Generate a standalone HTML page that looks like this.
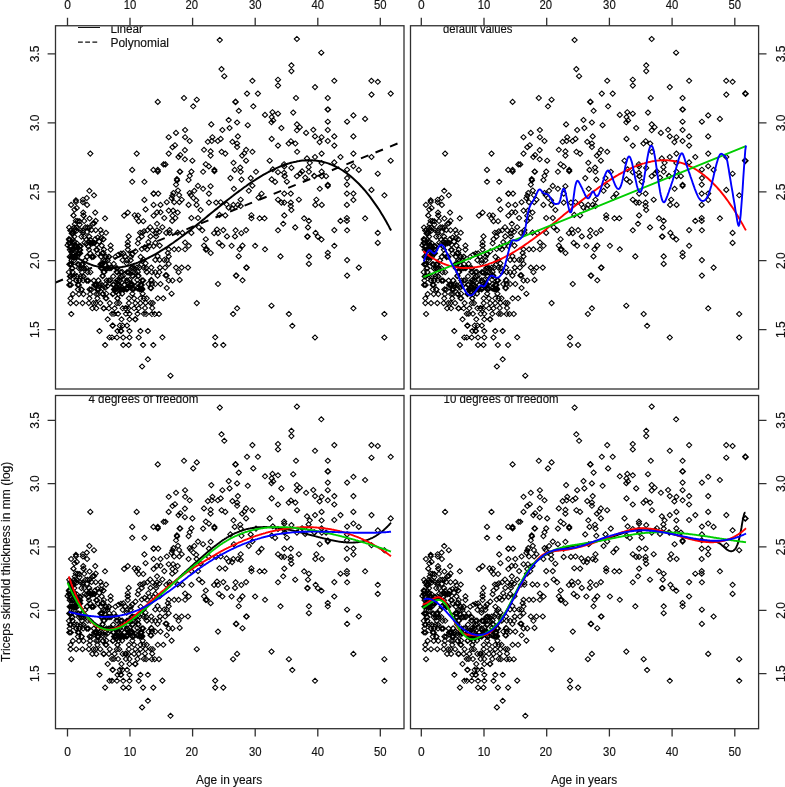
<!DOCTYPE html>
<html><head><meta charset="utf-8"><title>Triceps skinfold thickness by age</title>
<style>html,body{margin:0;padding:0;background:#fff}svg{display:block}text{font-family:"Liberation Sans",Arial,sans-serif;font-size:12px;fill:#111;stroke:#111;stroke-width:0.15px}</style></head><body>
<svg width="785" height="787" viewBox="0 0 785 787">
<rect width="785" height="787" fill="#fff"/>
<clipPath id="cTL"><rect x="56.0" y="26.35" width="347.5" height="362.15"/></clipPath>
<clipPath id="cTR"><rect x="411.0" y="26.35" width="347.1" height="362.15"/></clipPath>
<clipPath id="cBL"><rect x="56.0" y="396.1" width="347.5" height="332.1"/></clipPath>
<clipPath id="cBR"><rect x="411.0" y="396.1" width="347.1" height="332.1"/></clipPath>
<g clip-path="url(#cTL)">
<path d="M87.7,153.6l2.6-2.55l2.6,2.55l-2.6,2.55zM134.1,153.6l2.6-2.55l2.6,2.55l-2.6,2.55zM129.6,169.9l2.6-2.55l2.6,2.55l-2.6,2.55zM129.6,181.8l2.6-2.55l2.6,2.55l-2.6,2.55zM141.8,181.8l2.6-2.55l2.6,2.55l-2.6,2.55zM86.8,190.8l2.6-2.55l2.6,2.55l-2.6,2.55zM91.4,195.3l2.6-2.55l2.6,2.55l-2.6,2.55zM84.2,198.0l2.6-2.55l2.6,2.55l-2.6,2.55zM141.8,199.9l2.6-2.55l2.6,2.55l-2.6,2.55zM73.3,200.3l2.6-2.55l2.6,2.55l-2.6,2.55zM80.3,199.7l2.6-2.55l2.6,2.55l-2.6,2.55zM80.3,202.2l2.6-2.55l2.6,2.55l-2.6,2.55zM73.3,202.0l2.6-2.55l2.6,2.55l-2.6,2.55zM68.5,204.9l2.6-2.55l2.6,2.55l-2.6,2.55zM84.5,204.9l2.6-2.55l2.6,2.55l-2.6,2.55zM226.1,120.0l2.6-2.55l2.6,2.55l-2.6,2.55zM208.7,124.4l2.6-2.55l2.6,2.55l-2.6,2.55zM227.0,128.0l2.6-2.55l2.6,2.55l-2.6,2.55zM219.8,130.0l2.6-2.55l2.6,2.55l-2.6,2.55zM182.5,130.0l2.6-2.55l2.6,2.55l-2.6,2.55zM173.4,132.9l2.6-2.55l2.6,2.55l-2.6,2.55zM166.1,137.2l2.6-2.55l2.6,2.55l-2.6,2.55zM182.5,137.2l2.6-2.55l2.6,2.55l-2.6,2.55zM209.8,137.2l2.6-2.55l2.6,2.55l-2.6,2.55zM187.1,141.0l2.6-2.55l2.6,2.55l-2.6,2.55zM218.1,138.9l2.6-2.55l2.6,2.55l-2.6,2.55zM205.2,141.8l2.6-2.55l2.6,2.55l-2.6,2.55zM209.2,141.0l2.6-2.55l2.6,2.55l-2.6,2.55zM215.2,141.0l2.6-2.55l2.6,2.55l-2.6,2.55zM229.8,141.8l2.6-2.55l2.6,2.55l-2.6,2.55zM172.4,145.2l2.6-2.55l2.6,2.55l-2.6,2.55zM169.9,147.2l2.6-2.55l2.6,2.55l-2.6,2.55zM182.3,150.1l2.6-2.55l2.6,2.55l-2.6,2.55zM201.4,149.8l2.6-2.55l2.6,2.55l-2.6,2.55zM208.0,151.3l2.6-2.55l2.6,2.55l-2.6,2.55zM219.0,151.8l2.6-2.55l2.6,2.55l-2.6,2.55zM222.7,153.6l2.6-2.55l2.6,2.55l-2.6,2.55zM166.1,153.6l2.6-2.55l2.6,2.55l-2.6,2.55zM177.7,155.0l2.6-2.55l2.6,2.55l-2.6,2.55zM175.9,157.0l2.6-2.55l2.6,2.55l-2.6,2.55zM208.0,155.6l2.6-2.55l2.6,2.55l-2.6,2.55zM182.3,159.3l2.6-2.55l2.6,2.55l-2.6,2.55zM189.8,160.7l2.6-2.55l2.6,2.55l-2.6,2.55zM230.9,162.8l2.6-2.55l2.6,2.55l-2.6,2.55zM161.0,164.4l2.6-2.55l2.6,2.55l-2.6,2.55zM162.8,164.4l2.6-2.55l2.6,2.55l-2.6,2.55zM203.2,164.2l2.6-2.55l2.6,2.55l-2.6,2.55zM206.3,166.4l2.6-2.55l2.6,2.55l-2.6,2.55zM150.8,169.9l2.6-2.55l2.6,2.55l-2.6,2.55zM155.2,169.9l2.6-2.55l2.6,2.55l-2.6,2.55zM155.2,171.6l2.6-2.55l2.6,2.55l-2.6,2.55zM211.8,169.9l2.6-2.55l2.6,2.55l-2.6,2.55zM211.8,171.3l2.6-2.55l2.6,2.55l-2.6,2.55zM177.1,171.6l2.6-2.55l2.6,2.55l-2.6,2.55zM177.6,171.7l2.6-2.55l2.6,2.55l-2.6,2.55zM188.8,171.6l2.6-2.55l2.6,2.55l-2.6,2.55zM200.5,171.8l2.6-2.55l2.6,2.55l-2.6,2.55zM232.1,169.9l2.6-2.55l2.6,2.55l-2.6,2.55zM187.1,175.8l2.6-2.55l2.6,2.55l-2.6,2.55zM227.8,178.1l2.6-2.55l2.6,2.55l-2.6,2.55zM174.3,179.1l2.6-2.55l2.6,2.55l-2.6,2.55zM174.5,180.4l2.6-2.55l2.6,2.55l-2.6,2.55zM186.0,180.0l2.6-2.55l2.6,2.55l-2.6,2.55zM173.4,184.6l2.6-2.55l2.6,2.55l-2.6,2.55zM195.4,185.9l2.6-2.55l2.6,2.55l-2.6,2.55zM208.0,186.2l2.6-2.55l2.6,2.55l-2.6,2.55zM200.5,188.8l2.6-2.55l2.6,2.55l-2.6,2.55zM231.3,188.8l2.6-2.55l2.6,2.55l-2.6,2.55zM175.4,190.5l2.6-2.55l2.6,2.55l-2.6,2.55zM191.7,190.8l2.6-2.55l2.6,2.55l-2.6,2.55zM150.8,193.6l2.6-2.55l2.6,2.55l-2.6,2.55zM151.2,193.6l2.6-2.55l2.6,2.55l-2.6,2.55zM155.6,193.6l2.6-2.55l2.6,2.55l-2.6,2.55zM170.8,193.0l2.6-2.55l2.6,2.55l-2.6,2.55zM187.1,193.0l2.6-2.55l2.6,2.55l-2.6,2.55zM206.3,193.6l2.6-2.55l2.6,2.55l-2.6,2.55zM176.5,195.1l2.6-2.55l2.6,2.55l-2.6,2.55zM188.3,195.1l2.6-2.55l2.6,2.55l-2.6,2.55zM169.9,195.7l2.6-2.55l2.6,2.55l-2.6,2.55zM169.0,198.2l2.6-2.55l2.6,2.55l-2.6,2.55zM190.8,198.0l2.6-2.55l2.6,2.55l-2.6,2.55zM179.1,199.7l2.6-2.55l2.6,2.55l-2.6,2.55zM193.6,200.3l2.6-2.55l2.6,2.55l-2.6,2.55zM164.2,202.2l2.6-2.55l2.6,2.55l-2.6,2.55zM171.6,202.2l2.6-2.55l2.6,2.55l-2.6,2.55zM176.8,202.2l2.6-2.55l2.6,2.55l-2.6,2.55zM206.3,202.6l2.6-2.55l2.6,2.55l-2.6,2.55zM213.5,202.6l2.6-2.55l2.6,2.55l-2.6,2.55zM218.1,202.2l2.6-2.55l2.6,2.55l-2.6,2.55zM151.0,204.9l2.6-2.55l2.6,2.55l-2.6,2.55zM157.9,204.9l2.6-2.55l2.6,2.55l-2.6,2.55zM186.0,204.9l2.6-2.55l2.6,2.55l-2.6,2.55zM194.0,204.9l2.6-2.55l2.6,2.55l-2.6,2.55zM224.0,204.3l2.6-2.55l2.6,2.55l-2.6,2.55zM230.7,204.9l2.6-2.55l2.6,2.55l-2.6,2.55zM217.2,40.0l2.6-2.55l2.6,2.55l-2.6,2.55zM218.9,69.1l2.6-2.55l2.6,2.55l-2.6,2.55zM221.7,76.2l2.6-2.55l2.6,2.55l-2.6,2.55zM155.2,101.9l2.6-2.55l2.6,2.55l-2.6,2.55zM181.4,98.0l2.6-2.55l2.6,2.55l-2.6,2.55zM194.2,99.7l2.6-2.55l2.6,2.55l-2.6,2.55zM190.6,106.3l2.6-2.55l2.6,2.55l-2.6,2.55zM294.3,39.0l2.6-2.55l2.6,2.55l-2.6,2.55zM318.7,52.7l2.6-2.55l2.6,2.55l-2.6,2.55zM288.8,65.3l2.6-2.55l2.6,2.55l-2.6,2.55zM288.8,71.1l2.6-2.55l2.6,2.55l-2.6,2.55zM249.8,80.8l2.6-2.55l2.6,2.55l-2.6,2.55zM275.4,79.7l2.6-2.55l2.6,2.55l-2.6,2.55zM275.4,85.6l2.6-2.55l2.6,2.55l-2.6,2.55zM312.4,87.1l2.6-2.55l2.6,2.55l-2.6,2.55zM244.4,93.6l2.6-2.55l2.6,2.55l-2.6,2.55zM255.3,93.6l2.6-2.55l2.6,2.55l-2.6,2.55zM293.4,98.0l2.6-2.55l2.6,2.55l-2.6,2.55zM232.7,101.9l2.6-2.55l2.6,2.55l-2.6,2.55zM233.2,101.9l2.6-2.55l2.6,2.55l-2.6,2.55zM250.7,106.3l2.6-2.55l2.6,2.55l-2.6,2.55zM236.2,110.8l2.6-2.55l2.6,2.55l-2.6,2.55zM269.9,112.2l2.6-2.55l2.6,2.55l-2.6,2.55zM275.4,113.7l2.6-2.55l2.6,2.55l-2.6,2.55zM262.4,114.9l2.6-2.55l2.6,2.55l-2.6,2.55zM290.6,112.6l2.6-2.55l2.6,2.55l-2.6,2.55zM331.7,80.8l2.6-2.55l2.6,2.55l-2.6,2.55zM368.8,80.8l2.6-2.55l2.6,2.55l-2.6,2.55zM375.2,81.8l2.6-2.55l2.6,2.55l-2.6,2.55zM325.2,98.0l2.6-2.55l2.6,2.55l-2.6,2.55zM368.9,94.6l2.6-2.55l2.6,2.55l-2.6,2.55zM388.1,93.6l2.6-2.55l2.6,2.55l-2.6,2.55zM325.0,109.5l2.6-2.55l2.6,2.55l-2.6,2.55zM325.5,109.5l2.6-2.55l2.6,2.55l-2.6,2.55zM350.8,115.4l2.6-2.55l2.6,2.55l-2.6,2.55zM269.1,117.1l2.6-2.55l2.6,2.55l-2.6,2.55zM270.6,120.4l2.6-2.55l2.6,2.55l-2.6,2.55zM268.9,122.3l2.6-2.55l2.6,2.55l-2.6,2.55zM234.5,122.5l2.6-2.55l2.6,2.55l-2.6,2.55zM245.2,125.2l2.6-2.55l2.6,2.55l-2.6,2.55zM278.8,128.0l2.6-2.55l2.6,2.55l-2.6,2.55zM294.3,124.3l2.6-2.55l2.6,2.55l-2.6,2.55zM297.2,127.2l2.6-2.55l2.6,2.55l-2.6,2.55zM294.3,130.3l2.6-2.55l2.6,2.55l-2.6,2.55zM310.7,129.8l2.6-2.55l2.6,2.55l-2.6,2.55zM303.5,132.9l2.6-2.55l2.6,2.55l-2.6,2.55zM235.3,136.4l2.6-2.55l2.6,2.55l-2.6,2.55zM269.1,138.9l2.6-2.55l2.6,2.55l-2.6,2.55zM312.4,136.4l2.6-2.55l2.6,2.55l-2.6,2.55zM319.0,137.2l2.6-2.55l2.6,2.55l-2.6,2.55zM317.0,142.1l2.6-2.55l2.6,2.55l-2.6,2.55zM234.5,143.5l2.6-2.55l2.6,2.55l-2.6,2.55zM234.5,147.0l2.6-2.55l2.6,2.55l-2.6,2.55zM288.3,141.2l2.6-2.55l2.6,2.55l-2.6,2.55zM286.1,143.5l2.6-2.55l2.6,2.55l-2.6,2.55zM292.8,143.5l2.6-2.55l2.6,2.55l-2.6,2.55zM275.4,145.6l2.6-2.55l2.6,2.55l-2.6,2.55zM243.5,149.8l2.6-2.55l2.6,2.55l-2.6,2.55zM249.8,151.8l2.6-2.55l2.6,2.55l-2.6,2.55zM241.6,153.3l2.6-2.55l2.6,2.55l-2.6,2.55zM239.5,155.6l2.6-2.55l2.6,2.55l-2.6,2.55zM294.5,151.8l2.6-2.55l2.6,2.55l-2.6,2.55zM319.0,153.6l2.6-2.55l2.6,2.55l-2.6,2.55zM312.4,157.0l2.6-2.55l2.6,2.55l-2.6,2.55zM304.4,158.4l2.6-2.55l2.6,2.55l-2.6,2.55zM243.5,160.7l2.6-2.55l2.6,2.55l-2.6,2.55zM267.1,160.7l2.6-2.55l2.6,2.55l-2.6,2.55zM281.5,164.2l2.6-2.55l2.6,2.55l-2.6,2.55zM281.7,166.4l2.6-2.55l2.6,2.55l-2.6,2.55zM307.2,162.8l2.6-2.55l2.6,2.55l-2.6,2.55zM319.0,163.0l2.6-2.55l2.6,2.55l-2.6,2.55zM237.6,167.6l2.6-2.55l2.6,2.55l-2.6,2.55zM238.1,171.8l2.6-2.55l2.6,2.55l-2.6,2.55zM288.8,167.9l2.6-2.55l2.6,2.55l-2.6,2.55zM306.0,167.2l2.6-2.55l2.6,2.55l-2.6,2.55zM270.2,169.3l2.6-2.55l2.6,2.55l-2.6,2.55zM275.4,172.2l2.6-2.55l2.6,2.55l-2.6,2.55zM253.4,171.8l2.6-2.55l2.6,2.55l-2.6,2.55zM281.5,172.8l2.6-2.55l2.6,2.55l-2.6,2.55zM281.9,176.2l2.6-2.55l2.6,2.55l-2.6,2.55zM282.2,176.0l2.6-2.55l2.6,2.55l-2.6,2.55zM299.5,171.4l2.6-2.55l2.6,2.55l-2.6,2.55zM297.8,173.3l2.6-2.55l2.6,2.55l-2.6,2.55zM294.3,176.2l2.6-2.55l2.6,2.55l-2.6,2.55zM306.3,171.8l2.6-2.55l2.6,2.55l-2.6,2.55zM319.0,171.6l2.6-2.55l2.6,2.55l-2.6,2.55zM311.5,175.8l2.6-2.55l2.6,2.55l-2.6,2.55zM311.9,176.2l2.6-2.55l2.6,2.55l-2.6,2.55zM302.6,177.6l2.6-2.55l2.6,2.55l-2.6,2.55zM319.2,176.2l2.6-2.55l2.6,2.55l-2.6,2.55zM248.1,178.1l2.6-2.55l2.6,2.55l-2.6,2.55zM238.9,179.6l2.6-2.55l2.6,2.55l-2.6,2.55zM269.1,179.4l2.6-2.55l2.6,2.55l-2.6,2.55zM272.5,181.9l2.6-2.55l2.6,2.55l-2.6,2.55zM284.3,181.7l2.6-2.55l2.6,2.55l-2.6,2.55zM249.8,185.7l2.6-2.55l2.6,2.55l-2.6,2.55zM246.2,190.8l2.6-2.55l2.6,2.55l-2.6,2.55zM317.2,188.8l2.6-2.55l2.6,2.55l-2.6,2.55zM259.0,193.7l2.6-2.55l2.6,2.55l-2.6,2.55zM255.9,197.6l2.6-2.55l2.6,2.55l-2.6,2.55zM281.7,193.6l2.6-2.55l2.6,2.55l-2.6,2.55zM288.2,193.6l2.6-2.55l2.6,2.55l-2.6,2.55zM275.4,199.7l2.6-2.55l2.6,2.55l-2.6,2.55zM296.3,199.7l2.6-2.55l2.6,2.55l-2.6,2.55zM313.8,199.7l2.6-2.55l2.6,2.55l-2.6,2.55zM238.1,199.7l2.6-2.55l2.6,2.55l-2.6,2.55zM278.8,202.6l2.6-2.55l2.6,2.55l-2.6,2.55zM281.7,202.6l2.6-2.55l2.6,2.55l-2.6,2.55zM288.2,202.6l2.6-2.55l2.6,2.55l-2.6,2.55zM235.3,204.9l2.6-2.55l2.6,2.55l-2.6,2.55zM312.7,204.9l2.6-2.55l2.6,2.55l-2.6,2.55zM319.2,204.9l2.6-2.55l2.6,2.55l-2.6,2.55zM362.5,118.9l2.6-2.55l2.6,2.55l-2.6,2.55zM325.2,121.7l2.6-2.55l2.6,2.55l-2.6,2.55zM344.5,121.7l2.6-2.55l2.6,2.55l-2.6,2.55zM325.2,130.0l2.6-2.55l2.6,2.55l-2.6,2.55zM331.7,136.4l2.6-2.55l2.6,2.55l-2.6,2.55zM350.8,136.4l2.6-2.55l2.6,2.55l-2.6,2.55zM325.2,141.0l2.6-2.55l2.6,2.55l-2.6,2.55zM331.7,145.6l2.6-2.55l2.6,2.55l-2.6,2.55zM350.8,153.6l2.6-2.55l2.6,2.55l-2.6,2.55zM337.9,157.0l2.6-2.55l2.6,2.55l-2.6,2.55zM368.9,157.0l2.6-2.55l2.6,2.55l-2.6,2.55zM388.1,160.7l2.6-2.55l2.6,2.55l-2.6,2.55zM331.7,162.4l2.6-2.55l2.6,2.55l-2.6,2.55zM350.8,166.2l2.6-2.55l2.6,2.55l-2.6,2.55zM344.5,169.7l2.6-2.55l2.6,2.55l-2.6,2.55zM356.2,169.9l2.6-2.55l2.6,2.55l-2.6,2.55zM375.2,173.7l2.6-2.55l2.6,2.55l-2.6,2.55zM323.5,176.2l2.6-2.55l2.6,2.55l-2.6,2.55zM344.5,178.1l2.6-2.55l2.6,2.55l-2.6,2.55zM344.3,184.6l2.6-2.55l2.6,2.55l-2.6,2.55zM325.2,184.8l2.6-2.55l2.6,2.55l-2.6,2.55zM325.2,185.9l2.6-2.55l2.6,2.55l-2.6,2.55zM368.9,189.9l2.6-2.55l2.6,2.55l-2.6,2.55zM344.3,193.6l2.6-2.55l2.6,2.55l-2.6,2.55zM350.8,193.6l2.6-2.55l2.6,2.55l-2.6,2.55zM381.8,195.3l2.6-2.55l2.6,2.55l-2.6,2.55zM350.8,200.0l2.6-2.55l2.6,2.55l-2.6,2.55zM344.3,204.9l2.6-2.55l2.6,2.55l-2.6,2.55zM362.5,218.3l2.6-2.55l2.6,2.55l-2.6,2.55zM344.3,218.0l2.6-2.55l2.6,2.55l-2.6,2.55zM344.3,220.9l2.6-2.55l2.6,2.55l-2.6,2.55zM337.9,220.9l2.6-2.55l2.6,2.55l-2.6,2.55zM331.7,230.1l2.6-2.55l2.6,2.55l-2.6,2.55zM344.5,230.3l2.6-2.55l2.6,2.55l-2.6,2.55zM375.2,232.9l2.6-2.55l2.6,2.55l-2.6,2.55zM313.0,232.9l2.6-2.55l2.6,2.55l-2.6,2.55zM315.3,236.7l2.6-2.55l2.6,2.55l-2.6,2.55zM318.9,239.5l2.6-2.55l2.6,2.55l-2.6,2.55zM375.2,242.9l2.6-2.55l2.6,2.55l-2.6,2.55zM331.7,245.8l2.6-2.55l2.6,2.55l-2.6,2.55zM325.2,252.8l2.6-2.55l2.6,2.55l-2.6,2.55zM325.2,256.4l2.6-2.55l2.6,2.55l-2.6,2.55zM344.5,260.1l2.6-2.55l2.6,2.55l-2.6,2.55zM356.2,267.6l2.6-2.55l2.6,2.55l-2.6,2.55zM344.5,275.6l2.6-2.55l2.6,2.55l-2.6,2.55zM238.1,206.0l2.6-2.55l2.6,2.55l-2.6,2.55zM288.2,206.0l2.6-2.55l2.6,2.55l-2.6,2.55zM288.8,210.0l2.6-2.55l2.6,2.55l-2.6,2.55zM248.8,215.2l2.6-2.55l2.6,2.55l-2.6,2.55zM248.8,218.3l2.6-2.55l2.6,2.55l-2.6,2.55zM257.0,218.3l2.6-2.55l2.6,2.55l-2.6,2.55zM261.9,218.3l2.6-2.55l2.6,2.55l-2.6,2.55zM281.7,215.4l2.6-2.55l2.6,2.55l-2.6,2.55zM301.5,218.3l2.6-2.55l2.6,2.55l-2.6,2.55zM306.3,220.9l2.6-2.55l2.6,2.55l-2.6,2.55zM280.6,223.8l2.6-2.55l2.6,2.55l-2.6,2.55zM292.6,227.4l2.6-2.55l2.6,2.55l-2.6,2.55zM305.4,227.4l2.6-2.55l2.6,2.55l-2.6,2.55zM275.4,230.3l2.6-2.55l2.6,2.55l-2.6,2.55zM233.0,230.3l2.6-2.55l2.6,2.55l-2.6,2.55zM243.5,230.1l2.6-2.55l2.6,2.55l-2.6,2.55zM238.7,233.2l2.6-2.55l2.6,2.55l-2.6,2.55zM232.4,236.4l2.6-2.55l2.6,2.55l-2.6,2.55zM304.6,236.6l2.6-2.55l2.6,2.55l-2.6,2.55zM305.1,236.6l2.6-2.55l2.6,2.55l-2.6,2.55zM239.9,245.6l2.6-2.55l2.6,2.55l-2.6,2.55zM237.0,249.3l2.6-2.55l2.6,2.55l-2.6,2.55zM252.5,245.8l2.6-2.55l2.6,2.55l-2.6,2.55zM262.4,249.3l2.6-2.55l2.6,2.55l-2.6,2.55zM236.1,256.4l2.6-2.55l2.6,2.55l-2.6,2.55zM277.9,256.4l2.6-2.55l2.6,2.55l-2.6,2.55zM306.3,256.4l2.6-2.55l2.6,2.55l-2.6,2.55zM306.3,263.9l2.6-2.55l2.6,2.55l-2.6,2.55zM243.6,267.6l2.6-2.55l2.6,2.55l-2.6,2.55zM244.1,267.6l2.6-2.55l2.6,2.55l-2.6,2.55zM233.3,275.6l2.6-2.55l2.6,2.55l-2.6,2.55zM233.8,275.6l2.6-2.55l2.6,2.55l-2.6,2.55zM239.9,280.3l2.6-2.55l2.6,2.55l-2.6,2.55zM198.0,210.0l2.6-2.55l2.6,2.55l-2.6,2.55zM143.0,209.4l2.6-2.55l2.6,2.55l-2.6,2.55zM154.4,212.3l2.6-2.55l2.6,2.55l-2.6,2.55zM157.9,212.3l2.6-2.55l2.6,2.55l-2.6,2.55zM151.0,215.7l2.6-2.55l2.6,2.55l-2.6,2.55zM166.1,210.6l2.6-2.55l2.6,2.55l-2.6,2.55zM170.5,210.6l2.6-2.55l2.6,2.55l-2.6,2.55zM175.1,212.5l2.6-2.55l2.6,2.55l-2.6,2.55zM169.9,215.7l2.6-2.55l2.6,2.55l-2.6,2.55zM172.8,218.0l2.6-2.55l2.6,2.55l-2.6,2.55zM169.6,220.9l2.6-2.55l2.6,2.55l-2.6,2.55zM161.7,218.0l2.6-2.55l2.6,2.55l-2.6,2.55zM188.8,218.0l2.6-2.55l2.6,2.55l-2.6,2.55zM195.4,218.0l2.6-2.55l2.6,2.55l-2.6,2.55zM222.7,215.4l2.6-2.55l2.6,2.55l-2.6,2.55zM216.9,214.9l2.6-2.55l2.6,2.55l-2.6,2.55zM226.1,207.7l2.6-2.55l2.6,2.55l-2.6,2.55zM229.5,208.3l2.6-2.55l2.6,2.55l-2.6,2.55zM154.4,223.8l2.6-2.55l2.6,2.55l-2.6,2.55zM147.6,227.2l2.6-2.55l2.6,2.55l-2.6,2.55zM159.8,227.2l2.6-2.55l2.6,2.55l-2.6,2.55zM144.7,230.3l2.6-2.55l2.6,2.55l-2.6,2.55zM149.9,230.3l2.6-2.55l2.6,2.55l-2.6,2.55zM154.4,230.3l2.6-2.55l2.6,2.55l-2.6,2.55zM156.7,231.8l2.6-2.55l2.6,2.55l-2.6,2.55zM153.5,233.5l2.6-2.55l2.6,2.55l-2.6,2.55zM167.0,230.1l2.6-2.55l2.6,2.55l-2.6,2.55zM163.6,232.9l2.6-2.55l2.6,2.55l-2.6,2.55zM167.0,232.9l2.6-2.55l2.6,2.55l-2.6,2.55zM147.9,236.4l2.6-2.55l2.6,2.55l-2.6,2.55zM153.5,236.4l2.6-2.55l2.6,2.55l-2.6,2.55zM175.1,232.6l2.6-2.55l2.6,2.55l-2.6,2.55zM179.9,232.9l2.6-2.55l2.6,2.55l-2.6,2.55zM188.8,232.9l2.6-2.55l2.6,2.55l-2.6,2.55zM196.3,227.2l2.6-2.55l2.6,2.55l-2.6,2.55zM199.7,230.3l2.6-2.55l2.6,2.55l-2.6,2.55zM214.4,229.5l2.6-2.55l2.6,2.55l-2.6,2.55zM220.7,230.1l2.6-2.55l2.6,2.55l-2.6,2.55zM211.5,233.2l2.6-2.55l2.6,2.55l-2.6,2.55zM215.4,233.2l2.6-2.55l2.6,2.55l-2.6,2.55zM224.4,236.4l2.6-2.55l2.6,2.55l-2.6,2.55zM203.2,239.2l2.6-2.55l2.6,2.55l-2.6,2.55zM145.8,242.1l2.6-2.55l2.6,2.55l-2.6,2.55zM152.7,242.9l2.6-2.55l2.6,2.55l-2.6,2.55zM147.0,245.9l2.6-2.55l2.6,2.55l-2.6,2.55zM157.1,245.6l2.6-2.55l2.6,2.55l-2.6,2.55zM144.5,249.3l2.6-2.55l2.6,2.55l-2.6,2.55zM151.0,246.1l2.6-2.55l2.6,2.55l-2.6,2.55zM182.5,242.5l2.6-2.55l2.6,2.55l-2.6,2.55zM186.2,245.8l2.6-2.55l2.6,2.55l-2.6,2.55zM182.5,249.3l2.6-2.55l2.6,2.55l-2.6,2.55zM176.0,249.3l2.6-2.55l2.6,2.55l-2.6,2.55zM171.6,249.3l2.6-2.55l2.6,2.55l-2.6,2.55zM166.1,249.3l2.6-2.55l2.6,2.55l-2.6,2.55zM201.4,245.6l2.6-2.55l2.6,2.55l-2.6,2.55zM204.3,249.3l2.6-2.55l2.6,2.55l-2.6,2.55zM203.2,249.6l2.6-2.55l2.6,2.55l-2.6,2.55zM208.1,253.0l2.6-2.55l2.6,2.55l-2.6,2.55zM216.3,242.9l2.6-2.55l2.6,2.55l-2.6,2.55zM219.8,245.8l2.6-2.55l2.6,2.55l-2.6,2.55zM229.0,245.8l2.6-2.55l2.6,2.55l-2.6,2.55zM165.3,253.0l2.6-2.55l2.6,2.55l-2.6,2.55zM155.0,256.1l2.6-2.55l2.6,2.55l-2.6,2.55zM166.1,256.4l2.6-2.55l2.6,2.55l-2.6,2.55zM152.7,259.9l2.6-2.55l2.6,2.55l-2.6,2.55zM157.0,259.9l2.6-2.55l2.6,2.55l-2.6,2.55zM161.7,259.9l2.6-2.55l2.6,2.55l-2.6,2.55zM164.2,260.1l2.6-2.55l2.6,2.55l-2.6,2.55zM166.1,263.9l2.6-2.55l2.6,2.55l-2.6,2.55zM162.5,267.6l2.6-2.55l2.6,2.55l-2.6,2.55zM157.3,267.6l2.6-2.55l2.6,2.55l-2.6,2.55zM157.5,267.7l2.6-2.55l2.6,2.55l-2.6,2.55zM148.7,267.6l2.6-2.55l2.6,2.55l-2.6,2.55zM173.4,267.6l2.6-2.55l2.6,2.55l-2.6,2.55zM179.1,267.6l2.6-2.55l2.6,2.55l-2.6,2.55zM185.4,267.6l2.6-2.55l2.6,2.55l-2.6,2.55zM176.0,272.2l2.6-2.55l2.6,2.55l-2.6,2.55zM143.0,263.3l2.6-2.55l2.6,2.55l-2.6,2.55zM143.5,267.9l2.6-2.55l2.6,2.55l-2.6,2.55zM143.8,268.1l2.6-2.55l2.6,2.55l-2.6,2.55zM144.1,271.9l2.6-2.55l2.6,2.55l-2.6,2.55zM144.3,272.2l2.6-2.55l2.6,2.55l-2.6,2.55zM149.3,272.2l2.6-2.55l2.6,2.55l-2.6,2.55zM152.7,272.2l2.6-2.55l2.6,2.55l-2.6,2.55zM156.7,272.2l2.6-2.55l2.6,2.55l-2.6,2.55zM155.0,275.7l2.6-2.55l2.6,2.55l-2.6,2.55zM163.0,275.4l2.6-2.55l2.6,2.55l-2.6,2.55zM164.0,275.4l2.6-2.55l2.6,2.55l-2.6,2.55zM166.1,280.5l2.6-2.55l2.6,2.55l-2.6,2.55zM169.9,280.5l2.6-2.55l2.6,2.55l-2.6,2.55zM177.1,279.9l2.6-2.55l2.6,2.55l-2.6,2.55zM148.7,279.9l2.6-2.55l2.6,2.55l-2.6,2.55zM149.0,280.5l2.6-2.55l2.6,2.55l-2.6,2.55zM149.3,284.0l2.6-2.55l2.6,2.55l-2.6,2.55zM145.8,284.0l2.6-2.55l2.6,2.55l-2.6,2.55zM152.7,284.0l2.6-2.55l2.6,2.55l-2.6,2.55zM157.9,284.0l2.6-2.55l2.6,2.55l-2.6,2.55zM147.9,288.0l2.6-2.55l2.6,2.55l-2.6,2.55zM148.6,288.1l2.6-2.55l2.6,2.55l-2.6,2.55zM164.2,288.0l2.6-2.55l2.6,2.55l-2.6,2.55zM169.0,293.7l2.6-2.55l2.6,2.55l-2.6,2.55zM215.4,284.0l2.6-2.55l2.6,2.55l-2.6,2.55zM155.2,298.3l2.6-2.55l2.6,2.55l-2.6,2.55zM160.7,298.3l2.6-2.55l2.6,2.55l-2.6,2.55zM144.1,298.3l2.6-2.55l2.6,2.55l-2.6,2.55zM148.1,302.9l2.6-2.55l2.6,2.55l-2.6,2.55zM150.2,303.1l2.6-2.55l2.6,2.55l-2.6,2.55zM143.0,302.9l2.6-2.55l2.6,2.55l-2.6,2.55zM149.6,308.0l2.6-2.55l2.6,2.55l-2.6,2.55zM142.4,308.0l2.6-2.55l2.6,2.55l-2.6,2.55zM143.5,314.0l2.6-2.55l2.6,2.55l-2.6,2.55zM149.3,314.0l2.6-2.55l2.6,2.55l-2.6,2.55zM152.1,314.0l2.6-2.55l2.6,2.55l-2.6,2.55zM156.4,314.0l2.6-2.55l2.6,2.55l-2.6,2.55zM194.2,303.1l2.6-2.55l2.6,2.55l-2.6,2.55zM230.5,314.0l2.6-2.55l2.6,2.55l-2.6,2.55zM145.3,331.0l2.6-2.55l2.6,2.55l-2.6,2.55zM159.8,337.3l2.6-2.55l2.6,2.55l-2.6,2.55zM150.7,345.0l2.6-2.55l2.6,2.55l-2.6,2.55zM145.3,359.3l2.6-2.55l2.6,2.55l-2.6,2.55zM212.6,337.3l2.6-2.55l2.6,2.55l-2.6,2.55zM212.6,345.0l2.6-2.55l2.6,2.55l-2.6,2.55zM220.7,345.0l2.6-2.55l2.6,2.55l-2.6,2.55zM167.9,375.7l2.6-2.55l2.6,2.55l-2.6,2.55zM234.5,308.3l2.6-2.55l2.6,2.55l-2.6,2.55zM268.9,305.7l2.6-2.55l2.6,2.55l-2.6,2.55zM286.3,314.0l2.6-2.55l2.6,2.55l-2.6,2.55zM289.7,325.8l2.6-2.55l2.6,2.55l-2.6,2.55zM312.4,337.5l2.6-2.55l2.6,2.55l-2.6,2.55zM350.8,308.3l2.6-2.55l2.6,2.55l-2.6,2.55zM381.8,314.0l2.6-2.55l2.6,2.55l-2.6,2.55zM381.8,337.5l2.6-2.55l2.6,2.55l-2.6,2.55zM67.9,298.3l2.6-2.55l2.6,2.55l-2.6,2.55zM86.8,298.3l2.6-2.55l2.6,2.55l-2.6,2.55zM94.8,298.3l2.6-2.55l2.6,2.55l-2.6,2.55zM103.1,298.3l2.6-2.55l2.6,2.55l-2.6,2.55zM103.8,298.3l2.6-2.55l2.6,2.55l-2.6,2.55zM114.7,298.3l2.6-2.55l2.6,2.55l-2.6,2.55zM115.1,298.3l2.6-2.55l2.6,2.55l-2.6,2.55zM126.3,298.3l2.6-2.55l2.6,2.55l-2.6,2.55zM131.5,298.3l2.6-2.55l2.6,2.55l-2.6,2.55zM137.8,298.3l2.6-2.55l2.6,2.55l-2.6,2.55zM141.3,298.3l2.6-2.55l2.6,2.55l-2.6,2.55zM67.9,303.1l2.6-2.55l2.6,2.55l-2.6,2.55zM73.6,303.1l2.6-2.55l2.6,2.55l-2.6,2.55zM79.9,303.1l2.6-2.55l2.6,2.55l-2.6,2.55zM86.2,303.1l2.6-2.55l2.6,2.55l-2.6,2.55zM90.8,303.1l2.6-2.55l2.6,2.55l-2.6,2.55zM93.1,303.1l2.6-2.55l2.6,2.55l-2.6,2.55zM97.7,303.1l2.6-2.55l2.6,2.55l-2.6,2.55zM107.2,303.1l2.6-2.55l2.6,2.55l-2.6,2.55zM114.3,303.1l2.6-2.55l2.6,2.55l-2.6,2.55zM116.6,303.1l2.6-2.55l2.6,2.55l-2.6,2.55zM126.3,303.1l2.6-2.55l2.6,2.55l-2.6,2.55zM132.7,303.1l2.6-2.55l2.6,2.55l-2.6,2.55zM137.8,303.1l2.6-2.55l2.6,2.55l-2.6,2.55zM89.7,308.3l2.6-2.55l2.6,2.55l-2.6,2.55zM93.7,308.3l2.6-2.55l2.6,2.55l-2.6,2.55zM100.9,308.3l2.6-2.55l2.6,2.55l-2.6,2.55zM101.4,308.3l2.6-2.55l2.6,2.55l-2.6,2.55zM106.3,308.3l2.6-2.55l2.6,2.55l-2.6,2.55zM112.0,308.3l2.6-2.55l2.6,2.55l-2.6,2.55zM120.0,308.3l2.6-2.55l2.6,2.55l-2.6,2.55zM122.7,308.3l2.6-2.55l2.6,2.55l-2.6,2.55zM123.1,308.3l2.6-2.55l2.6,2.55l-2.6,2.55zM123.5,308.3l2.6-2.55l2.6,2.55l-2.6,2.55zM125.8,308.3l2.6-2.55l2.6,2.55l-2.6,2.55zM131.5,308.3l2.6-2.55l2.6,2.55l-2.6,2.55zM136.1,308.3l2.6-2.55l2.6,2.55l-2.6,2.55zM68.7,314.0l2.6-2.55l2.6,2.55l-2.6,2.55zM109.4,313.8l2.6-2.55l2.6,2.55l-2.6,2.55zM111.4,313.8l2.6-2.55l2.6,2.55l-2.6,2.55zM115.5,313.8l2.6-2.55l2.6,2.55l-2.6,2.55zM123.3,313.8l2.6-2.55l2.6,2.55l-2.6,2.55zM126.9,313.8l2.6-2.55l2.6,2.55l-2.6,2.55zM134.9,313.8l2.6-2.55l2.6,2.55l-2.6,2.55zM141.3,313.8l2.6-2.55l2.6,2.55l-2.6,2.55zM105.1,319.3l2.6-2.55l2.6,2.55l-2.6,2.55zM118.9,319.3l2.6-2.55l2.6,2.55l-2.6,2.55zM126.9,319.3l2.6-2.55l2.6,2.55l-2.6,2.55zM132.4,319.3l2.6-2.55l2.6,2.55l-2.6,2.55zM132.9,319.3l2.6-2.55l2.6,2.55l-2.6,2.55zM109.8,325.6l2.6-2.55l2.6,2.55l-2.6,2.55zM110.3,325.6l2.6-2.55l2.6,2.55l-2.6,2.55zM117.2,325.6l2.6-2.55l2.6,2.55l-2.6,2.55zM120.0,325.6l2.6-2.55l2.6,2.55l-2.6,2.55zM124.4,325.6l2.6-2.55l2.6,2.55l-2.6,2.55zM96.9,331.0l2.6-2.55l2.6,2.55l-2.6,2.55zM114.9,331.0l2.6-2.55l2.6,2.55l-2.6,2.55zM118.1,331.0l2.6-2.55l2.6,2.55l-2.6,2.55zM118.6,331.0l2.6-2.55l2.6,2.55l-2.6,2.55zM126.9,331.0l2.6-2.55l2.6,2.55l-2.6,2.55zM137.8,331.0l2.6-2.55l2.6,2.55l-2.6,2.55zM106.9,337.5l2.6-2.55l2.6,2.55l-2.6,2.55zM109.4,337.5l2.6-2.55l2.6,2.55l-2.6,2.55zM114.3,337.5l2.6-2.55l2.6,2.55l-2.6,2.55zM120.6,337.5l2.6-2.55l2.6,2.55l-2.6,2.55zM126.9,337.5l2.6-2.55l2.6,2.55l-2.6,2.55zM136.1,337.5l2.6-2.55l2.6,2.55l-2.6,2.55zM102.5,345.0l2.6-2.55l2.6,2.55l-2.6,2.55zM120.6,345.0l2.6-2.55l2.6,2.55l-2.6,2.55zM126.1,345.0l2.6-2.55l2.6,2.55l-2.6,2.55zM140.5,345.0l2.6-2.55l2.6,2.55l-2.6,2.55zM139.5,366.5l2.6-2.55l2.6,2.55l-2.6,2.55zM102.4,218.3l2.6-2.55l2.6,2.55l-2.6,2.55zM121.5,215.6l2.6-2.55l2.6,2.55l-2.6,2.55zM125.2,212.6l2.6-2.55l2.6,2.55l-2.6,2.55zM132.1,215.2l2.6-2.55l2.6,2.55l-2.6,2.55zM135.5,215.5l2.6-2.55l2.6,2.55l-2.6,2.55zM134.1,218.3l2.6-2.55l2.6,2.55l-2.6,2.55zM136.1,221.2l2.6-2.55l2.6,2.55l-2.6,2.55zM140.7,221.2l2.6-2.55l2.6,2.55l-2.6,2.55zM98.0,230.1l2.6-2.55l2.6,2.55l-2.6,2.55zM103.4,232.8l2.6-2.55l2.6,2.55l-2.6,2.55zM99.1,233.5l2.6-2.55l2.6,2.55l-2.6,2.55zM126.1,236.4l2.6-2.55l2.6,2.55l-2.6,2.55zM125.2,242.1l2.6-2.55l2.6,2.55l-2.6,2.55zM125.1,245.4l2.6-2.55l2.6,2.55l-2.6,2.55zM125.3,245.7l2.6-2.55l2.6,2.55l-2.6,2.55zM125.2,249.6l2.6-2.55l2.6,2.55l-2.6,2.55zM137.5,232.7l2.6-2.55l2.6,2.55l-2.6,2.55zM139.8,232.7l2.6-2.55l2.6,2.55l-2.6,2.55zM141.5,231.2l2.6-2.55l2.6,2.55l-2.6,2.55zM139.2,236.4l2.6-2.55l2.6,2.55l-2.6,2.55zM136.1,239.2l2.6-2.55l2.6,2.55l-2.6,2.55zM135.2,243.3l2.6-2.55l2.6,2.55l-2.6,2.55zM100.7,239.2l2.6-2.55l2.6,2.55l-2.6,2.55zM101.0,239.2l2.6-2.55l2.6,2.55l-2.6,2.55zM98.5,238.1l2.6-2.55l2.6,2.55l-2.6,2.55zM108.0,245.6l2.6-2.55l2.6,2.55l-2.6,2.55zM108.0,249.6l2.6-2.55l2.6,2.55l-2.6,2.55zM99.1,245.6l2.6-2.55l2.6,2.55l-2.6,2.55zM101.4,249.6l2.6-2.55l2.6,2.55l-2.6,2.55zM139.2,249.0l2.6-2.55l2.6,2.55l-2.6,2.55zM142.0,247.3l2.6-2.55l2.6,2.55l-2.6,2.55zM142.2,247.4l2.6-2.55l2.6,2.55l-2.6,2.55zM71.9,209.6l2.6-2.55l2.6,2.55l-2.6,2.55zM74.2,208.0l2.6-2.55l2.6,2.55l-2.6,2.55zM70.8,215.4l2.6-2.55l2.6,2.55l-2.6,2.55zM71.0,215.5l2.6-2.55l2.6,2.55l-2.6,2.55zM92.6,212.6l2.6-2.55l2.6,2.55l-2.6,2.55zM80.6,212.6l2.6-2.55l2.6,2.55l-2.6,2.55zM80.8,215.4l2.6-2.55l2.6,2.55l-2.6,2.55zM81.1,215.7l2.6-2.55l2.6,2.55l-2.6,2.55zM87.0,218.5l2.6-2.55l2.6,2.55l-2.6,2.55zM73.2,220.8l2.6-2.55l2.6,2.55l-2.6,2.55zM75.2,221.0l2.6-2.55l2.6,2.55l-2.6,2.55zM77.0,221.3l2.6-2.55l2.6,2.55l-2.6,2.55zM81.6,221.0l2.6-2.55l2.6,2.55l-2.6,2.55zM72.2,224.1l2.6-2.55l2.6,2.55l-2.6,2.55zM77.0,224.6l2.6-2.55l2.6,2.55l-2.6,2.55zM93.1,220.8l2.6-2.55l2.6,2.55l-2.6,2.55zM91.5,223.3l2.6-2.55l2.6,2.55l-2.6,2.55zM90.0,223.8l2.6-2.55l2.6,2.55l-2.6,2.55zM82.9,227.4l2.6-2.55l2.6,2.55l-2.6,2.55zM84.9,227.4l2.6-2.55l2.6,2.55l-2.6,2.55zM69.1,229.9l2.6-2.55l2.6,2.55l-2.6,2.55zM70.4,231.5l2.6-2.55l2.6,2.55l-2.6,2.55zM72.2,229.9l2.6-2.55l2.6,2.55l-2.6,2.55zM70.6,233.5l2.6-2.55l2.6,2.55l-2.6,2.55zM80.3,232.5l2.6-2.55l2.6,2.55l-2.6,2.55zM84.4,232.0l2.6-2.55l2.6,2.55l-2.6,2.55zM89.0,229.9l2.6-2.55l2.6,2.55l-2.6,2.55zM93.1,230.2l2.6-2.55l2.6,2.55l-2.6,2.55zM78.8,236.6l2.6-2.55l2.6,2.55l-2.6,2.55zM81.6,236.6l2.6-2.55l2.6,2.55l-2.6,2.55zM86.7,236.6l2.6-2.55l2.6,2.55l-2.6,2.55zM66.3,239.1l2.6-2.55l2.6,2.55l-2.6,2.55zM70.1,239.6l2.6-2.55l2.6,2.55l-2.6,2.55zM71.7,241.7l2.6-2.55l2.6,2.55l-2.6,2.55zM74.2,243.2l2.6-2.55l2.6,2.55l-2.6,2.55zM72.7,244.7l2.6-2.55l2.6,2.55l-2.6,2.55zM81.9,242.7l2.6-2.55l2.6,2.55l-2.6,2.55zM83.9,243.7l2.6-2.55l2.6,2.55l-2.6,2.55zM85.9,241.7l2.6-2.55l2.6,2.55l-2.6,2.55zM92.6,239.1l2.6-2.55l2.6,2.55l-2.6,2.55zM95.1,237.6l2.6-2.55l2.6,2.55l-2.6,2.55zM96.6,241.7l2.6-2.55l2.6,2.55l-2.6,2.55zM90.0,243.2l2.6-2.55l2.6,2.55l-2.6,2.55zM94.1,244.7l2.6-2.55l2.6,2.55l-2.6,2.55zM65.0,245.2l2.6-2.55l2.6,2.55l-2.6,2.55zM100.8,252.7l2.6-2.55l2.6,2.55l-2.6,2.55zM102.8,256.4l2.6-2.55l2.6,2.55l-2.6,2.55zM105.1,260.2l2.6-2.55l2.6,2.55l-2.6,2.55zM111.2,263.9l2.6-2.55l2.6,2.55l-2.6,2.55zM108.9,267.3l2.6-2.55l2.6,2.55l-2.6,2.55zM101.7,271.9l2.6-2.55l2.6,2.55l-2.6,2.55zM100.0,275.6l2.6-2.55l2.6,2.55l-2.6,2.55zM115.7,254.7l2.6-2.55l2.6,2.55l-2.6,2.55zM118.3,253.6l2.6-2.55l2.6,2.55l-2.6,2.55zM122.6,256.4l2.6-2.55l2.6,2.55l-2.6,2.55zM120.0,260.2l2.6-2.55l2.6,2.55l-2.6,2.55zM124.3,260.5l2.6-2.55l2.6,2.55l-2.6,2.55zM128.1,260.2l2.6-2.55l2.6,2.55l-2.6,2.55zM124.1,263.3l2.6-2.55l2.6,2.55l-2.6,2.55zM130.1,267.6l2.6-2.55l2.6,2.55l-2.6,2.55zM134.4,267.6l2.6-2.55l2.6,2.55l-2.6,2.55zM138.7,264.5l2.6-2.55l2.6,2.55l-2.6,2.55zM119.5,271.9l2.6-2.55l2.6,2.55l-2.6,2.55zM114.0,271.9l2.6-2.55l2.6,2.55l-2.6,2.55zM120.3,275.9l2.6-2.55l2.6,2.55l-2.6,2.55zM129.8,275.6l2.6-2.55l2.6,2.55l-2.6,2.55zM135.8,275.6l2.6-2.55l2.6,2.55l-2.6,2.55zM135.2,271.9l2.6-2.55l2.6,2.55l-2.6,2.55zM121.5,279.9l2.6-2.55l2.6,2.55l-2.6,2.55zM126.9,279.9l2.6-2.55l2.6,2.55l-2.6,2.55zM134.7,279.9l2.6-2.55l2.6,2.55l-2.6,2.55zM139.5,280.2l2.6-2.55l2.6,2.55l-2.6,2.55zM115.2,279.9l2.6-2.55l2.6,2.55l-2.6,2.55zM107.7,280.2l2.6-2.55l2.6,2.55l-2.6,2.55zM114.9,284.0l2.6-2.55l2.6,2.55l-2.6,2.55zM110.9,284.2l2.6-2.55l2.6,2.55l-2.6,2.55zM103.1,284.2l2.6-2.55l2.6,2.55l-2.6,2.55zM98.3,284.0l2.6-2.55l2.6,2.55l-2.6,2.55zM129.5,284.0l2.6-2.55l2.6,2.55l-2.6,2.55zM135.2,284.0l2.6-2.55l2.6,2.55l-2.6,2.55zM124.1,288.3l2.6-2.55l2.6,2.55l-2.6,2.55zM130.1,288.5l2.6-2.55l2.6,2.55l-2.6,2.55zM131.8,288.5l2.6-2.55l2.6,2.55l-2.6,2.55zM134.9,288.5l2.6-2.55l2.6,2.55l-2.6,2.55zM139.5,288.5l2.6-2.55l2.6,2.55l-2.6,2.55zM110.6,293.7l2.6-2.55l2.6,2.55l-2.6,2.55zM119.5,293.7l2.6-2.55l2.6,2.55l-2.6,2.55zM129.8,293.7l2.6-2.55l2.6,2.55l-2.6,2.55zM140.1,293.7l2.6-2.55l2.6,2.55l-2.6,2.55zM103.7,293.7l2.6-2.55l2.6,2.55l-2.6,2.55zM100.3,293.7l2.6-2.55l2.6,2.55l-2.6,2.55zM100.0,288.3l2.6-2.55l2.6,2.55l-2.6,2.55zM112.9,287.7l2.6-2.55l2.6,2.55l-2.6,2.55zM113.7,292.0l2.6-2.55l2.6,2.55l-2.6,2.55zM98.5,256.7l2.6-2.55l2.6,2.55l-2.6,2.55zM100.8,260.2l2.6-2.55l2.6,2.55l-2.6,2.55zM99.1,264.2l2.6-2.55l2.6,2.55l-2.6,2.55zM103.1,265.3l2.6-2.55l2.6,2.55l-2.6,2.55zM106.6,264.2l2.6-2.55l2.6,2.55l-2.6,2.55zM98.5,268.2l2.6-2.55l2.6,2.55l-2.6,2.55zM131.8,268.2l2.6-2.55l2.6,2.55l-2.6,2.55zM137.0,267.6l2.6-2.55l2.6,2.55l-2.6,2.55zM141.0,267.6l2.6-2.55l2.6,2.55l-2.6,2.55zM99.7,285.4l2.6-2.55l2.6,2.55l-2.6,2.55zM102.6,287.7l2.6-2.55l2.6,2.55l-2.6,2.55zM104.9,286.0l2.6-2.55l2.6,2.55l-2.6,2.55zM115.7,283.7l2.6-2.55l2.6,2.55l-2.6,2.55zM141.0,259.6l2.6-2.55l2.6,2.55l-2.6,2.55zM139.8,261.3l2.6-2.55l2.6,2.55l-2.6,2.55zM129.5,254.4l2.6-2.55l2.6,2.55l-2.6,2.55zM132.9,251.3l2.6-2.55l2.6,2.55l-2.6,2.55zM114.6,284.1l2.6-2.55l2.6,2.55l-2.6,2.55zM135.4,284.1l2.6-2.55l2.6,2.55l-2.6,2.55zM130.1,267.8l2.6-2.55l2.6,2.55l-2.6,2.55zM67.2,249.8l2.6-2.55l2.6,2.55l-2.6,2.55zM69.7,253.3l2.6-2.55l2.6,2.55l-2.6,2.55zM67.4,239.8l2.6-2.55l2.6,2.55l-2.6,2.55zM68.6,264.3l2.6-2.55l2.6,2.55l-2.6,2.55zM68.9,264.3l2.6-2.55l2.6,2.55l-2.6,2.55zM68.4,264.4l2.6-2.55l2.6,2.55l-2.6,2.55zM66.4,239.8l2.6-2.55l2.6,2.55l-2.6,2.55zM70.2,243.0l2.6-2.55l2.6,2.55l-2.6,2.55zM67.3,239.8l2.6-2.55l2.6,2.55l-2.6,2.55zM67.1,256.8l2.6-2.55l2.6,2.55l-2.6,2.55zM67.6,256.6l2.6-2.55l2.6,2.55l-2.6,2.55zM67.4,239.8l2.6-2.55l2.6,2.55l-2.6,2.55zM66.6,227.5l2.6-2.55l2.6,2.55l-2.6,2.55zM67.8,230.5l2.6-2.55l2.6,2.55l-2.6,2.55zM67.6,246.4l2.6-2.55l2.6,2.55l-2.6,2.55zM67.8,230.5l2.6-2.55l2.6,2.55l-2.6,2.55zM69.0,249.8l2.6-2.55l2.6,2.55l-2.6,2.55zM68.9,249.6l2.6-2.55l2.6,2.55l-2.6,2.55zM67.1,256.8l2.6-2.55l2.6,2.55l-2.6,2.55zM70.0,249.8l2.6-2.55l2.6,2.55l-2.6,2.55zM70.6,250.0l2.6-2.55l2.6,2.55l-2.6,2.55zM70.1,249.8l2.6-2.55l2.6,2.55l-2.6,2.55zM69.7,250.0l2.6-2.55l2.6,2.55l-2.6,2.55zM69.0,260.5l2.6-2.55l2.6,2.55l-2.6,2.55zM66.3,243.0l2.6-2.55l2.6,2.55l-2.6,2.55zM67.6,243.0l2.6-2.55l2.6,2.55l-2.6,2.55zM66.3,272.2l2.6-2.55l2.6,2.55l-2.6,2.55zM69.1,256.8l2.6-2.55l2.6,2.55l-2.6,2.55zM70.0,256.8l2.6-2.55l2.6,2.55l-2.6,2.55zM69.2,233.5l2.6-2.55l2.6,2.55l-2.6,2.55zM71.4,260.5l2.6-2.55l2.6,2.55l-2.6,2.55zM73.8,280.5l2.6-2.55l2.6,2.55l-2.6,2.55zM73.3,280.5l2.6-2.55l2.6,2.55l-2.6,2.55zM71.7,276.3l2.6-2.55l2.6,2.55l-2.6,2.55zM74.2,230.5l2.6-2.55l2.6,2.55l-2.6,2.55zM73.8,249.8l2.6-2.55l2.6,2.55l-2.6,2.55zM73.2,246.4l2.6-2.55l2.6,2.55l-2.6,2.55zM76.3,268.2l2.6-2.55l2.6,2.55l-2.6,2.55zM73.8,227.5l2.6-2.55l2.6,2.55l-2.6,2.55zM74.8,253.3l2.6-2.55l2.6,2.55l-2.6,2.55zM76.6,249.8l2.6-2.55l2.6,2.55l-2.6,2.55zM71.8,256.8l2.6-2.55l2.6,2.55l-2.6,2.55zM72.5,257.0l2.6-2.55l2.6,2.55l-2.6,2.55zM71.3,256.8l2.6-2.55l2.6,2.55l-2.6,2.55zM74.3,246.4l2.6-2.55l2.6,2.55l-2.6,2.55zM74.5,256.8l2.6-2.55l2.6,2.55l-2.6,2.55zM74.4,257.0l2.6-2.55l2.6,2.55l-2.6,2.55zM75.7,264.3l2.6-2.55l2.6,2.55l-2.6,2.55zM76.3,264.5l2.6-2.55l2.6,2.55l-2.6,2.55zM76.1,253.3l2.6-2.55l2.6,2.55l-2.6,2.55zM70.9,249.8l2.6-2.55l2.6,2.55l-2.6,2.55zM70.5,249.6l2.6-2.55l2.6,2.55l-2.6,2.55zM71.7,236.6l2.6-2.55l2.6,2.55l-2.6,2.55zM71.6,227.5l2.6-2.55l2.6,2.55l-2.6,2.55zM78.0,230.5l2.6-2.55l2.6,2.55l-2.6,2.55zM77.1,280.5l2.6-2.55l2.6,2.55l-2.6,2.55zM77.5,246.4l2.6-2.55l2.6,2.55l-2.6,2.55zM78.8,289.5l2.6-2.55l2.6,2.55l-2.6,2.55zM77.6,253.3l2.6-2.55l2.6,2.55l-2.6,2.55zM78.1,276.3l2.6-2.55l2.6,2.55l-2.6,2.55zM80.6,280.5l2.6-2.55l2.6,2.55l-2.6,2.55zM78.9,264.3l2.6-2.55l2.6,2.55l-2.6,2.55zM82.4,260.5l2.6-2.55l2.6,2.55l-2.6,2.55zM82.7,260.3l2.6-2.55l2.6,2.55l-2.6,2.55zM80.4,230.5l2.6-2.55l2.6,2.55l-2.6,2.55zM80.3,230.6l2.6-2.55l2.6,2.55l-2.6,2.55zM77.5,249.8l2.6-2.55l2.6,2.55l-2.6,2.55zM77.7,250.0l2.6-2.55l2.6,2.55l-2.6,2.55zM79.2,289.5l2.6-2.55l2.6,2.55l-2.6,2.55zM81.5,268.2l2.6-2.55l2.6,2.55l-2.6,2.55zM80.9,268.3l2.6-2.55l2.6,2.55l-2.6,2.55zM77.6,246.4l2.6-2.55l2.6,2.55l-2.6,2.55zM77.0,246.6l2.6-2.55l2.6,2.55l-2.6,2.55zM78.5,268.2l2.6-2.55l2.6,2.55l-2.6,2.55zM87.0,227.5l2.6-2.55l2.6,2.55l-2.6,2.55zM85.4,280.5l2.6-2.55l2.6,2.55l-2.6,2.55zM85.8,280.7l2.6-2.55l2.6,2.55l-2.6,2.55zM88.3,243.0l2.6-2.55l2.6,2.55l-2.6,2.55zM88.3,243.2l2.6-2.55l2.6,2.55l-2.6,2.55zM84.3,256.8l2.6-2.55l2.6,2.55l-2.6,2.55zM87.8,243.0l2.6-2.55l2.6,2.55l-2.6,2.55zM88.3,243.1l2.6-2.55l2.6,2.55l-2.6,2.55zM85.6,246.4l2.6-2.55l2.6,2.55l-2.6,2.55zM86.0,246.5l2.6-2.55l2.6,2.55l-2.6,2.55zM87.6,239.8l2.6-2.55l2.6,2.55l-2.6,2.55zM86.5,249.8l2.6-2.55l2.6,2.55l-2.6,2.55zM87.6,253.3l2.6-2.55l2.6,2.55l-2.6,2.55zM88.9,256.8l2.6-2.55l2.6,2.55l-2.6,2.55zM89.3,257.1l2.6-2.55l2.6,2.55l-2.6,2.55zM84.0,268.2l2.6-2.55l2.6,2.55l-2.6,2.55zM83.8,239.8l2.6-2.55l2.6,2.55l-2.6,2.55zM87.8,272.2l2.6-2.55l2.6,2.55l-2.6,2.55zM84.5,256.8l2.6-2.55l2.6,2.55l-2.6,2.55zM84.4,256.6l2.6-2.55l2.6,2.55l-2.6,2.55zM85.1,272.2l2.6-2.55l2.6,2.55l-2.6,2.55zM68.2,264.3l2.6-2.55l2.6,2.55l-2.6,2.55zM70.1,272.2l2.6-2.55l2.6,2.55l-2.6,2.55zM69.9,272.0l2.6-2.55l2.6,2.55l-2.6,2.55zM66.7,284.9l2.6-2.55l2.6,2.55l-2.6,2.55zM66.7,264.3l2.6-2.55l2.6,2.55l-2.6,2.55zM68.3,284.9l2.6-2.55l2.6,2.55l-2.6,2.55zM67.3,276.3l2.6-2.55l2.6,2.55l-2.6,2.55zM67.4,276.4l2.6-2.55l2.6,2.55l-2.6,2.55zM68.5,276.3l2.6-2.55l2.6,2.55l-2.6,2.55zM70.0,268.2l2.6-2.55l2.6,2.55l-2.6,2.55zM69.4,268.5l2.6-2.55l2.6,2.55l-2.6,2.55zM70.3,294.1l2.6-2.55l2.6,2.55l-2.6,2.55zM67.1,280.5l2.6-2.55l2.6,2.55l-2.6,2.55zM76.3,284.9l2.6-2.55l2.6,2.55l-2.6,2.55zM74.3,276.3l2.6-2.55l2.6,2.55l-2.6,2.55zM74.3,276.5l2.6-2.55l2.6,2.55l-2.6,2.55zM75.3,289.5l2.6-2.55l2.6,2.55l-2.6,2.55zM75.0,264.3l2.6-2.55l2.6,2.55l-2.6,2.55zM75.2,284.9l2.6-2.55l2.6,2.55l-2.6,2.55zM75.6,284.7l2.6-2.55l2.6,2.55l-2.6,2.55zM76.3,294.1l2.6-2.55l2.6,2.55l-2.6,2.55zM76.4,280.5l2.6-2.55l2.6,2.55l-2.6,2.55zM80.4,276.3l2.6-2.55l2.6,2.55l-2.6,2.55zM80.9,276.4l2.6-2.55l2.6,2.55l-2.6,2.55zM80.9,294.1l2.6-2.55l2.6,2.55l-2.6,2.55zM79.4,272.2l2.6-2.55l2.6,2.55l-2.6,2.55zM78.9,268.2l2.6-2.55l2.6,2.55l-2.6,2.55zM79.0,268.3l2.6-2.55l2.6,2.55l-2.6,2.55zM77.2,246.4l2.6-2.55l2.6,2.55l-2.6,2.55zM78.0,246.3l2.6-2.55l2.6,2.55l-2.6,2.55zM80.1,264.3l2.6-2.55l2.6,2.55l-2.6,2.55zM80.2,264.3l2.6-2.55l2.6,2.55l-2.6,2.55zM88.9,289.5l2.6-2.55l2.6,2.55l-2.6,2.55zM87.0,289.5l2.6-2.55l2.6,2.55l-2.6,2.55zM87.2,289.3l2.6-2.55l2.6,2.55l-2.6,2.55zM84.3,280.5l2.6-2.55l2.6,2.55l-2.6,2.55zM84.2,280.7l2.6-2.55l2.6,2.55l-2.6,2.55zM87.5,294.1l2.6-2.55l2.6,2.55l-2.6,2.55zM94.5,249.8l2.6-2.55l2.6,2.55l-2.6,2.55zM91.9,243.0l2.6-2.55l2.6,2.55l-2.6,2.55zM91.7,284.9l2.6-2.55l2.6,2.55l-2.6,2.55zM94.3,284.9l2.6-2.55l2.6,2.55l-2.6,2.55zM89.6,256.8l2.6-2.55l2.6,2.55l-2.6,2.55zM93.0,284.9l2.6-2.55l2.6,2.55l-2.6,2.55zM93.6,249.8l2.6-2.55l2.6,2.55l-2.6,2.55zM90.5,243.0l2.6-2.55l2.6,2.55l-2.6,2.55zM95.6,294.1l2.6-2.55l2.6,2.55l-2.6,2.55zM95.3,253.3l2.6-2.55l2.6,2.55l-2.6,2.55zM91.0,256.8l2.6-2.55l2.6,2.55l-2.6,2.55zM93.7,294.1l2.6-2.55l2.6,2.55l-2.6,2.55zM91.3,280.5l2.6-2.55l2.6,2.55l-2.6,2.55zM91.2,280.7l2.6-2.55l2.6,2.55l-2.6,2.55zM94.5,289.5l2.6-2.55l2.6,2.55l-2.6,2.55zM92.8,284.9l2.6-2.55l2.6,2.55l-2.6,2.55zM100.0,276.3l2.6-2.55l2.6,2.55l-2.6,2.55zM96.0,289.5l2.6-2.55l2.6,2.55l-2.6,2.55zM96.2,289.4l2.6-2.55l2.6,2.55l-2.6,2.55zM99.6,268.2l2.6-2.55l2.6,2.55l-2.6,2.55zM101.6,272.2l2.6-2.55l2.6,2.55l-2.6,2.55zM101.0,272.1l2.6-2.55l2.6,2.55l-2.6,2.55zM100.5,294.1l2.6-2.55l2.6,2.55l-2.6,2.55zM100.2,294.3l2.6-2.55l2.6,2.55l-2.6,2.55zM97.8,264.3l2.6-2.55l2.6,2.55l-2.6,2.55zM99.6,264.3l2.6-2.55l2.6,2.55l-2.6,2.55zM99.3,264.6l2.6-2.55l2.6,2.55l-2.6,2.55zM95.8,280.5l2.6-2.55l2.6,2.55l-2.6,2.55zM95.7,280.3l2.6-2.55l2.6,2.55l-2.6,2.55zM98.5,256.8l2.6-2.55l2.6,2.55l-2.6,2.55zM96.6,284.9l2.6-2.55l2.6,2.55l-2.6,2.55zM99.4,253.3l2.6-2.55l2.6,2.55l-2.6,2.55zM104.0,280.5l2.6-2.55l2.6,2.55l-2.6,2.55zM106.6,256.8l2.6-2.55l2.6,2.55l-2.6,2.55zM106.1,256.7l2.6-2.55l2.6,2.55l-2.6,2.55zM104.7,268.2l2.6-2.55l2.6,2.55l-2.6,2.55zM103.6,256.8l2.6-2.55l2.6,2.55l-2.6,2.55zM102.7,260.5l2.6-2.55l2.6,2.55l-2.6,2.55zM106.3,280.5l2.6-2.55l2.6,2.55l-2.6,2.55zM106.5,268.2l2.6-2.55l2.6,2.55l-2.6,2.55zM104.7,268.2l2.6-2.55l2.6,2.55l-2.6,2.55zM104.2,268.0l2.6-2.55l2.6,2.55l-2.6,2.55zM111.3,289.5l2.6-2.55l2.6,2.55l-2.6,2.55zM110.5,284.9l2.6-2.55l2.6,2.55l-2.6,2.55zM111.0,284.9l2.6-2.55l2.6,2.55l-2.6,2.55zM110.6,276.3l2.6-2.55l2.6,2.55l-2.6,2.55zM113.2,289.5l2.6-2.55l2.6,2.55l-2.6,2.55zM112.7,289.5l2.6-2.55l2.6,2.55l-2.6,2.55zM113.9,268.2l2.6-2.55l2.6,2.55l-2.6,2.55zM114.5,268.4l2.6-2.55l2.6,2.55l-2.6,2.55zM108.4,268.2l2.6-2.55l2.6,2.55l-2.6,2.55zM112.8,256.8l2.6-2.55l2.6,2.55l-2.6,2.55zM114.3,280.5l2.6-2.55l2.6,2.55l-2.6,2.55zM110.1,294.1l2.6-2.55l2.6,2.55l-2.6,2.55zM118.6,289.5l2.6-2.55l2.6,2.55l-2.6,2.55zM118.2,289.2l2.6-2.55l2.6,2.55l-2.6,2.55zM115.8,289.5l2.6-2.55l2.6,2.55l-2.6,2.55zM118.1,272.2l2.6-2.55l2.6,2.55l-2.6,2.55zM119.1,289.5l2.6-2.55l2.6,2.55l-2.6,2.55zM116.0,294.1l2.6-2.55l2.6,2.55l-2.6,2.55zM114.8,272.2l2.6-2.55l2.6,2.55l-2.6,2.55zM120.6,289.5l2.6-2.55l2.6,2.55l-2.6,2.55zM116.8,289.5l2.6-2.55l2.6,2.55l-2.6,2.55zM116.8,280.5l2.6-2.55l2.6,2.55l-2.6,2.55zM117.2,280.6l2.6-2.55l2.6,2.55l-2.6,2.55zM118.6,276.3l2.6-2.55l2.6,2.55l-2.6,2.55zM118.3,276.2l2.6-2.55l2.6,2.55l-2.6,2.55zM116.4,284.9l2.6-2.55l2.6,2.55l-2.6,2.55zM116.8,285.1l2.6-2.55l2.6,2.55l-2.6,2.55zM116.3,284.9l2.6-2.55l2.6,2.55l-2.6,2.55zM124.3,289.5l2.6-2.55l2.6,2.55l-2.6,2.55zM121.9,289.5l2.6-2.55l2.6,2.55l-2.6,2.55zM125.1,272.2l2.6-2.55l2.6,2.55l-2.6,2.55zM124.3,272.2l2.6-2.55l2.6,2.55l-2.6,2.55zM122.8,256.8l2.6-2.55l2.6,2.55l-2.6,2.55zM124.7,280.5l2.6-2.55l2.6,2.55l-2.6,2.55zM124.2,280.3l2.6-2.55l2.6,2.55l-2.6,2.55zM121.5,284.9l2.6-2.55l2.6,2.55l-2.6,2.55zM122.1,284.8l2.6-2.55l2.6,2.55l-2.6,2.55zM120.8,289.5l2.6-2.55l2.6,2.55l-2.6,2.55zM121.1,289.6l2.6-2.55l2.6,2.55l-2.6,2.55zM125.6,272.2l2.6-2.55l2.6,2.55l-2.6,2.55zM126.2,272.5l2.6-2.55l2.6,2.55l-2.6,2.55zM120.7,253.3l2.6-2.55l2.6,2.55l-2.6,2.55zM130.1,272.2l2.6-2.55l2.6,2.55l-2.6,2.55zM128.3,256.8l2.6-2.55l2.6,2.55l-2.6,2.55zM130.3,276.3l2.6-2.55l2.6,2.55l-2.6,2.55zM127.3,284.9l2.6-2.55l2.6,2.55l-2.6,2.55zM129.3,284.9l2.6-2.55l2.6,2.55l-2.6,2.55zM128.8,268.2l2.6-2.55l2.6,2.55l-2.6,2.55zM130.3,289.5l2.6-2.55l2.6,2.55l-2.6,2.55zM129.9,289.5l2.6-2.55l2.6,2.55l-2.6,2.55zM132.4,272.2l2.6-2.55l2.6,2.55l-2.6,2.55zM128.8,284.9l2.6-2.55l2.6,2.55l-2.6,2.55zM139.0,289.5l2.6-2.55l2.6,2.55l-2.6,2.55zM138.4,289.3l2.6-2.55l2.6,2.55l-2.6,2.55zM136.9,289.5l2.6-2.55l2.6,2.55l-2.6,2.55zM137.1,289.3l2.6-2.55l2.6,2.55l-2.6,2.55zM139.2,284.9l2.6-2.55l2.6,2.55l-2.6,2.55zM138.5,284.9l2.6-2.55l2.6,2.55l-2.6,2.55zM135.6,276.3l2.6-2.55l2.6,2.55l-2.6,2.55zM138.0,256.8l2.6-2.55l2.6,2.55l-2.6,2.55zM137.7,284.9l2.6-2.55l2.6,2.55l-2.6,2.55zM140.7,280.5l2.6-2.55l2.6,2.55l-2.6,2.55zM139.7,289.5l2.6-2.55l2.6,2.55l-2.6,2.55z" fill="none" stroke="#000" stroke-width="1.08" stroke-linejoin="miter"/>
<path d="M68.5,251.2 L70.1,252.5 L71.7,253.8 L73.3,255.0 L74.9,256.2 L76.5,257.3 L78.1,258.3 L79.8,259.3 L81.4,260.2 L83.0,261.1 L84.6,261.9 L86.2,262.6 L87.8,263.3 L89.4,264.0 L91.0,264.6 L92.7,265.2 L94.3,265.7 L95.9,266.1 L97.5,266.5 L99.1,266.9 L100.7,267.2 L102.3,267.4 L104.0,267.6 L105.6,267.8 L107.2,267.9 L108.8,268.0 L110.4,268.0 L112.0,268.0 L113.6,268.0 L115.2,267.9 L116.9,267.7 L118.5,267.6 L120.1,267.3 L121.7,267.1 L123.3,266.8 L124.9,266.5 L126.5,266.1 L128.1,265.7 L129.8,265.3 L131.4,264.8 L133.0,264.3 L134.6,263.7 L136.2,263.2 L137.8,262.6 L139.4,261.9 L141.1,261.3 L142.7,260.6 L144.3,259.9 L145.9,259.1 L147.5,258.3 L149.1,257.5 L150.7,256.7 L152.3,255.8 L154.0,254.9 L155.6,254.0 L157.2,253.1 L158.8,252.2 L160.4,251.2 L162.0,250.2 L163.6,249.2 L165.2,248.1 L166.9,247.1 L168.5,246.0 L170.1,244.9 L171.7,243.8 L173.3,242.7 L174.9,241.5 L176.5,240.4 L178.1,239.2 L179.8,238.0 L181.4,236.8 L183.0,235.6 L184.6,234.4 L186.2,233.2 L187.8,231.9 L189.4,230.7 L191.1,229.4 L192.7,228.1 L194.3,226.8 L195.9,225.6 L197.5,224.3 L199.1,223.0 L200.7,221.7 L202.3,220.4 L204.0,219.1 L205.6,217.8 L207.2,216.4 L208.8,215.1 L210.4,213.8 L212.0,212.5 L213.6,211.2 L215.2,209.9 L216.9,208.6 L218.5,207.3 L220.1,206.0 L221.7,204.7 L223.3,203.4 L224.9,202.1 L226.5,200.8 L228.2,199.5 L229.8,198.3 L231.4,197.0 L233.0,195.8 L234.6,194.5 L236.2,193.3 L237.8,192.1 L239.4,190.9 L241.1,189.7 L242.7,188.5 L244.3,187.3 L245.9,186.2 L247.5,185.0 L249.1,183.9 L250.7,182.8 L252.3,181.7 L254.0,180.7 L255.6,179.6 L257.2,178.6 L258.8,177.6 L260.4,176.6 L262.0,175.7 L263.6,174.7 L265.2,173.8 L266.9,172.9 L268.5,172.0 L270.1,171.2 L271.7,170.4 L273.3,169.6 L274.9,168.8 L276.5,168.1 L278.2,167.4 L279.8,166.7 L281.4,166.0 L283.0,165.4 L284.6,164.8 L286.2,164.3 L287.8,163.7 L289.4,163.3 L291.1,162.8 L292.7,162.4 L294.3,162.0 L295.9,161.7 L297.5,161.3 L299.1,161.1 L300.7,160.8 L302.3,160.6 L304.0,160.5 L305.6,160.4 L307.2,160.3 L308.8,160.3 L310.4,160.3 L312.0,160.3 L313.6,160.4 L315.3,160.6 L316.9,160.8 L318.5,161.0 L320.1,161.3 L321.7,161.6 L323.3,162.0 L324.9,162.4 L326.5,162.9 L328.2,163.4 L329.8,164.0 L331.4,164.6 L333.0,165.3 L334.6,166.0 L336.2,166.8 L337.8,167.6 L339.4,168.5 L341.1,169.5 L342.7,170.5 L344.3,171.6 L345.9,172.7 L347.5,173.9 L349.1,175.1 L350.7,176.4 L352.4,177.8 L354.0,179.2 L355.6,180.7 L357.2,182.2 L358.8,183.8 L360.4,185.5 L362.0,187.2 L363.6,189.0 L365.3,190.9 L366.9,192.9 L368.5,194.9 L370.1,196.9 L371.7,199.1 L373.3,201.3 L374.9,203.6 L376.5,205.9 L378.2,208.3 L379.8,210.8 L381.4,213.4 L383.0,216.1 L384.6,218.8 L386.2,221.6 L387.8,224.4 L389.4,227.4 L391.1,230.4" fill="none" stroke="#000" stroke-width="2.0" stroke-linejoin="round" />
<path d="M55.5,282.5 L404.0,140.9" fill="none" stroke="#000" stroke-width="2.0" stroke-linejoin="round" stroke-dasharray="8.05 7.65"/>
<path d="M78,27.5H100" stroke="#111" stroke-width="1"/><path d="M78,42.1H97.2" stroke="#111" stroke-width="1.1" stroke-dasharray="4.8 2.4"/>
<text x="110.4" y="32.5" textLength="32.6" lengthAdjust="spacingAndGlyphs">Linear</text><text x="110.4" y="47.1" textLength="58.6" lengthAdjust="spacingAndGlyphs">Polynomial</text>
</g>
<rect x="55.5" y="25.75" width="348.5" height="363.25" fill="none" stroke="#303030" stroke-width="1.3"/>
<text x="67.5" y="9.2" text-anchor="middle">0</text><text x="130.0" y="9.2" text-anchor="middle" textLength="12.6" lengthAdjust="spacingAndGlyphs">10</text><text x="191.7" y="9.2" text-anchor="middle" textLength="12.6" lengthAdjust="spacingAndGlyphs">20</text><text x="255.2" y="9.2" text-anchor="middle" textLength="12.6" lengthAdjust="spacingAndGlyphs">30</text><text x="317.8" y="9.2" text-anchor="middle" textLength="12.6" lengthAdjust="spacingAndGlyphs">40</text><text x="380.3" y="9.2" text-anchor="middle" textLength="12.6" lengthAdjust="spacingAndGlyphs">50</text><text transform="translate(38.6,329.7) rotate(-90)" text-anchor="middle">1.5</text><text transform="translate(38.6,260.7) rotate(-90)" text-anchor="middle">2.0</text><text transform="translate(38.6,191.8) rotate(-90)" text-anchor="middle">2.5</text><text transform="translate(38.6,122.8) rotate(-90)" text-anchor="middle">3.0</text><text transform="translate(38.6,53.8) rotate(-90)" text-anchor="middle">3.5</text>
<path d="M67.5,25.75v-7.9M130.0,25.75v-7.9M192.6,25.75v-7.9M255.2,25.75v-7.9M317.8,25.75v-7.9M380.3,25.75v-7.9M55.5,329.7h-7.9M55.5,260.7h-7.9M55.5,191.8h-7.9M55.5,122.8h-7.9M55.5,53.8h-7.9" stroke="#303030" stroke-width="1.3" fill="none"/>
<g clip-path="url(#cTR)">
<path d="M442.5,153.6l2.6-2.55l2.6,2.55l-2.6,2.55zM488.9,153.6l2.6-2.55l2.6,2.55l-2.6,2.55zM484.4,169.9l2.6-2.55l2.6,2.55l-2.6,2.55zM484.4,181.8l2.6-2.55l2.6,2.55l-2.6,2.55zM496.6,181.8l2.6-2.55l2.6,2.55l-2.6,2.55zM441.6,190.8l2.6-2.55l2.6,2.55l-2.6,2.55zM446.2,195.3l2.6-2.55l2.6,2.55l-2.6,2.55zM439.0,198.0l2.6-2.55l2.6,2.55l-2.6,2.55zM496.6,199.9l2.6-2.55l2.6,2.55l-2.6,2.55zM428.1,200.3l2.6-2.55l2.6,2.55l-2.6,2.55zM435.1,199.7l2.6-2.55l2.6,2.55l-2.6,2.55zM435.1,202.2l2.6-2.55l2.6,2.55l-2.6,2.55zM428.1,202.0l2.6-2.55l2.6,2.55l-2.6,2.55zM423.3,204.9l2.6-2.55l2.6,2.55l-2.6,2.55zM439.3,204.9l2.6-2.55l2.6,2.55l-2.6,2.55zM580.9,120.0l2.6-2.55l2.6,2.55l-2.6,2.55zM563.5,124.4l2.6-2.55l2.6,2.55l-2.6,2.55zM581.8,128.0l2.6-2.55l2.6,2.55l-2.6,2.55zM574.6,130.0l2.6-2.55l2.6,2.55l-2.6,2.55zM537.3,130.0l2.6-2.55l2.6,2.55l-2.6,2.55zM528.2,132.9l2.6-2.55l2.6,2.55l-2.6,2.55zM520.9,137.2l2.6-2.55l2.6,2.55l-2.6,2.55zM537.3,137.2l2.6-2.55l2.6,2.55l-2.6,2.55zM564.6,137.2l2.6-2.55l2.6,2.55l-2.6,2.55zM541.9,141.0l2.6-2.55l2.6,2.55l-2.6,2.55zM572.9,138.9l2.6-2.55l2.6,2.55l-2.6,2.55zM560.0,141.8l2.6-2.55l2.6,2.55l-2.6,2.55zM564.0,141.0l2.6-2.55l2.6,2.55l-2.6,2.55zM570.0,141.0l2.6-2.55l2.6,2.55l-2.6,2.55zM584.6,141.8l2.6-2.55l2.6,2.55l-2.6,2.55zM527.2,145.2l2.6-2.55l2.6,2.55l-2.6,2.55zM524.7,147.2l2.6-2.55l2.6,2.55l-2.6,2.55zM537.1,150.1l2.6-2.55l2.6,2.55l-2.6,2.55zM556.2,149.8l2.6-2.55l2.6,2.55l-2.6,2.55zM562.8,151.3l2.6-2.55l2.6,2.55l-2.6,2.55zM573.8,151.8l2.6-2.55l2.6,2.55l-2.6,2.55zM577.5,153.6l2.6-2.55l2.6,2.55l-2.6,2.55zM520.9,153.6l2.6-2.55l2.6,2.55l-2.6,2.55zM532.5,155.0l2.6-2.55l2.6,2.55l-2.6,2.55zM530.7,157.0l2.6-2.55l2.6,2.55l-2.6,2.55zM562.8,155.6l2.6-2.55l2.6,2.55l-2.6,2.55zM537.1,159.3l2.6-2.55l2.6,2.55l-2.6,2.55zM544.6,160.7l2.6-2.55l2.6,2.55l-2.6,2.55zM585.7,162.8l2.6-2.55l2.6,2.55l-2.6,2.55zM515.8,164.4l2.6-2.55l2.6,2.55l-2.6,2.55zM517.6,164.4l2.6-2.55l2.6,2.55l-2.6,2.55zM558.0,164.2l2.6-2.55l2.6,2.55l-2.6,2.55zM561.1,166.4l2.6-2.55l2.6,2.55l-2.6,2.55zM505.6,169.9l2.6-2.55l2.6,2.55l-2.6,2.55zM510.0,169.9l2.6-2.55l2.6,2.55l-2.6,2.55zM510.0,171.6l2.6-2.55l2.6,2.55l-2.6,2.55zM566.6,169.9l2.6-2.55l2.6,2.55l-2.6,2.55zM566.6,171.3l2.6-2.55l2.6,2.55l-2.6,2.55zM531.9,171.6l2.6-2.55l2.6,2.55l-2.6,2.55zM532.4,171.7l2.6-2.55l2.6,2.55l-2.6,2.55zM543.6,171.6l2.6-2.55l2.6,2.55l-2.6,2.55zM555.3,171.8l2.6-2.55l2.6,2.55l-2.6,2.55zM586.9,169.9l2.6-2.55l2.6,2.55l-2.6,2.55zM541.9,175.8l2.6-2.55l2.6,2.55l-2.6,2.55zM582.6,178.1l2.6-2.55l2.6,2.55l-2.6,2.55zM529.1,179.1l2.6-2.55l2.6,2.55l-2.6,2.55zM529.3,180.4l2.6-2.55l2.6,2.55l-2.6,2.55zM540.8,180.0l2.6-2.55l2.6,2.55l-2.6,2.55zM528.2,184.6l2.6-2.55l2.6,2.55l-2.6,2.55zM550.2,185.9l2.6-2.55l2.6,2.55l-2.6,2.55zM562.8,186.2l2.6-2.55l2.6,2.55l-2.6,2.55zM555.3,188.8l2.6-2.55l2.6,2.55l-2.6,2.55zM586.1,188.8l2.6-2.55l2.6,2.55l-2.6,2.55zM530.2,190.5l2.6-2.55l2.6,2.55l-2.6,2.55zM546.5,190.8l2.6-2.55l2.6,2.55l-2.6,2.55zM505.6,193.6l2.6-2.55l2.6,2.55l-2.6,2.55zM506.0,193.6l2.6-2.55l2.6,2.55l-2.6,2.55zM510.4,193.6l2.6-2.55l2.6,2.55l-2.6,2.55zM525.6,193.0l2.6-2.55l2.6,2.55l-2.6,2.55zM541.9,193.0l2.6-2.55l2.6,2.55l-2.6,2.55zM561.1,193.6l2.6-2.55l2.6,2.55l-2.6,2.55zM531.3,195.1l2.6-2.55l2.6,2.55l-2.6,2.55zM543.1,195.1l2.6-2.55l2.6,2.55l-2.6,2.55zM524.7,195.7l2.6-2.55l2.6,2.55l-2.6,2.55zM523.8,198.2l2.6-2.55l2.6,2.55l-2.6,2.55zM545.6,198.0l2.6-2.55l2.6,2.55l-2.6,2.55zM533.9,199.7l2.6-2.55l2.6,2.55l-2.6,2.55zM548.4,200.3l2.6-2.55l2.6,2.55l-2.6,2.55zM519.0,202.2l2.6-2.55l2.6,2.55l-2.6,2.55zM526.4,202.2l2.6-2.55l2.6,2.55l-2.6,2.55zM531.6,202.2l2.6-2.55l2.6,2.55l-2.6,2.55zM561.1,202.6l2.6-2.55l2.6,2.55l-2.6,2.55zM568.3,202.6l2.6-2.55l2.6,2.55l-2.6,2.55zM572.9,202.2l2.6-2.55l2.6,2.55l-2.6,2.55zM505.8,204.9l2.6-2.55l2.6,2.55l-2.6,2.55zM512.7,204.9l2.6-2.55l2.6,2.55l-2.6,2.55zM540.8,204.9l2.6-2.55l2.6,2.55l-2.6,2.55zM548.8,204.9l2.6-2.55l2.6,2.55l-2.6,2.55zM578.8,204.3l2.6-2.55l2.6,2.55l-2.6,2.55zM585.5,204.9l2.6-2.55l2.6,2.55l-2.6,2.55zM572.0,40.0l2.6-2.55l2.6,2.55l-2.6,2.55zM573.7,69.1l2.6-2.55l2.6,2.55l-2.6,2.55zM576.5,76.2l2.6-2.55l2.6,2.55l-2.6,2.55zM510.0,101.9l2.6-2.55l2.6,2.55l-2.6,2.55zM536.2,98.0l2.6-2.55l2.6,2.55l-2.6,2.55zM549.0,99.7l2.6-2.55l2.6,2.55l-2.6,2.55zM545.4,106.3l2.6-2.55l2.6,2.55l-2.6,2.55zM649.1,39.0l2.6-2.55l2.6,2.55l-2.6,2.55zM673.5,52.7l2.6-2.55l2.6,2.55l-2.6,2.55zM643.6,65.3l2.6-2.55l2.6,2.55l-2.6,2.55zM643.6,71.1l2.6-2.55l2.6,2.55l-2.6,2.55zM604.6,80.8l2.6-2.55l2.6,2.55l-2.6,2.55zM630.2,79.7l2.6-2.55l2.6,2.55l-2.6,2.55zM630.2,85.6l2.6-2.55l2.6,2.55l-2.6,2.55zM667.2,87.1l2.6-2.55l2.6,2.55l-2.6,2.55zM599.2,93.6l2.6-2.55l2.6,2.55l-2.6,2.55zM610.1,93.6l2.6-2.55l2.6,2.55l-2.6,2.55zM648.2,98.0l2.6-2.55l2.6,2.55l-2.6,2.55zM587.5,101.9l2.6-2.55l2.6,2.55l-2.6,2.55zM588.0,101.9l2.6-2.55l2.6,2.55l-2.6,2.55zM605.5,106.3l2.6-2.55l2.6,2.55l-2.6,2.55zM591.0,110.8l2.6-2.55l2.6,2.55l-2.6,2.55zM624.7,112.2l2.6-2.55l2.6,2.55l-2.6,2.55zM630.2,113.7l2.6-2.55l2.6,2.55l-2.6,2.55zM617.2,114.9l2.6-2.55l2.6,2.55l-2.6,2.55zM645.4,112.6l2.6-2.55l2.6,2.55l-2.6,2.55zM686.5,80.8l2.6-2.55l2.6,2.55l-2.6,2.55zM723.6,80.8l2.6-2.55l2.6,2.55l-2.6,2.55zM730.0,81.8l2.6-2.55l2.6,2.55l-2.6,2.55zM680.0,98.0l2.6-2.55l2.6,2.55l-2.6,2.55zM723.7,94.6l2.6-2.55l2.6,2.55l-2.6,2.55zM742.9,93.6l2.6-2.55l2.6,2.55l-2.6,2.55zM679.8,109.5l2.6-2.55l2.6,2.55l-2.6,2.55zM680.3,109.5l2.6-2.55l2.6,2.55l-2.6,2.55zM705.6,115.4l2.6-2.55l2.6,2.55l-2.6,2.55zM623.9,117.1l2.6-2.55l2.6,2.55l-2.6,2.55zM625.4,120.4l2.6-2.55l2.6,2.55l-2.6,2.55zM623.7,122.3l2.6-2.55l2.6,2.55l-2.6,2.55zM589.3,122.5l2.6-2.55l2.6,2.55l-2.6,2.55zM600.0,125.2l2.6-2.55l2.6,2.55l-2.6,2.55zM633.6,128.0l2.6-2.55l2.6,2.55l-2.6,2.55zM649.1,124.3l2.6-2.55l2.6,2.55l-2.6,2.55zM652.0,127.2l2.6-2.55l2.6,2.55l-2.6,2.55zM649.1,130.3l2.6-2.55l2.6,2.55l-2.6,2.55zM665.5,129.8l2.6-2.55l2.6,2.55l-2.6,2.55zM658.3,132.9l2.6-2.55l2.6,2.55l-2.6,2.55zM590.1,136.4l2.6-2.55l2.6,2.55l-2.6,2.55zM623.9,138.9l2.6-2.55l2.6,2.55l-2.6,2.55zM667.2,136.4l2.6-2.55l2.6,2.55l-2.6,2.55zM673.8,137.2l2.6-2.55l2.6,2.55l-2.6,2.55zM671.8,142.1l2.6-2.55l2.6,2.55l-2.6,2.55zM589.3,143.5l2.6-2.55l2.6,2.55l-2.6,2.55zM589.3,147.0l2.6-2.55l2.6,2.55l-2.6,2.55zM643.1,141.2l2.6-2.55l2.6,2.55l-2.6,2.55zM640.9,143.5l2.6-2.55l2.6,2.55l-2.6,2.55zM647.6,143.5l2.6-2.55l2.6,2.55l-2.6,2.55zM630.2,145.6l2.6-2.55l2.6,2.55l-2.6,2.55zM598.3,149.8l2.6-2.55l2.6,2.55l-2.6,2.55zM604.6,151.8l2.6-2.55l2.6,2.55l-2.6,2.55zM596.4,153.3l2.6-2.55l2.6,2.55l-2.6,2.55zM594.3,155.6l2.6-2.55l2.6,2.55l-2.6,2.55zM649.3,151.8l2.6-2.55l2.6,2.55l-2.6,2.55zM673.8,153.6l2.6-2.55l2.6,2.55l-2.6,2.55zM667.2,157.0l2.6-2.55l2.6,2.55l-2.6,2.55zM659.2,158.4l2.6-2.55l2.6,2.55l-2.6,2.55zM598.3,160.7l2.6-2.55l2.6,2.55l-2.6,2.55zM621.9,160.7l2.6-2.55l2.6,2.55l-2.6,2.55zM636.3,164.2l2.6-2.55l2.6,2.55l-2.6,2.55zM636.5,166.4l2.6-2.55l2.6,2.55l-2.6,2.55zM662.0,162.8l2.6-2.55l2.6,2.55l-2.6,2.55zM673.8,163.0l2.6-2.55l2.6,2.55l-2.6,2.55zM592.4,167.6l2.6-2.55l2.6,2.55l-2.6,2.55zM592.9,171.8l2.6-2.55l2.6,2.55l-2.6,2.55zM643.6,167.9l2.6-2.55l2.6,2.55l-2.6,2.55zM660.8,167.2l2.6-2.55l2.6,2.55l-2.6,2.55zM625.0,169.3l2.6-2.55l2.6,2.55l-2.6,2.55zM630.2,172.2l2.6-2.55l2.6,2.55l-2.6,2.55zM608.2,171.8l2.6-2.55l2.6,2.55l-2.6,2.55zM636.3,172.8l2.6-2.55l2.6,2.55l-2.6,2.55zM636.7,176.2l2.6-2.55l2.6,2.55l-2.6,2.55zM637.0,176.0l2.6-2.55l2.6,2.55l-2.6,2.55zM654.3,171.4l2.6-2.55l2.6,2.55l-2.6,2.55zM652.6,173.3l2.6-2.55l2.6,2.55l-2.6,2.55zM649.1,176.2l2.6-2.55l2.6,2.55l-2.6,2.55zM661.1,171.8l2.6-2.55l2.6,2.55l-2.6,2.55zM673.8,171.6l2.6-2.55l2.6,2.55l-2.6,2.55zM666.3,175.8l2.6-2.55l2.6,2.55l-2.6,2.55zM666.7,176.2l2.6-2.55l2.6,2.55l-2.6,2.55zM657.4,177.6l2.6-2.55l2.6,2.55l-2.6,2.55zM674.0,176.2l2.6-2.55l2.6,2.55l-2.6,2.55zM602.9,178.1l2.6-2.55l2.6,2.55l-2.6,2.55zM593.7,179.6l2.6-2.55l2.6,2.55l-2.6,2.55zM623.9,179.4l2.6-2.55l2.6,2.55l-2.6,2.55zM627.3,181.9l2.6-2.55l2.6,2.55l-2.6,2.55zM639.1,181.7l2.6-2.55l2.6,2.55l-2.6,2.55zM604.6,185.7l2.6-2.55l2.6,2.55l-2.6,2.55zM601.0,190.8l2.6-2.55l2.6,2.55l-2.6,2.55zM672.0,188.8l2.6-2.55l2.6,2.55l-2.6,2.55zM613.8,193.7l2.6-2.55l2.6,2.55l-2.6,2.55zM610.7,197.6l2.6-2.55l2.6,2.55l-2.6,2.55zM636.5,193.6l2.6-2.55l2.6,2.55l-2.6,2.55zM643.0,193.6l2.6-2.55l2.6,2.55l-2.6,2.55zM630.2,199.7l2.6-2.55l2.6,2.55l-2.6,2.55zM651.1,199.7l2.6-2.55l2.6,2.55l-2.6,2.55zM668.6,199.7l2.6-2.55l2.6,2.55l-2.6,2.55zM592.9,199.7l2.6-2.55l2.6,2.55l-2.6,2.55zM633.6,202.6l2.6-2.55l2.6,2.55l-2.6,2.55zM636.5,202.6l2.6-2.55l2.6,2.55l-2.6,2.55zM643.0,202.6l2.6-2.55l2.6,2.55l-2.6,2.55zM590.1,204.9l2.6-2.55l2.6,2.55l-2.6,2.55zM667.5,204.9l2.6-2.55l2.6,2.55l-2.6,2.55zM674.0,204.9l2.6-2.55l2.6,2.55l-2.6,2.55zM717.3,118.9l2.6-2.55l2.6,2.55l-2.6,2.55zM680.0,121.7l2.6-2.55l2.6,2.55l-2.6,2.55zM699.3,121.7l2.6-2.55l2.6,2.55l-2.6,2.55zM680.0,130.0l2.6-2.55l2.6,2.55l-2.6,2.55zM686.5,136.4l2.6-2.55l2.6,2.55l-2.6,2.55zM705.6,136.4l2.6-2.55l2.6,2.55l-2.6,2.55zM680.0,141.0l2.6-2.55l2.6,2.55l-2.6,2.55zM686.5,145.6l2.6-2.55l2.6,2.55l-2.6,2.55zM705.6,153.6l2.6-2.55l2.6,2.55l-2.6,2.55zM692.7,157.0l2.6-2.55l2.6,2.55l-2.6,2.55zM723.7,157.0l2.6-2.55l2.6,2.55l-2.6,2.55zM742.9,160.7l2.6-2.55l2.6,2.55l-2.6,2.55zM686.5,162.4l2.6-2.55l2.6,2.55l-2.6,2.55zM705.6,166.2l2.6-2.55l2.6,2.55l-2.6,2.55zM699.3,169.7l2.6-2.55l2.6,2.55l-2.6,2.55zM711.0,169.9l2.6-2.55l2.6,2.55l-2.6,2.55zM730.0,173.7l2.6-2.55l2.6,2.55l-2.6,2.55zM678.3,176.2l2.6-2.55l2.6,2.55l-2.6,2.55zM699.3,178.1l2.6-2.55l2.6,2.55l-2.6,2.55zM699.1,184.6l2.6-2.55l2.6,2.55l-2.6,2.55zM680.0,184.8l2.6-2.55l2.6,2.55l-2.6,2.55zM680.0,185.9l2.6-2.55l2.6,2.55l-2.6,2.55zM723.7,189.9l2.6-2.55l2.6,2.55l-2.6,2.55zM699.1,193.6l2.6-2.55l2.6,2.55l-2.6,2.55zM705.6,193.6l2.6-2.55l2.6,2.55l-2.6,2.55zM736.6,195.3l2.6-2.55l2.6,2.55l-2.6,2.55zM705.6,200.0l2.6-2.55l2.6,2.55l-2.6,2.55zM699.1,204.9l2.6-2.55l2.6,2.55l-2.6,2.55zM717.3,218.3l2.6-2.55l2.6,2.55l-2.6,2.55zM699.1,218.0l2.6-2.55l2.6,2.55l-2.6,2.55zM699.1,220.9l2.6-2.55l2.6,2.55l-2.6,2.55zM692.7,220.9l2.6-2.55l2.6,2.55l-2.6,2.55zM686.5,230.1l2.6-2.55l2.6,2.55l-2.6,2.55zM699.3,230.3l2.6-2.55l2.6,2.55l-2.6,2.55zM730.0,232.9l2.6-2.55l2.6,2.55l-2.6,2.55zM667.8,232.9l2.6-2.55l2.6,2.55l-2.6,2.55zM670.1,236.7l2.6-2.55l2.6,2.55l-2.6,2.55zM673.7,239.5l2.6-2.55l2.6,2.55l-2.6,2.55zM730.0,242.9l2.6-2.55l2.6,2.55l-2.6,2.55zM686.5,245.8l2.6-2.55l2.6,2.55l-2.6,2.55zM680.0,252.8l2.6-2.55l2.6,2.55l-2.6,2.55zM680.0,256.4l2.6-2.55l2.6,2.55l-2.6,2.55zM699.3,260.1l2.6-2.55l2.6,2.55l-2.6,2.55zM711.0,267.6l2.6-2.55l2.6,2.55l-2.6,2.55zM699.3,275.6l2.6-2.55l2.6,2.55l-2.6,2.55zM592.9,206.0l2.6-2.55l2.6,2.55l-2.6,2.55zM643.0,206.0l2.6-2.55l2.6,2.55l-2.6,2.55zM643.6,210.0l2.6-2.55l2.6,2.55l-2.6,2.55zM603.6,215.2l2.6-2.55l2.6,2.55l-2.6,2.55zM603.6,218.3l2.6-2.55l2.6,2.55l-2.6,2.55zM611.8,218.3l2.6-2.55l2.6,2.55l-2.6,2.55zM616.7,218.3l2.6-2.55l2.6,2.55l-2.6,2.55zM636.5,215.4l2.6-2.55l2.6,2.55l-2.6,2.55zM656.3,218.3l2.6-2.55l2.6,2.55l-2.6,2.55zM661.1,220.9l2.6-2.55l2.6,2.55l-2.6,2.55zM635.4,223.8l2.6-2.55l2.6,2.55l-2.6,2.55zM647.4,227.4l2.6-2.55l2.6,2.55l-2.6,2.55zM660.2,227.4l2.6-2.55l2.6,2.55l-2.6,2.55zM630.2,230.3l2.6-2.55l2.6,2.55l-2.6,2.55zM587.8,230.3l2.6-2.55l2.6,2.55l-2.6,2.55zM598.3,230.1l2.6-2.55l2.6,2.55l-2.6,2.55zM593.5,233.2l2.6-2.55l2.6,2.55l-2.6,2.55zM587.2,236.4l2.6-2.55l2.6,2.55l-2.6,2.55zM659.4,236.6l2.6-2.55l2.6,2.55l-2.6,2.55zM659.9,236.6l2.6-2.55l2.6,2.55l-2.6,2.55zM594.7,245.6l2.6-2.55l2.6,2.55l-2.6,2.55zM591.8,249.3l2.6-2.55l2.6,2.55l-2.6,2.55zM607.3,245.8l2.6-2.55l2.6,2.55l-2.6,2.55zM617.2,249.3l2.6-2.55l2.6,2.55l-2.6,2.55zM590.9,256.4l2.6-2.55l2.6,2.55l-2.6,2.55zM632.7,256.4l2.6-2.55l2.6,2.55l-2.6,2.55zM661.1,256.4l2.6-2.55l2.6,2.55l-2.6,2.55zM661.1,263.9l2.6-2.55l2.6,2.55l-2.6,2.55zM598.4,267.6l2.6-2.55l2.6,2.55l-2.6,2.55zM598.9,267.6l2.6-2.55l2.6,2.55l-2.6,2.55zM588.1,275.6l2.6-2.55l2.6,2.55l-2.6,2.55zM588.6,275.6l2.6-2.55l2.6,2.55l-2.6,2.55zM594.7,280.3l2.6-2.55l2.6,2.55l-2.6,2.55zM552.8,210.0l2.6-2.55l2.6,2.55l-2.6,2.55zM497.8,209.4l2.6-2.55l2.6,2.55l-2.6,2.55zM509.2,212.3l2.6-2.55l2.6,2.55l-2.6,2.55zM512.7,212.3l2.6-2.55l2.6,2.55l-2.6,2.55zM505.8,215.7l2.6-2.55l2.6,2.55l-2.6,2.55zM520.9,210.6l2.6-2.55l2.6,2.55l-2.6,2.55zM525.3,210.6l2.6-2.55l2.6,2.55l-2.6,2.55zM529.9,212.5l2.6-2.55l2.6,2.55l-2.6,2.55zM524.7,215.7l2.6-2.55l2.6,2.55l-2.6,2.55zM527.6,218.0l2.6-2.55l2.6,2.55l-2.6,2.55zM524.4,220.9l2.6-2.55l2.6,2.55l-2.6,2.55zM516.5,218.0l2.6-2.55l2.6,2.55l-2.6,2.55zM543.6,218.0l2.6-2.55l2.6,2.55l-2.6,2.55zM550.2,218.0l2.6-2.55l2.6,2.55l-2.6,2.55zM577.5,215.4l2.6-2.55l2.6,2.55l-2.6,2.55zM571.7,214.9l2.6-2.55l2.6,2.55l-2.6,2.55zM580.9,207.7l2.6-2.55l2.6,2.55l-2.6,2.55zM584.3,208.3l2.6-2.55l2.6,2.55l-2.6,2.55zM509.2,223.8l2.6-2.55l2.6,2.55l-2.6,2.55zM502.4,227.2l2.6-2.55l2.6,2.55l-2.6,2.55zM514.6,227.2l2.6-2.55l2.6,2.55l-2.6,2.55zM499.5,230.3l2.6-2.55l2.6,2.55l-2.6,2.55zM504.7,230.3l2.6-2.55l2.6,2.55l-2.6,2.55zM509.2,230.3l2.6-2.55l2.6,2.55l-2.6,2.55zM511.5,231.8l2.6-2.55l2.6,2.55l-2.6,2.55zM508.3,233.5l2.6-2.55l2.6,2.55l-2.6,2.55zM521.8,230.1l2.6-2.55l2.6,2.55l-2.6,2.55zM518.4,232.9l2.6-2.55l2.6,2.55l-2.6,2.55zM521.8,232.9l2.6-2.55l2.6,2.55l-2.6,2.55zM502.7,236.4l2.6-2.55l2.6,2.55l-2.6,2.55zM508.3,236.4l2.6-2.55l2.6,2.55l-2.6,2.55zM529.9,232.6l2.6-2.55l2.6,2.55l-2.6,2.55zM534.7,232.9l2.6-2.55l2.6,2.55l-2.6,2.55zM543.6,232.9l2.6-2.55l2.6,2.55l-2.6,2.55zM551.1,227.2l2.6-2.55l2.6,2.55l-2.6,2.55zM554.5,230.3l2.6-2.55l2.6,2.55l-2.6,2.55zM569.2,229.5l2.6-2.55l2.6,2.55l-2.6,2.55zM575.5,230.1l2.6-2.55l2.6,2.55l-2.6,2.55zM566.3,233.2l2.6-2.55l2.6,2.55l-2.6,2.55zM570.2,233.2l2.6-2.55l2.6,2.55l-2.6,2.55zM579.2,236.4l2.6-2.55l2.6,2.55l-2.6,2.55zM558.0,239.2l2.6-2.55l2.6,2.55l-2.6,2.55zM500.6,242.1l2.6-2.55l2.6,2.55l-2.6,2.55zM507.5,242.9l2.6-2.55l2.6,2.55l-2.6,2.55zM501.8,245.9l2.6-2.55l2.6,2.55l-2.6,2.55zM511.9,245.6l2.6-2.55l2.6,2.55l-2.6,2.55zM499.3,249.3l2.6-2.55l2.6,2.55l-2.6,2.55zM505.8,246.1l2.6-2.55l2.6,2.55l-2.6,2.55zM537.3,242.5l2.6-2.55l2.6,2.55l-2.6,2.55zM541.0,245.8l2.6-2.55l2.6,2.55l-2.6,2.55zM537.3,249.3l2.6-2.55l2.6,2.55l-2.6,2.55zM530.8,249.3l2.6-2.55l2.6,2.55l-2.6,2.55zM526.4,249.3l2.6-2.55l2.6,2.55l-2.6,2.55zM520.9,249.3l2.6-2.55l2.6,2.55l-2.6,2.55zM556.2,245.6l2.6-2.55l2.6,2.55l-2.6,2.55zM559.1,249.3l2.6-2.55l2.6,2.55l-2.6,2.55zM558.0,249.6l2.6-2.55l2.6,2.55l-2.6,2.55zM562.9,253.0l2.6-2.55l2.6,2.55l-2.6,2.55zM571.1,242.9l2.6-2.55l2.6,2.55l-2.6,2.55zM574.6,245.8l2.6-2.55l2.6,2.55l-2.6,2.55zM583.8,245.8l2.6-2.55l2.6,2.55l-2.6,2.55zM520.1,253.0l2.6-2.55l2.6,2.55l-2.6,2.55zM509.8,256.1l2.6-2.55l2.6,2.55l-2.6,2.55zM520.9,256.4l2.6-2.55l2.6,2.55l-2.6,2.55zM507.5,259.9l2.6-2.55l2.6,2.55l-2.6,2.55zM511.8,259.9l2.6-2.55l2.6,2.55l-2.6,2.55zM516.5,259.9l2.6-2.55l2.6,2.55l-2.6,2.55zM519.0,260.1l2.6-2.55l2.6,2.55l-2.6,2.55zM520.9,263.9l2.6-2.55l2.6,2.55l-2.6,2.55zM517.3,267.6l2.6-2.55l2.6,2.55l-2.6,2.55zM512.1,267.6l2.6-2.55l2.6,2.55l-2.6,2.55zM512.3,267.7l2.6-2.55l2.6,2.55l-2.6,2.55zM503.5,267.6l2.6-2.55l2.6,2.55l-2.6,2.55zM528.2,267.6l2.6-2.55l2.6,2.55l-2.6,2.55zM533.9,267.6l2.6-2.55l2.6,2.55l-2.6,2.55zM540.2,267.6l2.6-2.55l2.6,2.55l-2.6,2.55zM530.8,272.2l2.6-2.55l2.6,2.55l-2.6,2.55zM497.8,263.3l2.6-2.55l2.6,2.55l-2.6,2.55zM498.3,267.9l2.6-2.55l2.6,2.55l-2.6,2.55zM498.6,268.1l2.6-2.55l2.6,2.55l-2.6,2.55zM498.9,271.9l2.6-2.55l2.6,2.55l-2.6,2.55zM499.1,272.2l2.6-2.55l2.6,2.55l-2.6,2.55zM504.1,272.2l2.6-2.55l2.6,2.55l-2.6,2.55zM507.5,272.2l2.6-2.55l2.6,2.55l-2.6,2.55zM511.5,272.2l2.6-2.55l2.6,2.55l-2.6,2.55zM509.8,275.7l2.6-2.55l2.6,2.55l-2.6,2.55zM517.8,275.4l2.6-2.55l2.6,2.55l-2.6,2.55zM518.8,275.4l2.6-2.55l2.6,2.55l-2.6,2.55zM520.9,280.5l2.6-2.55l2.6,2.55l-2.6,2.55zM524.7,280.5l2.6-2.55l2.6,2.55l-2.6,2.55zM531.9,279.9l2.6-2.55l2.6,2.55l-2.6,2.55zM503.5,279.9l2.6-2.55l2.6,2.55l-2.6,2.55zM503.8,280.5l2.6-2.55l2.6,2.55l-2.6,2.55zM504.1,284.0l2.6-2.55l2.6,2.55l-2.6,2.55zM500.6,284.0l2.6-2.55l2.6,2.55l-2.6,2.55zM507.5,284.0l2.6-2.55l2.6,2.55l-2.6,2.55zM512.7,284.0l2.6-2.55l2.6,2.55l-2.6,2.55zM502.7,288.0l2.6-2.55l2.6,2.55l-2.6,2.55zM503.4,288.1l2.6-2.55l2.6,2.55l-2.6,2.55zM519.0,288.0l2.6-2.55l2.6,2.55l-2.6,2.55zM523.8,293.7l2.6-2.55l2.6,2.55l-2.6,2.55zM570.2,284.0l2.6-2.55l2.6,2.55l-2.6,2.55zM510.0,298.3l2.6-2.55l2.6,2.55l-2.6,2.55zM515.5,298.3l2.6-2.55l2.6,2.55l-2.6,2.55zM498.9,298.3l2.6-2.55l2.6,2.55l-2.6,2.55zM502.9,302.9l2.6-2.55l2.6,2.55l-2.6,2.55zM505.0,303.1l2.6-2.55l2.6,2.55l-2.6,2.55zM497.8,302.9l2.6-2.55l2.6,2.55l-2.6,2.55zM504.4,308.0l2.6-2.55l2.6,2.55l-2.6,2.55zM497.2,308.0l2.6-2.55l2.6,2.55l-2.6,2.55zM498.3,314.0l2.6-2.55l2.6,2.55l-2.6,2.55zM504.1,314.0l2.6-2.55l2.6,2.55l-2.6,2.55zM506.9,314.0l2.6-2.55l2.6,2.55l-2.6,2.55zM511.2,314.0l2.6-2.55l2.6,2.55l-2.6,2.55zM549.0,303.1l2.6-2.55l2.6,2.55l-2.6,2.55zM585.3,314.0l2.6-2.55l2.6,2.55l-2.6,2.55zM500.1,331.0l2.6-2.55l2.6,2.55l-2.6,2.55zM514.6,337.3l2.6-2.55l2.6,2.55l-2.6,2.55zM505.5,345.0l2.6-2.55l2.6,2.55l-2.6,2.55zM500.1,359.3l2.6-2.55l2.6,2.55l-2.6,2.55zM567.4,337.3l2.6-2.55l2.6,2.55l-2.6,2.55zM567.4,345.0l2.6-2.55l2.6,2.55l-2.6,2.55zM575.5,345.0l2.6-2.55l2.6,2.55l-2.6,2.55zM522.7,375.7l2.6-2.55l2.6,2.55l-2.6,2.55zM589.3,308.3l2.6-2.55l2.6,2.55l-2.6,2.55zM623.7,305.7l2.6-2.55l2.6,2.55l-2.6,2.55zM641.1,314.0l2.6-2.55l2.6,2.55l-2.6,2.55zM644.5,325.8l2.6-2.55l2.6,2.55l-2.6,2.55zM667.2,337.5l2.6-2.55l2.6,2.55l-2.6,2.55zM705.6,308.3l2.6-2.55l2.6,2.55l-2.6,2.55zM736.6,314.0l2.6-2.55l2.6,2.55l-2.6,2.55zM736.6,337.5l2.6-2.55l2.6,2.55l-2.6,2.55zM422.7,298.3l2.6-2.55l2.6,2.55l-2.6,2.55zM441.6,298.3l2.6-2.55l2.6,2.55l-2.6,2.55zM449.6,298.3l2.6-2.55l2.6,2.55l-2.6,2.55zM457.9,298.3l2.6-2.55l2.6,2.55l-2.6,2.55zM458.6,298.3l2.6-2.55l2.6,2.55l-2.6,2.55zM469.5,298.3l2.6-2.55l2.6,2.55l-2.6,2.55zM469.9,298.3l2.6-2.55l2.6,2.55l-2.6,2.55zM481.1,298.3l2.6-2.55l2.6,2.55l-2.6,2.55zM486.3,298.3l2.6-2.55l2.6,2.55l-2.6,2.55zM492.6,298.3l2.6-2.55l2.6,2.55l-2.6,2.55zM496.1,298.3l2.6-2.55l2.6,2.55l-2.6,2.55zM422.7,303.1l2.6-2.55l2.6,2.55l-2.6,2.55zM428.4,303.1l2.6-2.55l2.6,2.55l-2.6,2.55zM434.7,303.1l2.6-2.55l2.6,2.55l-2.6,2.55zM441.0,303.1l2.6-2.55l2.6,2.55l-2.6,2.55zM445.6,303.1l2.6-2.55l2.6,2.55l-2.6,2.55zM447.9,303.1l2.6-2.55l2.6,2.55l-2.6,2.55zM452.5,303.1l2.6-2.55l2.6,2.55l-2.6,2.55zM462.0,303.1l2.6-2.55l2.6,2.55l-2.6,2.55zM469.1,303.1l2.6-2.55l2.6,2.55l-2.6,2.55zM471.4,303.1l2.6-2.55l2.6,2.55l-2.6,2.55zM481.1,303.1l2.6-2.55l2.6,2.55l-2.6,2.55zM487.5,303.1l2.6-2.55l2.6,2.55l-2.6,2.55zM492.6,303.1l2.6-2.55l2.6,2.55l-2.6,2.55zM444.5,308.3l2.6-2.55l2.6,2.55l-2.6,2.55zM448.5,308.3l2.6-2.55l2.6,2.55l-2.6,2.55zM455.7,308.3l2.6-2.55l2.6,2.55l-2.6,2.55zM456.2,308.3l2.6-2.55l2.6,2.55l-2.6,2.55zM461.1,308.3l2.6-2.55l2.6,2.55l-2.6,2.55zM466.8,308.3l2.6-2.55l2.6,2.55l-2.6,2.55zM474.8,308.3l2.6-2.55l2.6,2.55l-2.6,2.55zM477.5,308.3l2.6-2.55l2.6,2.55l-2.6,2.55zM477.9,308.3l2.6-2.55l2.6,2.55l-2.6,2.55zM478.3,308.3l2.6-2.55l2.6,2.55l-2.6,2.55zM480.6,308.3l2.6-2.55l2.6,2.55l-2.6,2.55zM486.3,308.3l2.6-2.55l2.6,2.55l-2.6,2.55zM490.9,308.3l2.6-2.55l2.6,2.55l-2.6,2.55zM423.5,314.0l2.6-2.55l2.6,2.55l-2.6,2.55zM464.2,313.8l2.6-2.55l2.6,2.55l-2.6,2.55zM466.2,313.8l2.6-2.55l2.6,2.55l-2.6,2.55zM470.3,313.8l2.6-2.55l2.6,2.55l-2.6,2.55zM478.1,313.8l2.6-2.55l2.6,2.55l-2.6,2.55zM481.7,313.8l2.6-2.55l2.6,2.55l-2.6,2.55zM489.7,313.8l2.6-2.55l2.6,2.55l-2.6,2.55zM496.1,313.8l2.6-2.55l2.6,2.55l-2.6,2.55zM459.9,319.3l2.6-2.55l2.6,2.55l-2.6,2.55zM473.7,319.3l2.6-2.55l2.6,2.55l-2.6,2.55zM481.7,319.3l2.6-2.55l2.6,2.55l-2.6,2.55zM487.2,319.3l2.6-2.55l2.6,2.55l-2.6,2.55zM487.7,319.3l2.6-2.55l2.6,2.55l-2.6,2.55zM464.6,325.6l2.6-2.55l2.6,2.55l-2.6,2.55zM465.1,325.6l2.6-2.55l2.6,2.55l-2.6,2.55zM472.0,325.6l2.6-2.55l2.6,2.55l-2.6,2.55zM474.8,325.6l2.6-2.55l2.6,2.55l-2.6,2.55zM479.2,325.6l2.6-2.55l2.6,2.55l-2.6,2.55zM451.7,331.0l2.6-2.55l2.6,2.55l-2.6,2.55zM469.7,331.0l2.6-2.55l2.6,2.55l-2.6,2.55zM472.9,331.0l2.6-2.55l2.6,2.55l-2.6,2.55zM473.4,331.0l2.6-2.55l2.6,2.55l-2.6,2.55zM481.7,331.0l2.6-2.55l2.6,2.55l-2.6,2.55zM492.6,331.0l2.6-2.55l2.6,2.55l-2.6,2.55zM461.7,337.5l2.6-2.55l2.6,2.55l-2.6,2.55zM464.2,337.5l2.6-2.55l2.6,2.55l-2.6,2.55zM469.1,337.5l2.6-2.55l2.6,2.55l-2.6,2.55zM475.4,337.5l2.6-2.55l2.6,2.55l-2.6,2.55zM481.7,337.5l2.6-2.55l2.6,2.55l-2.6,2.55zM490.9,337.5l2.6-2.55l2.6,2.55l-2.6,2.55zM457.3,345.0l2.6-2.55l2.6,2.55l-2.6,2.55zM475.4,345.0l2.6-2.55l2.6,2.55l-2.6,2.55zM480.9,345.0l2.6-2.55l2.6,2.55l-2.6,2.55zM495.3,345.0l2.6-2.55l2.6,2.55l-2.6,2.55zM494.3,366.5l2.6-2.55l2.6,2.55l-2.6,2.55zM457.2,218.3l2.6-2.55l2.6,2.55l-2.6,2.55zM476.3,215.6l2.6-2.55l2.6,2.55l-2.6,2.55zM480.0,212.6l2.6-2.55l2.6,2.55l-2.6,2.55zM486.9,215.2l2.6-2.55l2.6,2.55l-2.6,2.55zM490.3,215.5l2.6-2.55l2.6,2.55l-2.6,2.55zM488.9,218.3l2.6-2.55l2.6,2.55l-2.6,2.55zM490.9,221.2l2.6-2.55l2.6,2.55l-2.6,2.55zM495.5,221.2l2.6-2.55l2.6,2.55l-2.6,2.55zM452.8,230.1l2.6-2.55l2.6,2.55l-2.6,2.55zM458.2,232.8l2.6-2.55l2.6,2.55l-2.6,2.55zM453.9,233.5l2.6-2.55l2.6,2.55l-2.6,2.55zM480.9,236.4l2.6-2.55l2.6,2.55l-2.6,2.55zM480.0,242.1l2.6-2.55l2.6,2.55l-2.6,2.55zM479.9,245.4l2.6-2.55l2.6,2.55l-2.6,2.55zM480.1,245.7l2.6-2.55l2.6,2.55l-2.6,2.55zM480.0,249.6l2.6-2.55l2.6,2.55l-2.6,2.55zM492.3,232.7l2.6-2.55l2.6,2.55l-2.6,2.55zM494.6,232.7l2.6-2.55l2.6,2.55l-2.6,2.55zM496.3,231.2l2.6-2.55l2.6,2.55l-2.6,2.55zM494.0,236.4l2.6-2.55l2.6,2.55l-2.6,2.55zM490.9,239.2l2.6-2.55l2.6,2.55l-2.6,2.55zM490.0,243.3l2.6-2.55l2.6,2.55l-2.6,2.55zM455.5,239.2l2.6-2.55l2.6,2.55l-2.6,2.55zM455.8,239.2l2.6-2.55l2.6,2.55l-2.6,2.55zM453.3,238.1l2.6-2.55l2.6,2.55l-2.6,2.55zM462.8,245.6l2.6-2.55l2.6,2.55l-2.6,2.55zM462.8,249.6l2.6-2.55l2.6,2.55l-2.6,2.55zM453.9,245.6l2.6-2.55l2.6,2.55l-2.6,2.55zM456.2,249.6l2.6-2.55l2.6,2.55l-2.6,2.55zM494.0,249.0l2.6-2.55l2.6,2.55l-2.6,2.55zM496.8,247.3l2.6-2.55l2.6,2.55l-2.6,2.55zM497.0,247.4l2.6-2.55l2.6,2.55l-2.6,2.55zM426.7,209.6l2.6-2.55l2.6,2.55l-2.6,2.55zM429.0,208.0l2.6-2.55l2.6,2.55l-2.6,2.55zM425.6,215.4l2.6-2.55l2.6,2.55l-2.6,2.55zM425.8,215.5l2.6-2.55l2.6,2.55l-2.6,2.55zM447.4,212.6l2.6-2.55l2.6,2.55l-2.6,2.55zM435.4,212.6l2.6-2.55l2.6,2.55l-2.6,2.55zM435.6,215.4l2.6-2.55l2.6,2.55l-2.6,2.55zM435.9,215.7l2.6-2.55l2.6,2.55l-2.6,2.55zM441.8,218.5l2.6-2.55l2.6,2.55l-2.6,2.55zM428.0,220.8l2.6-2.55l2.6,2.55l-2.6,2.55zM430.0,221.0l2.6-2.55l2.6,2.55l-2.6,2.55zM431.8,221.3l2.6-2.55l2.6,2.55l-2.6,2.55zM436.4,221.0l2.6-2.55l2.6,2.55l-2.6,2.55zM427.0,224.1l2.6-2.55l2.6,2.55l-2.6,2.55zM431.8,224.6l2.6-2.55l2.6,2.55l-2.6,2.55zM447.9,220.8l2.6-2.55l2.6,2.55l-2.6,2.55zM446.3,223.3l2.6-2.55l2.6,2.55l-2.6,2.55zM444.8,223.8l2.6-2.55l2.6,2.55l-2.6,2.55zM437.7,227.4l2.6-2.55l2.6,2.55l-2.6,2.55zM439.7,227.4l2.6-2.55l2.6,2.55l-2.6,2.55zM423.9,229.9l2.6-2.55l2.6,2.55l-2.6,2.55zM425.2,231.5l2.6-2.55l2.6,2.55l-2.6,2.55zM427.0,229.9l2.6-2.55l2.6,2.55l-2.6,2.55zM425.4,233.5l2.6-2.55l2.6,2.55l-2.6,2.55zM435.1,232.5l2.6-2.55l2.6,2.55l-2.6,2.55zM439.2,232.0l2.6-2.55l2.6,2.55l-2.6,2.55zM443.8,229.9l2.6-2.55l2.6,2.55l-2.6,2.55zM447.9,230.2l2.6-2.55l2.6,2.55l-2.6,2.55zM433.6,236.6l2.6-2.55l2.6,2.55l-2.6,2.55zM436.4,236.6l2.6-2.55l2.6,2.55l-2.6,2.55zM441.5,236.6l2.6-2.55l2.6,2.55l-2.6,2.55zM421.1,239.1l2.6-2.55l2.6,2.55l-2.6,2.55zM424.9,239.6l2.6-2.55l2.6,2.55l-2.6,2.55zM426.5,241.7l2.6-2.55l2.6,2.55l-2.6,2.55zM429.0,243.2l2.6-2.55l2.6,2.55l-2.6,2.55zM427.5,244.7l2.6-2.55l2.6,2.55l-2.6,2.55zM436.7,242.7l2.6-2.55l2.6,2.55l-2.6,2.55zM438.7,243.7l2.6-2.55l2.6,2.55l-2.6,2.55zM440.7,241.7l2.6-2.55l2.6,2.55l-2.6,2.55zM447.4,239.1l2.6-2.55l2.6,2.55l-2.6,2.55zM449.9,237.6l2.6-2.55l2.6,2.55l-2.6,2.55zM451.4,241.7l2.6-2.55l2.6,2.55l-2.6,2.55zM444.8,243.2l2.6-2.55l2.6,2.55l-2.6,2.55zM448.9,244.7l2.6-2.55l2.6,2.55l-2.6,2.55zM419.8,245.2l2.6-2.55l2.6,2.55l-2.6,2.55zM455.6,252.7l2.6-2.55l2.6,2.55l-2.6,2.55zM457.6,256.4l2.6-2.55l2.6,2.55l-2.6,2.55zM459.9,260.2l2.6-2.55l2.6,2.55l-2.6,2.55zM466.0,263.9l2.6-2.55l2.6,2.55l-2.6,2.55zM463.7,267.3l2.6-2.55l2.6,2.55l-2.6,2.55zM456.5,271.9l2.6-2.55l2.6,2.55l-2.6,2.55zM454.8,275.6l2.6-2.55l2.6,2.55l-2.6,2.55zM470.5,254.7l2.6-2.55l2.6,2.55l-2.6,2.55zM473.1,253.6l2.6-2.55l2.6,2.55l-2.6,2.55zM477.4,256.4l2.6-2.55l2.6,2.55l-2.6,2.55zM474.8,260.2l2.6-2.55l2.6,2.55l-2.6,2.55zM479.1,260.5l2.6-2.55l2.6,2.55l-2.6,2.55zM482.9,260.2l2.6-2.55l2.6,2.55l-2.6,2.55zM478.9,263.3l2.6-2.55l2.6,2.55l-2.6,2.55zM484.9,267.6l2.6-2.55l2.6,2.55l-2.6,2.55zM489.2,267.6l2.6-2.55l2.6,2.55l-2.6,2.55zM493.5,264.5l2.6-2.55l2.6,2.55l-2.6,2.55zM474.3,271.9l2.6-2.55l2.6,2.55l-2.6,2.55zM468.8,271.9l2.6-2.55l2.6,2.55l-2.6,2.55zM475.1,275.9l2.6-2.55l2.6,2.55l-2.6,2.55zM484.6,275.6l2.6-2.55l2.6,2.55l-2.6,2.55zM490.6,275.6l2.6-2.55l2.6,2.55l-2.6,2.55zM490.0,271.9l2.6-2.55l2.6,2.55l-2.6,2.55zM476.3,279.9l2.6-2.55l2.6,2.55l-2.6,2.55zM481.7,279.9l2.6-2.55l2.6,2.55l-2.6,2.55zM489.5,279.9l2.6-2.55l2.6,2.55l-2.6,2.55zM494.3,280.2l2.6-2.55l2.6,2.55l-2.6,2.55zM470.0,279.9l2.6-2.55l2.6,2.55l-2.6,2.55zM462.5,280.2l2.6-2.55l2.6,2.55l-2.6,2.55zM469.7,284.0l2.6-2.55l2.6,2.55l-2.6,2.55zM465.7,284.2l2.6-2.55l2.6,2.55l-2.6,2.55zM457.9,284.2l2.6-2.55l2.6,2.55l-2.6,2.55zM453.1,284.0l2.6-2.55l2.6,2.55l-2.6,2.55zM484.3,284.0l2.6-2.55l2.6,2.55l-2.6,2.55zM490.0,284.0l2.6-2.55l2.6,2.55l-2.6,2.55zM478.9,288.3l2.6-2.55l2.6,2.55l-2.6,2.55zM484.9,288.5l2.6-2.55l2.6,2.55l-2.6,2.55zM486.6,288.5l2.6-2.55l2.6,2.55l-2.6,2.55zM489.7,288.5l2.6-2.55l2.6,2.55l-2.6,2.55zM494.3,288.5l2.6-2.55l2.6,2.55l-2.6,2.55zM465.4,293.7l2.6-2.55l2.6,2.55l-2.6,2.55zM474.3,293.7l2.6-2.55l2.6,2.55l-2.6,2.55zM484.6,293.7l2.6-2.55l2.6,2.55l-2.6,2.55zM494.9,293.7l2.6-2.55l2.6,2.55l-2.6,2.55zM458.5,293.7l2.6-2.55l2.6,2.55l-2.6,2.55zM455.1,293.7l2.6-2.55l2.6,2.55l-2.6,2.55zM454.8,288.3l2.6-2.55l2.6,2.55l-2.6,2.55zM467.7,287.7l2.6-2.55l2.6,2.55l-2.6,2.55zM468.5,292.0l2.6-2.55l2.6,2.55l-2.6,2.55zM453.3,256.7l2.6-2.55l2.6,2.55l-2.6,2.55zM455.6,260.2l2.6-2.55l2.6,2.55l-2.6,2.55zM453.9,264.2l2.6-2.55l2.6,2.55l-2.6,2.55zM457.9,265.3l2.6-2.55l2.6,2.55l-2.6,2.55zM461.4,264.2l2.6-2.55l2.6,2.55l-2.6,2.55zM453.3,268.2l2.6-2.55l2.6,2.55l-2.6,2.55zM486.6,268.2l2.6-2.55l2.6,2.55l-2.6,2.55zM491.8,267.6l2.6-2.55l2.6,2.55l-2.6,2.55zM495.8,267.6l2.6-2.55l2.6,2.55l-2.6,2.55zM454.5,285.4l2.6-2.55l2.6,2.55l-2.6,2.55zM457.4,287.7l2.6-2.55l2.6,2.55l-2.6,2.55zM459.7,286.0l2.6-2.55l2.6,2.55l-2.6,2.55zM470.5,283.7l2.6-2.55l2.6,2.55l-2.6,2.55zM495.8,259.6l2.6-2.55l2.6,2.55l-2.6,2.55zM494.6,261.3l2.6-2.55l2.6,2.55l-2.6,2.55zM484.3,254.4l2.6-2.55l2.6,2.55l-2.6,2.55zM487.7,251.3l2.6-2.55l2.6,2.55l-2.6,2.55zM469.4,284.1l2.6-2.55l2.6,2.55l-2.6,2.55zM490.2,284.1l2.6-2.55l2.6,2.55l-2.6,2.55zM484.9,267.8l2.6-2.55l2.6,2.55l-2.6,2.55zM422.0,249.8l2.6-2.55l2.6,2.55l-2.6,2.55zM424.5,253.3l2.6-2.55l2.6,2.55l-2.6,2.55zM422.2,239.8l2.6-2.55l2.6,2.55l-2.6,2.55zM423.4,264.3l2.6-2.55l2.6,2.55l-2.6,2.55zM423.7,264.3l2.6-2.55l2.6,2.55l-2.6,2.55zM423.2,264.4l2.6-2.55l2.6,2.55l-2.6,2.55zM421.2,239.8l2.6-2.55l2.6,2.55l-2.6,2.55zM425.0,243.0l2.6-2.55l2.6,2.55l-2.6,2.55zM422.1,239.8l2.6-2.55l2.6,2.55l-2.6,2.55zM421.9,256.8l2.6-2.55l2.6,2.55l-2.6,2.55zM422.4,256.6l2.6-2.55l2.6,2.55l-2.6,2.55zM422.2,239.8l2.6-2.55l2.6,2.55l-2.6,2.55zM421.4,227.5l2.6-2.55l2.6,2.55l-2.6,2.55zM422.6,230.5l2.6-2.55l2.6,2.55l-2.6,2.55zM422.4,246.4l2.6-2.55l2.6,2.55l-2.6,2.55zM422.6,230.5l2.6-2.55l2.6,2.55l-2.6,2.55zM423.8,249.8l2.6-2.55l2.6,2.55l-2.6,2.55zM423.7,249.6l2.6-2.55l2.6,2.55l-2.6,2.55zM421.9,256.8l2.6-2.55l2.6,2.55l-2.6,2.55zM424.8,249.8l2.6-2.55l2.6,2.55l-2.6,2.55zM425.4,250.0l2.6-2.55l2.6,2.55l-2.6,2.55zM424.9,249.8l2.6-2.55l2.6,2.55l-2.6,2.55zM424.5,250.0l2.6-2.55l2.6,2.55l-2.6,2.55zM423.8,260.5l2.6-2.55l2.6,2.55l-2.6,2.55zM421.1,243.0l2.6-2.55l2.6,2.55l-2.6,2.55zM422.4,243.0l2.6-2.55l2.6,2.55l-2.6,2.55zM421.1,272.2l2.6-2.55l2.6,2.55l-2.6,2.55zM423.9,256.8l2.6-2.55l2.6,2.55l-2.6,2.55zM424.8,256.8l2.6-2.55l2.6,2.55l-2.6,2.55zM424.0,233.5l2.6-2.55l2.6,2.55l-2.6,2.55zM426.2,260.5l2.6-2.55l2.6,2.55l-2.6,2.55zM428.6,280.5l2.6-2.55l2.6,2.55l-2.6,2.55zM428.1,280.5l2.6-2.55l2.6,2.55l-2.6,2.55zM426.5,276.3l2.6-2.55l2.6,2.55l-2.6,2.55zM429.0,230.5l2.6-2.55l2.6,2.55l-2.6,2.55zM428.6,249.8l2.6-2.55l2.6,2.55l-2.6,2.55zM428.0,246.4l2.6-2.55l2.6,2.55l-2.6,2.55zM431.1,268.2l2.6-2.55l2.6,2.55l-2.6,2.55zM428.6,227.5l2.6-2.55l2.6,2.55l-2.6,2.55zM429.6,253.3l2.6-2.55l2.6,2.55l-2.6,2.55zM431.4,249.8l2.6-2.55l2.6,2.55l-2.6,2.55zM426.6,256.8l2.6-2.55l2.6,2.55l-2.6,2.55zM427.3,257.0l2.6-2.55l2.6,2.55l-2.6,2.55zM426.1,256.8l2.6-2.55l2.6,2.55l-2.6,2.55zM429.1,246.4l2.6-2.55l2.6,2.55l-2.6,2.55zM429.3,256.8l2.6-2.55l2.6,2.55l-2.6,2.55zM429.2,257.0l2.6-2.55l2.6,2.55l-2.6,2.55zM430.5,264.3l2.6-2.55l2.6,2.55l-2.6,2.55zM431.1,264.5l2.6-2.55l2.6,2.55l-2.6,2.55zM430.9,253.3l2.6-2.55l2.6,2.55l-2.6,2.55zM425.7,249.8l2.6-2.55l2.6,2.55l-2.6,2.55zM425.3,249.6l2.6-2.55l2.6,2.55l-2.6,2.55zM426.5,236.6l2.6-2.55l2.6,2.55l-2.6,2.55zM426.4,227.5l2.6-2.55l2.6,2.55l-2.6,2.55zM432.8,230.5l2.6-2.55l2.6,2.55l-2.6,2.55zM431.9,280.5l2.6-2.55l2.6,2.55l-2.6,2.55zM432.3,246.4l2.6-2.55l2.6,2.55l-2.6,2.55zM433.6,289.5l2.6-2.55l2.6,2.55l-2.6,2.55zM432.4,253.3l2.6-2.55l2.6,2.55l-2.6,2.55zM432.9,276.3l2.6-2.55l2.6,2.55l-2.6,2.55zM435.4,280.5l2.6-2.55l2.6,2.55l-2.6,2.55zM433.7,264.3l2.6-2.55l2.6,2.55l-2.6,2.55zM437.2,260.5l2.6-2.55l2.6,2.55l-2.6,2.55zM437.5,260.3l2.6-2.55l2.6,2.55l-2.6,2.55zM435.2,230.5l2.6-2.55l2.6,2.55l-2.6,2.55zM435.1,230.6l2.6-2.55l2.6,2.55l-2.6,2.55zM432.3,249.8l2.6-2.55l2.6,2.55l-2.6,2.55zM432.5,250.0l2.6-2.55l2.6,2.55l-2.6,2.55zM434.0,289.5l2.6-2.55l2.6,2.55l-2.6,2.55zM436.3,268.2l2.6-2.55l2.6,2.55l-2.6,2.55zM435.7,268.3l2.6-2.55l2.6,2.55l-2.6,2.55zM432.4,246.4l2.6-2.55l2.6,2.55l-2.6,2.55zM431.8,246.6l2.6-2.55l2.6,2.55l-2.6,2.55zM433.3,268.2l2.6-2.55l2.6,2.55l-2.6,2.55zM441.8,227.5l2.6-2.55l2.6,2.55l-2.6,2.55zM440.2,280.5l2.6-2.55l2.6,2.55l-2.6,2.55zM440.6,280.7l2.6-2.55l2.6,2.55l-2.6,2.55zM443.1,243.0l2.6-2.55l2.6,2.55l-2.6,2.55zM443.1,243.2l2.6-2.55l2.6,2.55l-2.6,2.55zM439.1,256.8l2.6-2.55l2.6,2.55l-2.6,2.55zM442.6,243.0l2.6-2.55l2.6,2.55l-2.6,2.55zM443.1,243.1l2.6-2.55l2.6,2.55l-2.6,2.55zM440.4,246.4l2.6-2.55l2.6,2.55l-2.6,2.55zM440.8,246.5l2.6-2.55l2.6,2.55l-2.6,2.55zM442.4,239.8l2.6-2.55l2.6,2.55l-2.6,2.55zM441.3,249.8l2.6-2.55l2.6,2.55l-2.6,2.55zM442.4,253.3l2.6-2.55l2.6,2.55l-2.6,2.55zM443.7,256.8l2.6-2.55l2.6,2.55l-2.6,2.55zM444.1,257.1l2.6-2.55l2.6,2.55l-2.6,2.55zM438.8,268.2l2.6-2.55l2.6,2.55l-2.6,2.55zM438.6,239.8l2.6-2.55l2.6,2.55l-2.6,2.55zM442.6,272.2l2.6-2.55l2.6,2.55l-2.6,2.55zM439.3,256.8l2.6-2.55l2.6,2.55l-2.6,2.55zM439.2,256.6l2.6-2.55l2.6,2.55l-2.6,2.55zM439.9,272.2l2.6-2.55l2.6,2.55l-2.6,2.55zM423.0,264.3l2.6-2.55l2.6,2.55l-2.6,2.55zM424.9,272.2l2.6-2.55l2.6,2.55l-2.6,2.55zM424.7,272.0l2.6-2.55l2.6,2.55l-2.6,2.55zM421.5,284.9l2.6-2.55l2.6,2.55l-2.6,2.55zM421.5,264.3l2.6-2.55l2.6,2.55l-2.6,2.55zM423.1,284.9l2.6-2.55l2.6,2.55l-2.6,2.55zM422.1,276.3l2.6-2.55l2.6,2.55l-2.6,2.55zM422.2,276.4l2.6-2.55l2.6,2.55l-2.6,2.55zM423.3,276.3l2.6-2.55l2.6,2.55l-2.6,2.55zM424.8,268.2l2.6-2.55l2.6,2.55l-2.6,2.55zM424.2,268.5l2.6-2.55l2.6,2.55l-2.6,2.55zM425.1,294.1l2.6-2.55l2.6,2.55l-2.6,2.55zM421.9,280.5l2.6-2.55l2.6,2.55l-2.6,2.55zM431.1,284.9l2.6-2.55l2.6,2.55l-2.6,2.55zM429.1,276.3l2.6-2.55l2.6,2.55l-2.6,2.55zM429.1,276.5l2.6-2.55l2.6,2.55l-2.6,2.55zM430.1,289.5l2.6-2.55l2.6,2.55l-2.6,2.55zM429.8,264.3l2.6-2.55l2.6,2.55l-2.6,2.55zM430.0,284.9l2.6-2.55l2.6,2.55l-2.6,2.55zM430.4,284.7l2.6-2.55l2.6,2.55l-2.6,2.55zM431.1,294.1l2.6-2.55l2.6,2.55l-2.6,2.55zM431.2,280.5l2.6-2.55l2.6,2.55l-2.6,2.55zM435.2,276.3l2.6-2.55l2.6,2.55l-2.6,2.55zM435.7,276.4l2.6-2.55l2.6,2.55l-2.6,2.55zM435.7,294.1l2.6-2.55l2.6,2.55l-2.6,2.55zM434.2,272.2l2.6-2.55l2.6,2.55l-2.6,2.55zM433.7,268.2l2.6-2.55l2.6,2.55l-2.6,2.55zM433.8,268.3l2.6-2.55l2.6,2.55l-2.6,2.55zM432.0,246.4l2.6-2.55l2.6,2.55l-2.6,2.55zM432.8,246.3l2.6-2.55l2.6,2.55l-2.6,2.55zM434.9,264.3l2.6-2.55l2.6,2.55l-2.6,2.55zM435.0,264.3l2.6-2.55l2.6,2.55l-2.6,2.55zM443.7,289.5l2.6-2.55l2.6,2.55l-2.6,2.55zM441.8,289.5l2.6-2.55l2.6,2.55l-2.6,2.55zM442.0,289.3l2.6-2.55l2.6,2.55l-2.6,2.55zM439.1,280.5l2.6-2.55l2.6,2.55l-2.6,2.55zM439.0,280.7l2.6-2.55l2.6,2.55l-2.6,2.55zM442.3,294.1l2.6-2.55l2.6,2.55l-2.6,2.55zM449.3,249.8l2.6-2.55l2.6,2.55l-2.6,2.55zM446.7,243.0l2.6-2.55l2.6,2.55l-2.6,2.55zM446.5,284.9l2.6-2.55l2.6,2.55l-2.6,2.55zM449.1,284.9l2.6-2.55l2.6,2.55l-2.6,2.55zM444.4,256.8l2.6-2.55l2.6,2.55l-2.6,2.55zM447.8,284.9l2.6-2.55l2.6,2.55l-2.6,2.55zM448.4,249.8l2.6-2.55l2.6,2.55l-2.6,2.55zM445.3,243.0l2.6-2.55l2.6,2.55l-2.6,2.55zM450.4,294.1l2.6-2.55l2.6,2.55l-2.6,2.55zM450.1,253.3l2.6-2.55l2.6,2.55l-2.6,2.55zM445.8,256.8l2.6-2.55l2.6,2.55l-2.6,2.55zM448.5,294.1l2.6-2.55l2.6,2.55l-2.6,2.55zM446.1,280.5l2.6-2.55l2.6,2.55l-2.6,2.55zM446.0,280.7l2.6-2.55l2.6,2.55l-2.6,2.55zM449.3,289.5l2.6-2.55l2.6,2.55l-2.6,2.55zM447.6,284.9l2.6-2.55l2.6,2.55l-2.6,2.55zM454.8,276.3l2.6-2.55l2.6,2.55l-2.6,2.55zM450.8,289.5l2.6-2.55l2.6,2.55l-2.6,2.55zM451.0,289.4l2.6-2.55l2.6,2.55l-2.6,2.55zM454.4,268.2l2.6-2.55l2.6,2.55l-2.6,2.55zM456.4,272.2l2.6-2.55l2.6,2.55l-2.6,2.55zM455.8,272.1l2.6-2.55l2.6,2.55l-2.6,2.55zM455.3,294.1l2.6-2.55l2.6,2.55l-2.6,2.55zM455.0,294.3l2.6-2.55l2.6,2.55l-2.6,2.55zM452.6,264.3l2.6-2.55l2.6,2.55l-2.6,2.55zM454.4,264.3l2.6-2.55l2.6,2.55l-2.6,2.55zM454.1,264.6l2.6-2.55l2.6,2.55l-2.6,2.55zM450.6,280.5l2.6-2.55l2.6,2.55l-2.6,2.55zM450.5,280.3l2.6-2.55l2.6,2.55l-2.6,2.55zM453.3,256.8l2.6-2.55l2.6,2.55l-2.6,2.55zM451.4,284.9l2.6-2.55l2.6,2.55l-2.6,2.55zM454.2,253.3l2.6-2.55l2.6,2.55l-2.6,2.55zM458.8,280.5l2.6-2.55l2.6,2.55l-2.6,2.55zM461.4,256.8l2.6-2.55l2.6,2.55l-2.6,2.55zM460.9,256.7l2.6-2.55l2.6,2.55l-2.6,2.55zM459.5,268.2l2.6-2.55l2.6,2.55l-2.6,2.55zM458.4,256.8l2.6-2.55l2.6,2.55l-2.6,2.55zM457.5,260.5l2.6-2.55l2.6,2.55l-2.6,2.55zM461.1,280.5l2.6-2.55l2.6,2.55l-2.6,2.55zM461.3,268.2l2.6-2.55l2.6,2.55l-2.6,2.55zM459.5,268.2l2.6-2.55l2.6,2.55l-2.6,2.55zM459.0,268.0l2.6-2.55l2.6,2.55l-2.6,2.55zM466.1,289.5l2.6-2.55l2.6,2.55l-2.6,2.55zM465.3,284.9l2.6-2.55l2.6,2.55l-2.6,2.55zM465.8,284.9l2.6-2.55l2.6,2.55l-2.6,2.55zM465.4,276.3l2.6-2.55l2.6,2.55l-2.6,2.55zM468.0,289.5l2.6-2.55l2.6,2.55l-2.6,2.55zM467.5,289.5l2.6-2.55l2.6,2.55l-2.6,2.55zM468.7,268.2l2.6-2.55l2.6,2.55l-2.6,2.55zM469.3,268.4l2.6-2.55l2.6,2.55l-2.6,2.55zM463.2,268.2l2.6-2.55l2.6,2.55l-2.6,2.55zM467.6,256.8l2.6-2.55l2.6,2.55l-2.6,2.55zM469.1,280.5l2.6-2.55l2.6,2.55l-2.6,2.55zM464.9,294.1l2.6-2.55l2.6,2.55l-2.6,2.55zM473.4,289.5l2.6-2.55l2.6,2.55l-2.6,2.55zM473.0,289.2l2.6-2.55l2.6,2.55l-2.6,2.55zM470.6,289.5l2.6-2.55l2.6,2.55l-2.6,2.55zM472.9,272.2l2.6-2.55l2.6,2.55l-2.6,2.55zM473.9,289.5l2.6-2.55l2.6,2.55l-2.6,2.55zM470.8,294.1l2.6-2.55l2.6,2.55l-2.6,2.55zM469.6,272.2l2.6-2.55l2.6,2.55l-2.6,2.55zM475.4,289.5l2.6-2.55l2.6,2.55l-2.6,2.55zM471.6,289.5l2.6-2.55l2.6,2.55l-2.6,2.55zM471.6,280.5l2.6-2.55l2.6,2.55l-2.6,2.55zM472.0,280.6l2.6-2.55l2.6,2.55l-2.6,2.55zM473.4,276.3l2.6-2.55l2.6,2.55l-2.6,2.55zM473.1,276.2l2.6-2.55l2.6,2.55l-2.6,2.55zM471.2,284.9l2.6-2.55l2.6,2.55l-2.6,2.55zM471.6,285.1l2.6-2.55l2.6,2.55l-2.6,2.55zM471.1,284.9l2.6-2.55l2.6,2.55l-2.6,2.55zM479.1,289.5l2.6-2.55l2.6,2.55l-2.6,2.55zM476.7,289.5l2.6-2.55l2.6,2.55l-2.6,2.55zM479.9,272.2l2.6-2.55l2.6,2.55l-2.6,2.55zM479.1,272.2l2.6-2.55l2.6,2.55l-2.6,2.55zM477.6,256.8l2.6-2.55l2.6,2.55l-2.6,2.55zM479.5,280.5l2.6-2.55l2.6,2.55l-2.6,2.55zM479.0,280.3l2.6-2.55l2.6,2.55l-2.6,2.55zM476.3,284.9l2.6-2.55l2.6,2.55l-2.6,2.55zM476.9,284.8l2.6-2.55l2.6,2.55l-2.6,2.55zM475.6,289.5l2.6-2.55l2.6,2.55l-2.6,2.55zM475.9,289.6l2.6-2.55l2.6,2.55l-2.6,2.55zM480.4,272.2l2.6-2.55l2.6,2.55l-2.6,2.55zM481.0,272.5l2.6-2.55l2.6,2.55l-2.6,2.55zM475.5,253.3l2.6-2.55l2.6,2.55l-2.6,2.55zM484.9,272.2l2.6-2.55l2.6,2.55l-2.6,2.55zM483.1,256.8l2.6-2.55l2.6,2.55l-2.6,2.55zM485.1,276.3l2.6-2.55l2.6,2.55l-2.6,2.55zM482.1,284.9l2.6-2.55l2.6,2.55l-2.6,2.55zM484.1,284.9l2.6-2.55l2.6,2.55l-2.6,2.55zM483.6,268.2l2.6-2.55l2.6,2.55l-2.6,2.55zM485.1,289.5l2.6-2.55l2.6,2.55l-2.6,2.55zM484.7,289.5l2.6-2.55l2.6,2.55l-2.6,2.55zM487.2,272.2l2.6-2.55l2.6,2.55l-2.6,2.55zM483.6,284.9l2.6-2.55l2.6,2.55l-2.6,2.55zM493.8,289.5l2.6-2.55l2.6,2.55l-2.6,2.55zM493.2,289.3l2.6-2.55l2.6,2.55l-2.6,2.55zM491.7,289.5l2.6-2.55l2.6,2.55l-2.6,2.55zM491.9,289.3l2.6-2.55l2.6,2.55l-2.6,2.55zM494.0,284.9l2.6-2.55l2.6,2.55l-2.6,2.55zM493.3,284.9l2.6-2.55l2.6,2.55l-2.6,2.55zM490.4,276.3l2.6-2.55l2.6,2.55l-2.6,2.55zM492.8,256.8l2.6-2.55l2.6,2.55l-2.6,2.55zM492.5,284.9l2.6-2.55l2.6,2.55l-2.6,2.55zM495.5,280.5l2.6-2.55l2.6,2.55l-2.6,2.55zM494.5,289.5l2.6-2.55l2.6,2.55l-2.6,2.55zM743.2,93.7l2.6-2.55l2.6,2.55l-2.6,2.55zM742.6,93.4l2.6-2.55l2.6,2.55l-2.6,2.55zM742.9,94.0l2.6-2.55l2.6,2.55l-2.6,2.55zM743.0,160.8l2.6-2.55l2.6,2.55l-2.6,2.55zM742.4,160.5l2.6-2.55l2.6,2.55l-2.6,2.55zM742.7,161.1l2.6-2.55l2.6,2.55l-2.6,2.55z" fill="none" stroke="#000" stroke-width="1.08" stroke-linejoin="miter"/>
<path d="M423.3,251.2 L424.9,252.5 L426.5,253.8 L428.1,255.0 L429.7,256.2 L431.3,257.3 L432.9,258.3 L434.6,259.3 L436.2,260.2 L437.8,261.1 L439.4,261.9 L441.0,262.6 L442.6,263.3 L444.2,264.0 L445.8,264.6 L447.5,265.2 L449.1,265.7 L450.7,266.1 L452.3,266.5 L453.9,266.9 L455.5,267.2 L457.1,267.4 L458.8,267.6 L460.4,267.8 L462.0,267.9 L463.6,268.0 L465.2,268.0 L466.8,268.0 L468.4,268.0 L470.0,267.9 L471.7,267.7 L473.3,267.6 L474.9,267.3 L476.5,267.1 L478.1,266.8 L479.7,266.5 L481.3,266.1 L482.9,265.7 L484.6,265.3 L486.2,264.8 L487.8,264.3 L489.4,263.7 L491.0,263.2 L492.6,262.6 L494.2,261.9 L495.9,261.3 L497.5,260.6 L499.1,259.9 L500.7,259.1 L502.3,258.3 L503.9,257.5 L505.5,256.7 L507.1,255.8 L508.8,254.9 L510.4,254.0 L512.0,253.1 L513.6,252.2 L515.2,251.2 L516.8,250.2 L518.4,249.2 L520.0,248.1 L521.7,247.1 L523.3,246.0 L524.9,244.9 L526.5,243.8 L528.1,242.7 L529.7,241.5 L531.3,240.4 L532.9,239.2 L534.6,238.0 L536.2,236.8 L537.8,235.6 L539.4,234.4 L541.0,233.2 L542.6,231.9 L544.2,230.7 L545.9,229.4 L547.5,228.1 L549.1,226.8 L550.7,225.6 L552.3,224.3 L553.9,223.0 L555.5,221.7 L557.1,220.4 L558.8,219.1 L560.4,217.8 L562.0,216.4 L563.6,215.1 L565.2,213.8 L566.8,212.5 L568.4,211.2 L570.0,209.9 L571.7,208.6 L573.3,207.3 L574.9,206.0 L576.5,204.7 L578.1,203.4 L579.7,202.1 L581.3,200.8 L583.0,199.5 L584.6,198.3 L586.2,197.0 L587.8,195.8 L589.4,194.5 L591.0,193.3 L592.6,192.1 L594.2,190.9 L595.9,189.7 L597.5,188.5 L599.1,187.3 L600.7,186.2 L602.3,185.0 L603.9,183.9 L605.5,182.8 L607.1,181.7 L608.8,180.7 L610.4,179.6 L612.0,178.6 L613.6,177.6 L615.2,176.6 L616.8,175.7 L618.4,174.7 L620.0,173.8 L621.7,172.9 L623.3,172.0 L624.9,171.2 L626.5,170.4 L628.1,169.6 L629.7,168.8 L631.3,168.1 L633.0,167.4 L634.6,166.7 L636.2,166.0 L637.8,165.4 L639.4,164.8 L641.0,164.3 L642.6,163.7 L644.2,163.3 L645.9,162.8 L647.5,162.4 L649.1,162.0 L650.7,161.7 L652.3,161.3 L653.9,161.1 L655.5,160.8 L657.1,160.6 L658.8,160.5 L660.4,160.4 L662.0,160.3 L663.6,160.3 L665.2,160.3 L666.8,160.3 L668.4,160.4 L670.1,160.6 L671.7,160.8 L673.3,161.0 L674.9,161.3 L676.5,161.6 L678.1,162.0 L679.7,162.4 L681.3,162.9 L683.0,163.4 L684.6,164.0 L686.2,164.6 L687.8,165.3 L689.4,166.0 L691.0,166.8 L692.6,167.6 L694.2,168.5 L695.9,169.5 L697.5,170.5 L699.1,171.6 L700.7,172.7 L702.3,173.9 L703.9,175.1 L705.5,176.4 L707.2,177.8 L708.8,179.2 L710.4,180.7 L712.0,182.2 L713.6,183.8 L715.2,185.5 L716.8,187.2 L718.4,189.0 L720.1,190.9 L721.7,192.9 L723.3,194.9 L724.9,196.9 L726.5,199.1 L728.1,201.3 L729.7,203.6 L731.3,205.9 L733.0,208.3 L734.6,210.8 L736.2,213.4 L737.8,216.1 L739.4,218.8 L741.0,221.6 L742.6,224.4 L744.2,227.4 L745.9,230.4" fill="none" stroke="#f00" stroke-width="1.9" stroke-linejoin="round" />
<path d="M423.3,277.2 L584.6,211.7 L745.9,146.1" fill="none" stroke="#00cd00" stroke-width="1.9" stroke-linejoin="round" />
<path d="M423.9,261.5 L424.5,259.4 L425.2,257.4 L425.9,255.6 L426.5,253.9 L427.2,252.5 L427.9,251.4 L428.5,250.6 L429.2,250.2 L429.9,250.2 L430.5,250.6 L431.2,251.2 L431.8,251.9 L432.5,252.6 L433.2,253.1 L433.8,253.5 L434.5,253.5 L435.2,253.0 L435.8,252.2 L436.5,251.1 L437.2,249.9 L437.8,248.6 L438.5,247.4 L439.2,246.3 L439.8,245.4 L440.5,244.9 L441.2,244.7 L441.8,244.9 L442.5,245.4 L443.2,246.1 L443.8,247.0 L444.5,248.2 L445.2,249.4 L445.8,250.8 L446.5,252.3 L447.2,253.7 L447.8,255.2 L448.5,256.7 L449.2,258.2 L449.8,259.6 L450.5,261.0 L451.1,262.4 L451.8,263.7 L452.5,264.9 L453.1,266.1 L453.8,267.2 L454.5,268.3 L455.1,269.3 L455.8,270.5 L456.5,271.8 L457.1,273.2 L457.8,274.7 L458.5,276.3 L459.1,277.9 L459.8,279.6 L460.5,281.2 L461.1,282.8 L461.8,284.3 L462.5,285.8 L463.1,287.2 L463.8,288.5 L464.5,289.7 L465.1,290.9 L465.8,291.9 L466.5,292.8 L467.1,293.6 L467.8,294.3 L468.5,294.8 L469.1,295.2 L469.8,295.5 L470.4,295.5 L471.1,295.4 L471.8,295.2 L472.4,294.7 L473.1,294.2 L473.8,293.5 L474.4,292.7 L475.1,291.9 L475.8,291.0 L476.4,290.1 L477.1,289.2 L477.8,288.3 L478.4,287.4 L479.1,286.7 L479.8,286.1 L480.4,285.6 L481.1,285.5 L481.8,285.7 L482.4,286.0 L483.1,286.4 L483.8,286.5 L484.4,286.2 L485.1,285.5 L485.8,284.4 L486.4,283.2 L487.1,281.8 L487.8,280.4 L488.4,279.0 L489.1,277.8 L489.8,276.8 L490.4,276.1 L491.1,275.8 L491.7,275.7 L492.4,275.8 L493.1,276.0 L493.7,276.4 L494.4,276.7 L495.1,277.1 L495.7,277.4 L496.4,277.6 L497.1,277.6 L497.7,277.6 L498.4,277.3 L499.1,277.0 L499.7,276.4 L500.4,275.7 L501.1,274.7 L501.7,273.6 L502.4,272.2 L503.1,270.7 L503.7,268.9 L504.4,267.0 L505.1,264.8 L505.7,262.5 L506.4,260.0 L507.1,257.4 L507.7,254.7 L508.4,251.9 L509.1,249.2 L509.7,246.7 L510.4,244.5 L511.0,242.6 L511.7,241.2 L512.4,240.4 L513.0,240.1 L513.7,240.1 L514.4,240.3 L515.0,240.5 L515.7,240.7 L516.4,240.7 L517.0,240.6 L517.7,240.4 L518.4,240.1 L519.0,239.7 L519.7,239.2 L520.4,238.7 L521.0,238.1 L521.7,237.4 L522.4,236.6 L523.0,235.5 L523.7,234.1 L524.4,232.1 L525.0,229.6 L525.7,226.4 L526.4,222.5 L527.0,218.3 L527.7,214.3 L528.4,211.1 L529.0,208.6 L529.7,206.8 L530.3,205.3 L531.0,204.1 L531.7,203.0 L532.3,202.0 L533.0,200.9 L533.7,199.8 L534.3,198.5 L535.0,197.2 L535.7,195.8 L536.3,194.3 L537.0,192.8 L537.7,191.4 L538.3,190.3 L539.0,189.6 L539.7,189.4 L540.3,189.7 L541.0,190.3 L541.7,191.2 L542.3,192.0 L543.0,192.7 L543.7,193.1 L544.3,193.4 L545.0,193.6 L545.7,193.7 L546.3,193.9 L547.0,194.1 L547.7,194.5 L548.3,194.9 L549.0,195.7 L549.6,196.6 L550.3,197.6 L551.0,198.8 L551.6,200.0 L552.3,201.1 L553.0,202.1 L553.6,203.0 L554.3,203.6 L555.0,204.0 L555.6,204.0 L556.3,204.0 L557.0,203.9 L557.6,203.8 L558.3,203.7 L559.0,203.2 L559.6,202.0 L560.3,199.8 L561.0,196.8 L561.6,193.8 L562.3,191.0 L563.0,189.2 L563.6,188.6 L564.3,189.0 L565.0,190.5 L565.6,193.0 L566.3,196.1 L567.0,199.5 L567.6,203.0 L568.3,206.3 L569.0,209.1 L569.6,211.2 L570.3,212.4 L570.9,212.4 L571.6,211.0 L572.3,207.8 L572.9,203.0 L573.6,197.4 L574.3,192.1 L574.9,187.9 L575.6,184.6 L576.3,182.4 L576.9,181.1 L577.6,180.7 L578.3,181.2 L578.9,182.1 L579.6,183.4 L580.3,184.7 L580.9,186.0 L581.6,187.3 L582.3,188.7 L582.9,190.1 L583.6,191.5 L584.3,193.0 L584.9,194.5 L585.6,195.8 L586.3,197.0 L586.9,197.8 L587.6,198.3 L588.3,198.4 L588.9,198.0 L589.6,197.2 L590.2,196.1 L590.9,194.7 L591.6,193.2 L592.2,192.0 L592.9,191.4 L593.6,191.7 L594.2,192.8 L594.9,194.2 L595.6,195.4 L596.2,196.1 L596.9,196.3 L597.6,195.9 L598.2,195.1 L598.9,193.9 L599.6,192.4 L600.2,190.6 L600.9,188.5 L601.6,186.3 L602.2,184.0 L602.9,181.7 L603.6,179.5 L604.2,177.3 L604.9,175.4 L605.6,173.7 L606.2,172.3 L606.9,171.3 L607.6,170.7 L608.2,170.5 L608.9,170.8 L609.5,171.5 L610.2,172.6 L610.9,174.0 L611.5,175.5 L612.2,177.3 L612.9,179.0 L613.5,180.9 L614.2,182.6 L614.9,184.3 L615.5,185.8 L616.2,187.0 L616.9,188.0 L617.5,188.7 L618.2,189.0 L618.9,188.9 L619.5,188.4 L620.2,187.4 L620.9,185.9 L621.5,183.9 L622.2,181.4 L622.9,178.5 L623.5,175.4 L624.2,172.2 L624.9,168.9 L625.5,165.8 L626.2,163.0 L626.9,160.5 L627.5,158.5 L628.2,157.1 L628.9,156.4 L629.5,156.6 L630.2,157.5 L630.8,159.0 L631.5,161.1 L632.2,163.6 L632.8,166.5 L633.5,169.6 L634.2,172.8 L634.8,176.1 L635.5,179.3 L636.2,182.4 L636.8,185.3 L637.5,187.7 L638.2,189.7 L638.8,191.2 L639.5,192.0 L640.2,192.2 L640.8,191.5 L641.5,190.2 L642.2,188.1 L642.8,185.3 L643.5,181.9 L644.2,178.1 L644.8,174.0 L645.5,169.8 L646.2,165.5 L646.8,161.3 L647.5,157.4 L648.2,153.8 L648.8,150.8 L649.5,148.4 L650.1,146.7 L650.8,145.8 L651.5,145.6 L652.1,146.2 L652.8,147.5 L653.5,149.7 L654.1,152.6 L654.8,156.2 L655.5,160.3 L656.1,164.8 L656.8,169.6 L657.5,174.5 L658.1,179.2 L658.8,183.8 L659.5,188.0 L660.1,191.7 L660.8,195.0 L661.5,197.7 L662.1,199.9 L662.8,201.4 L663.5,202.2 L664.1,202.4 L664.8,201.8 L665.5,200.6 L666.1,199.1 L666.8,197.4 L667.5,195.6 L668.1,193.8 L668.8,192.0 L669.4,190.1 L670.1,188.2 L670.8,186.3 L671.4,184.3 L672.1,182.3 L672.8,180.2 L673.4,178.0 L674.1,175.7 L674.8,173.3 L675.4,170.9 L676.1,168.3 L676.8,165.8 L677.4,163.4 L678.1,161.1 L678.8,158.9 L679.4,157.0 L680.1,155.4 L680.8,154.2 L681.4,153.4 L682.1,153.3 L682.8,154.0 L683.4,155.4 L684.1,157.3 L684.8,159.4 L685.4,161.5 L686.1,163.6 L686.8,165.6 L687.4,167.5 L688.1,169.4 L688.7,171.3 L689.4,173.2 L690.1,175.2 L690.7,177.1 L691.4,179.0 L692.1,181.0 L692.7,182.9 L693.4,184.9 L694.1,186.8 L694.7,188.6 L695.4,190.4 L696.1,192.1 L696.7,193.7 L697.4,195.2 L698.1,196.6 L698.7,197.7 L699.4,198.7 L700.1,199.6 L700.7,200.2 L701.4,200.7 L702.1,200.9 L702.7,201.0 L703.4,201.0 L704.1,200.7 L704.7,200.3 L705.4,199.7 L706.1,198.9 L706.7,198.0 L707.4,196.8 L708.1,195.4 L708.7,193.9 L709.4,192.1 L710.0,190.1 L710.7,187.8 L711.4,185.4 L712.0,182.7 L712.7,180.0 L713.4,177.1 L714.0,174.3 L714.7,171.4 L715.4,168.6 L716.0,165.9 L716.7,163.3 L717.4,160.9 L718.0,158.8 L718.7,157.0 L719.4,155.6 L720.0,154.5 L720.7,153.9 L721.4,153.8 L722.0,154.0 L722.7,154.4 L723.4,154.9 L724.0,155.5 L724.7,156.0 L725.4,156.6 L726.0,157.5 L726.7,159.1 L727.4,161.6 L728.0,165.1 L728.7,169.0 L729.3,173.2 L730.0,177.3 L730.7,181.3 L731.3,185.3 L732.0,189.2 L732.7,193.1 L733.3,197.1 L734.0,201.1 L734.7,205.2 L735.3,209.3 L736.0,213.3 L736.7,217.3 L737.3,221.1 L738.0,224.3 L738.7,225.8 L739.3,224.6 L740.0,220.7 L740.7,214.7 L741.3,206.8 L742.0,197.8 L742.7,187.9 L743.3,177.7 L744.0,167.7 L744.7,158.3 L745.3,150.0 L746.0,145.5" fill="none" stroke="#00f" stroke-width="1.9" stroke-linejoin="round" />
<text x="443" y="32.6" textLength="69.5" lengthAdjust="spacingAndGlyphs">default values</text>
</g>
<rect x="410.5" y="25.75" width="348.1" height="363.25" fill="none" stroke="#303030" stroke-width="1.3"/>
<text x="421.3" y="9.2" text-anchor="middle">0</text><text x="484.0" y="9.2" text-anchor="middle" textLength="12.6" lengthAdjust="spacingAndGlyphs">10</text><text x="545.8" y="9.2" text-anchor="middle" textLength="12.6" lengthAdjust="spacingAndGlyphs">20</text><text x="609.4" y="9.2" text-anchor="middle" textLength="12.6" lengthAdjust="spacingAndGlyphs">30</text><text x="672.1" y="9.2" text-anchor="middle" textLength="12.6" lengthAdjust="spacingAndGlyphs">40</text><text x="734.8" y="9.2" text-anchor="middle" textLength="12.6" lengthAdjust="spacingAndGlyphs">50</text><text transform="translate(784.8,329.7) rotate(-90)" text-anchor="middle">1.5</text><text transform="translate(784.8,260.7) rotate(-90)" text-anchor="middle">2.0</text><text transform="translate(784.8,191.8) rotate(-90)" text-anchor="middle">2.5</text><text transform="translate(784.8,122.8) rotate(-90)" text-anchor="middle">3.0</text><text transform="translate(784.8,53.8) rotate(-90)" text-anchor="middle">3.5</text>
<path d="M421.3,25.75v-7.9M484.0,25.75v-7.9M546.7,25.75v-7.9M609.4,25.75v-7.9M672.1,25.75v-7.9M734.8,25.75v-7.9M758.6,329.7h7.9M758.6,260.7h7.9M758.6,191.8h7.9M758.6,122.8h7.9M758.6,53.8h7.9" stroke="#303030" stroke-width="1.3" fill="none"/>
<g clip-path="url(#cBL)">
<path d="M87.7,511.9l2.6-2.55l2.6,2.55l-2.6,2.55zM134.1,511.9l2.6-2.55l2.6,2.55l-2.6,2.55zM129.6,526.9l2.6-2.55l2.6,2.55l-2.6,2.55zM129.6,537.8l2.6-2.55l2.6,2.55l-2.6,2.55zM141.8,537.8l2.6-2.55l2.6,2.55l-2.6,2.55zM86.8,546.0l2.6-2.55l2.6,2.55l-2.6,2.55zM91.4,550.2l2.6-2.55l2.6,2.55l-2.6,2.55zM84.2,552.6l2.6-2.55l2.6,2.55l-2.6,2.55zM141.8,554.4l2.6-2.55l2.6,2.55l-2.6,2.55zM73.3,554.8l2.6-2.55l2.6,2.55l-2.6,2.55zM80.3,554.2l2.6-2.55l2.6,2.55l-2.6,2.55zM80.3,556.5l2.6-2.55l2.6,2.55l-2.6,2.55zM73.3,556.3l2.6-2.55l2.6,2.55l-2.6,2.55zM68.5,559.0l2.6-2.55l2.6,2.55l-2.6,2.55zM84.5,559.0l2.6-2.55l2.6,2.55l-2.6,2.55zM226.1,481.1l2.6-2.55l2.6,2.55l-2.6,2.55zM208.7,485.1l2.6-2.55l2.6,2.55l-2.6,2.55zM227.0,488.4l2.6-2.55l2.6,2.55l-2.6,2.55zM219.8,490.2l2.6-2.55l2.6,2.55l-2.6,2.55zM182.5,490.2l2.6-2.55l2.6,2.55l-2.6,2.55zM173.4,492.8l2.6-2.55l2.6,2.55l-2.6,2.55zM166.1,496.8l2.6-2.55l2.6,2.55l-2.6,2.55zM182.5,496.8l2.6-2.55l2.6,2.55l-2.6,2.55zM209.8,496.8l2.6-2.55l2.6,2.55l-2.6,2.55zM187.1,500.3l2.6-2.55l2.6,2.55l-2.6,2.55zM218.1,498.4l2.6-2.55l2.6,2.55l-2.6,2.55zM205.2,501.1l2.6-2.55l2.6,2.55l-2.6,2.55zM209.2,500.3l2.6-2.55l2.6,2.55l-2.6,2.55zM215.2,500.3l2.6-2.55l2.6,2.55l-2.6,2.55zM229.8,501.1l2.6-2.55l2.6,2.55l-2.6,2.55zM172.4,504.2l2.6-2.55l2.6,2.55l-2.6,2.55zM169.9,506.0l2.6-2.55l2.6,2.55l-2.6,2.55zM182.3,508.6l2.6-2.55l2.6,2.55l-2.6,2.55zM201.4,508.4l2.6-2.55l2.6,2.55l-2.6,2.55zM208.0,509.8l2.6-2.55l2.6,2.55l-2.6,2.55zM219.0,510.2l2.6-2.55l2.6,2.55l-2.6,2.55zM222.7,511.9l2.6-2.55l2.6,2.55l-2.6,2.55zM166.1,511.9l2.6-2.55l2.6,2.55l-2.6,2.55zM177.7,513.2l2.6-2.55l2.6,2.55l-2.6,2.55zM175.9,515.1l2.6-2.55l2.6,2.55l-2.6,2.55zM208.0,513.7l2.6-2.55l2.6,2.55l-2.6,2.55zM182.3,517.2l2.6-2.55l2.6,2.55l-2.6,2.55zM189.8,518.4l2.6-2.55l2.6,2.55l-2.6,2.55zM230.9,520.3l2.6-2.55l2.6,2.55l-2.6,2.55zM161.0,521.8l2.6-2.55l2.6,2.55l-2.6,2.55zM162.8,521.8l2.6-2.55l2.6,2.55l-2.6,2.55zM203.2,521.6l2.6-2.55l2.6,2.55l-2.6,2.55zM206.3,523.7l2.6-2.55l2.6,2.55l-2.6,2.55zM150.8,526.9l2.6-2.55l2.6,2.55l-2.6,2.55zM155.2,526.9l2.6-2.55l2.6,2.55l-2.6,2.55zM155.2,528.4l2.6-2.55l2.6,2.55l-2.6,2.55zM211.8,526.9l2.6-2.55l2.6,2.55l-2.6,2.55zM211.8,528.1l2.6-2.55l2.6,2.55l-2.6,2.55zM177.1,528.4l2.6-2.55l2.6,2.55l-2.6,2.55zM177.6,528.5l2.6-2.55l2.6,2.55l-2.6,2.55zM188.8,528.4l2.6-2.55l2.6,2.55l-2.6,2.55zM200.5,528.6l2.6-2.55l2.6,2.55l-2.6,2.55zM232.1,526.9l2.6-2.55l2.6,2.55l-2.6,2.55zM187.1,532.3l2.6-2.55l2.6,2.55l-2.6,2.55zM227.8,534.4l2.6-2.55l2.6,2.55l-2.6,2.55zM174.3,535.3l2.6-2.55l2.6,2.55l-2.6,2.55zM174.5,536.5l2.6-2.55l2.6,2.55l-2.6,2.55zM186.0,536.1l2.6-2.55l2.6,2.55l-2.6,2.55zM173.4,540.3l2.6-2.55l2.6,2.55l-2.6,2.55zM195.4,541.6l2.6-2.55l2.6,2.55l-2.6,2.55zM208.0,541.8l2.6-2.55l2.6,2.55l-2.6,2.55zM200.5,544.2l2.6-2.55l2.6,2.55l-2.6,2.55zM231.3,544.2l2.6-2.55l2.6,2.55l-2.6,2.55zM175.4,545.8l2.6-2.55l2.6,2.55l-2.6,2.55zM191.7,546.0l2.6-2.55l2.6,2.55l-2.6,2.55zM150.8,548.6l2.6-2.55l2.6,2.55l-2.6,2.55zM151.2,548.6l2.6-2.55l2.6,2.55l-2.6,2.55zM155.6,548.6l2.6-2.55l2.6,2.55l-2.6,2.55zM170.8,548.1l2.6-2.55l2.6,2.55l-2.6,2.55zM187.1,548.1l2.6-2.55l2.6,2.55l-2.6,2.55zM206.3,548.6l2.6-2.55l2.6,2.55l-2.6,2.55zM176.5,550.0l2.6-2.55l2.6,2.55l-2.6,2.55zM188.3,550.0l2.6-2.55l2.6,2.55l-2.6,2.55zM169.9,550.5l2.6-2.55l2.6,2.55l-2.6,2.55zM169.0,552.9l2.6-2.55l2.6,2.55l-2.6,2.55zM190.8,552.6l2.6-2.55l2.6,2.55l-2.6,2.55zM179.1,554.2l2.6-2.55l2.6,2.55l-2.6,2.55zM193.6,554.8l2.6-2.55l2.6,2.55l-2.6,2.55zM164.2,556.5l2.6-2.55l2.6,2.55l-2.6,2.55zM171.6,556.5l2.6-2.55l2.6,2.55l-2.6,2.55zM176.8,556.5l2.6-2.55l2.6,2.55l-2.6,2.55zM206.3,556.9l2.6-2.55l2.6,2.55l-2.6,2.55zM213.5,556.9l2.6-2.55l2.6,2.55l-2.6,2.55zM218.1,556.5l2.6-2.55l2.6,2.55l-2.6,2.55zM151.0,559.0l2.6-2.55l2.6,2.55l-2.6,2.55zM157.9,559.0l2.6-2.55l2.6,2.55l-2.6,2.55zM186.0,559.0l2.6-2.55l2.6,2.55l-2.6,2.55zM194.0,559.0l2.6-2.55l2.6,2.55l-2.6,2.55zM224.0,558.4l2.6-2.55l2.6,2.55l-2.6,2.55zM230.7,559.0l2.6-2.55l2.6,2.55l-2.6,2.55zM217.2,407.6l2.6-2.55l2.6,2.55l-2.6,2.55zM218.9,434.3l2.6-2.55l2.6,2.55l-2.6,2.55zM221.7,440.8l2.6-2.55l2.6,2.55l-2.6,2.55zM155.2,464.4l2.6-2.55l2.6,2.55l-2.6,2.55zM181.4,460.8l2.6-2.55l2.6,2.55l-2.6,2.55zM194.2,462.4l2.6-2.55l2.6,2.55l-2.6,2.55zM190.6,468.4l2.6-2.55l2.6,2.55l-2.6,2.55zM294.3,406.6l2.6-2.55l2.6,2.55l-2.6,2.55zM318.7,419.3l2.6-2.55l2.6,2.55l-2.6,2.55zM288.8,430.8l2.6-2.55l2.6,2.55l-2.6,2.55zM288.8,436.1l2.6-2.55l2.6,2.55l-2.6,2.55zM249.8,445.1l2.6-2.55l2.6,2.55l-2.6,2.55zM275.4,444.0l2.6-2.55l2.6,2.55l-2.6,2.55zM275.4,449.5l2.6-2.55l2.6,2.55l-2.6,2.55zM312.4,450.8l2.6-2.55l2.6,2.55l-2.6,2.55zM244.4,456.8l2.6-2.55l2.6,2.55l-2.6,2.55zM255.3,456.8l2.6-2.55l2.6,2.55l-2.6,2.55zM293.4,460.8l2.6-2.55l2.6,2.55l-2.6,2.55zM232.7,464.4l2.6-2.55l2.6,2.55l-2.6,2.55zM233.2,464.4l2.6-2.55l2.6,2.55l-2.6,2.55zM250.7,468.4l2.6-2.55l2.6,2.55l-2.6,2.55zM236.2,472.6l2.6-2.55l2.6,2.55l-2.6,2.55zM269.9,473.9l2.6-2.55l2.6,2.55l-2.6,2.55zM275.4,475.3l2.6-2.55l2.6,2.55l-2.6,2.55zM262.4,476.3l2.6-2.55l2.6,2.55l-2.6,2.55zM290.6,474.2l2.6-2.55l2.6,2.55l-2.6,2.55zM331.7,445.1l2.6-2.55l2.6,2.55l-2.6,2.55zM368.8,445.1l2.6-2.55l2.6,2.55l-2.6,2.55zM375.2,446.0l2.6-2.55l2.6,2.55l-2.6,2.55zM325.2,460.8l2.6-2.55l2.6,2.55l-2.6,2.55zM368.9,457.7l2.6-2.55l2.6,2.55l-2.6,2.55zM388.1,456.8l2.6-2.55l2.6,2.55l-2.6,2.55zM325.0,471.4l2.6-2.55l2.6,2.55l-2.6,2.55zM325.5,471.4l2.6-2.55l2.6,2.55l-2.6,2.55zM350.8,476.8l2.6-2.55l2.6,2.55l-2.6,2.55zM269.1,478.4l2.6-2.55l2.6,2.55l-2.6,2.55zM270.6,481.4l2.6-2.55l2.6,2.55l-2.6,2.55zM268.9,483.2l2.6-2.55l2.6,2.55l-2.6,2.55zM234.5,483.4l2.6-2.55l2.6,2.55l-2.6,2.55zM245.2,485.8l2.6-2.55l2.6,2.55l-2.6,2.55zM278.8,488.4l2.6-2.55l2.6,2.55l-2.6,2.55zM294.3,485.0l2.6-2.55l2.6,2.55l-2.6,2.55zM297.2,487.7l2.6-2.55l2.6,2.55l-2.6,2.55zM294.3,490.5l2.6-2.55l2.6,2.55l-2.6,2.55zM310.7,490.0l2.6-2.55l2.6,2.55l-2.6,2.55zM303.5,492.8l2.6-2.55l2.6,2.55l-2.6,2.55zM235.3,496.1l2.6-2.55l2.6,2.55l-2.6,2.55zM269.1,498.4l2.6-2.55l2.6,2.55l-2.6,2.55zM312.4,496.1l2.6-2.55l2.6,2.55l-2.6,2.55zM319.0,496.8l2.6-2.55l2.6,2.55l-2.6,2.55zM317.0,501.4l2.6-2.55l2.6,2.55l-2.6,2.55zM234.5,502.6l2.6-2.55l2.6,2.55l-2.6,2.55zM234.5,505.8l2.6-2.55l2.6,2.55l-2.6,2.55zM288.3,500.5l2.6-2.55l2.6,2.55l-2.6,2.55zM286.1,502.6l2.6-2.55l2.6,2.55l-2.6,2.55zM292.8,502.6l2.6-2.55l2.6,2.55l-2.6,2.55zM275.4,504.5l2.6-2.55l2.6,2.55l-2.6,2.55zM243.5,508.4l2.6-2.55l2.6,2.55l-2.6,2.55zM249.8,510.2l2.6-2.55l2.6,2.55l-2.6,2.55zM241.6,511.6l2.6-2.55l2.6,2.55l-2.6,2.55zM239.5,513.7l2.6-2.55l2.6,2.55l-2.6,2.55zM294.5,510.2l2.6-2.55l2.6,2.55l-2.6,2.55zM319.0,511.9l2.6-2.55l2.6,2.55l-2.6,2.55zM312.4,515.1l2.6-2.55l2.6,2.55l-2.6,2.55zM304.4,516.3l2.6-2.55l2.6,2.55l-2.6,2.55zM243.5,518.4l2.6-2.55l2.6,2.55l-2.6,2.55zM267.1,518.4l2.6-2.55l2.6,2.55l-2.6,2.55zM281.5,521.6l2.6-2.55l2.6,2.55l-2.6,2.55zM281.7,523.7l2.6-2.55l2.6,2.55l-2.6,2.55zM307.2,520.3l2.6-2.55l2.6,2.55l-2.6,2.55zM319.0,520.5l2.6-2.55l2.6,2.55l-2.6,2.55zM237.6,524.7l2.6-2.55l2.6,2.55l-2.6,2.55zM238.1,528.6l2.6-2.55l2.6,2.55l-2.6,2.55zM288.8,525.1l2.6-2.55l2.6,2.55l-2.6,2.55zM306.0,524.4l2.6-2.55l2.6,2.55l-2.6,2.55zM270.2,526.3l2.6-2.55l2.6,2.55l-2.6,2.55zM275.4,529.0l2.6-2.55l2.6,2.55l-2.6,2.55zM253.4,528.6l2.6-2.55l2.6,2.55l-2.6,2.55zM281.5,529.5l2.6-2.55l2.6,2.55l-2.6,2.55zM281.9,532.6l2.6-2.55l2.6,2.55l-2.6,2.55zM282.2,532.4l2.6-2.55l2.6,2.55l-2.6,2.55zM299.5,528.2l2.6-2.55l2.6,2.55l-2.6,2.55zM297.8,530.0l2.6-2.55l2.6,2.55l-2.6,2.55zM294.3,532.6l2.6-2.55l2.6,2.55l-2.6,2.55zM306.3,528.6l2.6-2.55l2.6,2.55l-2.6,2.55zM319.0,528.4l2.6-2.55l2.6,2.55l-2.6,2.55zM311.5,532.3l2.6-2.55l2.6,2.55l-2.6,2.55zM311.9,532.6l2.6-2.55l2.6,2.55l-2.6,2.55zM302.6,533.9l2.6-2.55l2.6,2.55l-2.6,2.55zM319.2,532.6l2.6-2.55l2.6,2.55l-2.6,2.55zM248.1,534.4l2.6-2.55l2.6,2.55l-2.6,2.55zM238.9,535.8l2.6-2.55l2.6,2.55l-2.6,2.55zM269.1,535.6l2.6-2.55l2.6,2.55l-2.6,2.55zM272.5,537.9l2.6-2.55l2.6,2.55l-2.6,2.55zM284.3,537.7l2.6-2.55l2.6,2.55l-2.6,2.55zM249.8,541.4l2.6-2.55l2.6,2.55l-2.6,2.55zM246.2,546.0l2.6-2.55l2.6,2.55l-2.6,2.55zM317.2,544.2l2.6-2.55l2.6,2.55l-2.6,2.55zM259.0,548.8l2.6-2.55l2.6,2.55l-2.6,2.55zM255.9,552.3l2.6-2.55l2.6,2.55l-2.6,2.55zM281.7,548.6l2.6-2.55l2.6,2.55l-2.6,2.55zM288.2,548.6l2.6-2.55l2.6,2.55l-2.6,2.55zM275.4,554.2l2.6-2.55l2.6,2.55l-2.6,2.55zM296.3,554.2l2.6-2.55l2.6,2.55l-2.6,2.55zM313.8,554.2l2.6-2.55l2.6,2.55l-2.6,2.55zM238.1,554.2l2.6-2.55l2.6,2.55l-2.6,2.55zM278.8,556.9l2.6-2.55l2.6,2.55l-2.6,2.55zM281.7,556.9l2.6-2.55l2.6,2.55l-2.6,2.55zM288.2,556.9l2.6-2.55l2.6,2.55l-2.6,2.55zM235.3,559.0l2.6-2.55l2.6,2.55l-2.6,2.55zM312.7,559.0l2.6-2.55l2.6,2.55l-2.6,2.55zM319.2,559.0l2.6-2.55l2.6,2.55l-2.6,2.55zM362.5,480.0l2.6-2.55l2.6,2.55l-2.6,2.55zM325.2,482.6l2.6-2.55l2.6,2.55l-2.6,2.55zM344.5,482.6l2.6-2.55l2.6,2.55l-2.6,2.55zM325.2,490.2l2.6-2.55l2.6,2.55l-2.6,2.55zM331.7,496.1l2.6-2.55l2.6,2.55l-2.6,2.55zM350.8,496.1l2.6-2.55l2.6,2.55l-2.6,2.55zM325.2,500.3l2.6-2.55l2.6,2.55l-2.6,2.55zM331.7,504.5l2.6-2.55l2.6,2.55l-2.6,2.55zM350.8,511.9l2.6-2.55l2.6,2.55l-2.6,2.55zM337.9,515.1l2.6-2.55l2.6,2.55l-2.6,2.55zM368.9,515.1l2.6-2.55l2.6,2.55l-2.6,2.55zM388.1,518.4l2.6-2.55l2.6,2.55l-2.6,2.55zM331.7,520.0l2.6-2.55l2.6,2.55l-2.6,2.55zM350.8,523.5l2.6-2.55l2.6,2.55l-2.6,2.55zM344.5,526.6l2.6-2.55l2.6,2.55l-2.6,2.55zM356.2,526.9l2.6-2.55l2.6,2.55l-2.6,2.55zM375.2,530.3l2.6-2.55l2.6,2.55l-2.6,2.55zM323.5,532.6l2.6-2.55l2.6,2.55l-2.6,2.55zM344.5,534.4l2.6-2.55l2.6,2.55l-2.6,2.55zM344.3,540.3l2.6-2.55l2.6,2.55l-2.6,2.55zM325.2,540.5l2.6-2.55l2.6,2.55l-2.6,2.55zM325.2,541.6l2.6-2.55l2.6,2.55l-2.6,2.55zM368.9,545.3l2.6-2.55l2.6,2.55l-2.6,2.55zM344.3,548.6l2.6-2.55l2.6,2.55l-2.6,2.55zM350.8,548.6l2.6-2.55l2.6,2.55l-2.6,2.55zM381.8,550.2l2.6-2.55l2.6,2.55l-2.6,2.55zM350.8,554.5l2.6-2.55l2.6,2.55l-2.6,2.55zM344.3,559.0l2.6-2.55l2.6,2.55l-2.6,2.55zM362.5,571.3l2.6-2.55l2.6,2.55l-2.6,2.55zM344.3,571.1l2.6-2.55l2.6,2.55l-2.6,2.55zM344.3,573.7l2.6-2.55l2.6,2.55l-2.6,2.55zM337.9,573.7l2.6-2.55l2.6,2.55l-2.6,2.55zM331.7,582.1l2.6-2.55l2.6,2.55l-2.6,2.55zM344.5,582.3l2.6-2.55l2.6,2.55l-2.6,2.55zM375.2,584.8l2.6-2.55l2.6,2.55l-2.6,2.55zM313.0,584.8l2.6-2.55l2.6,2.55l-2.6,2.55zM315.3,588.2l2.6-2.55l2.6,2.55l-2.6,2.55zM318.9,590.8l2.6-2.55l2.6,2.55l-2.6,2.55zM375.2,593.9l2.6-2.55l2.6,2.55l-2.6,2.55zM331.7,596.5l2.6-2.55l2.6,2.55l-2.6,2.55zM325.2,603.0l2.6-2.55l2.6,2.55l-2.6,2.55zM325.2,606.3l2.6-2.55l2.6,2.55l-2.6,2.55zM344.5,609.7l2.6-2.55l2.6,2.55l-2.6,2.55zM356.2,616.5l2.6-2.55l2.6,2.55l-2.6,2.55zM344.5,623.9l2.6-2.55l2.6,2.55l-2.6,2.55zM238.1,560.0l2.6-2.55l2.6,2.55l-2.6,2.55zM288.2,560.0l2.6-2.55l2.6,2.55l-2.6,2.55zM288.8,563.7l2.6-2.55l2.6,2.55l-2.6,2.55zM248.8,568.4l2.6-2.55l2.6,2.55l-2.6,2.55zM248.8,571.3l2.6-2.55l2.6,2.55l-2.6,2.55zM257.0,571.3l2.6-2.55l2.6,2.55l-2.6,2.55zM261.9,571.3l2.6-2.55l2.6,2.55l-2.6,2.55zM281.7,568.6l2.6-2.55l2.6,2.55l-2.6,2.55zM301.5,571.3l2.6-2.55l2.6,2.55l-2.6,2.55zM306.3,573.7l2.6-2.55l2.6,2.55l-2.6,2.55zM280.6,576.3l2.6-2.55l2.6,2.55l-2.6,2.55zM292.6,579.7l2.6-2.55l2.6,2.55l-2.6,2.55zM305.4,579.7l2.6-2.55l2.6,2.55l-2.6,2.55zM275.4,582.3l2.6-2.55l2.6,2.55l-2.6,2.55zM233.0,582.3l2.6-2.55l2.6,2.55l-2.6,2.55zM243.5,582.1l2.6-2.55l2.6,2.55l-2.6,2.55zM238.7,585.0l2.6-2.55l2.6,2.55l-2.6,2.55zM232.4,587.9l2.6-2.55l2.6,2.55l-2.6,2.55zM304.6,588.1l2.6-2.55l2.6,2.55l-2.6,2.55zM305.1,588.1l2.6-2.55l2.6,2.55l-2.6,2.55zM239.9,596.3l2.6-2.55l2.6,2.55l-2.6,2.55zM237.0,599.8l2.6-2.55l2.6,2.55l-2.6,2.55zM252.5,596.5l2.6-2.55l2.6,2.55l-2.6,2.55zM262.4,599.8l2.6-2.55l2.6,2.55l-2.6,2.55zM236.1,606.3l2.6-2.55l2.6,2.55l-2.6,2.55zM277.9,606.3l2.6-2.55l2.6,2.55l-2.6,2.55zM306.3,606.3l2.6-2.55l2.6,2.55l-2.6,2.55zM306.3,613.2l2.6-2.55l2.6,2.55l-2.6,2.55zM243.6,616.5l2.6-2.55l2.6,2.55l-2.6,2.55zM244.1,616.5l2.6-2.55l2.6,2.55l-2.6,2.55zM233.3,623.9l2.6-2.55l2.6,2.55l-2.6,2.55zM233.8,623.9l2.6-2.55l2.6,2.55l-2.6,2.55zM239.9,628.2l2.6-2.55l2.6,2.55l-2.6,2.55zM198.0,563.7l2.6-2.55l2.6,2.55l-2.6,2.55zM143.0,563.2l2.6-2.55l2.6,2.55l-2.6,2.55zM154.4,565.8l2.6-2.55l2.6,2.55l-2.6,2.55zM157.9,565.8l2.6-2.55l2.6,2.55l-2.6,2.55zM151.0,569.0l2.6-2.55l2.6,2.55l-2.6,2.55zM166.1,564.2l2.6-2.55l2.6,2.55l-2.6,2.55zM170.5,564.2l2.6-2.55l2.6,2.55l-2.6,2.55zM175.1,566.0l2.6-2.55l2.6,2.55l-2.6,2.55zM169.9,569.0l2.6-2.55l2.6,2.55l-2.6,2.55zM172.8,571.1l2.6-2.55l2.6,2.55l-2.6,2.55zM169.6,573.7l2.6-2.55l2.6,2.55l-2.6,2.55zM161.7,571.1l2.6-2.55l2.6,2.55l-2.6,2.55zM188.8,571.1l2.6-2.55l2.6,2.55l-2.6,2.55zM195.4,571.1l2.6-2.55l2.6,2.55l-2.6,2.55zM222.7,568.6l2.6-2.55l2.6,2.55l-2.6,2.55zM216.9,568.2l2.6-2.55l2.6,2.55l-2.6,2.55zM226.1,561.6l2.6-2.55l2.6,2.55l-2.6,2.55zM229.5,562.1l2.6-2.55l2.6,2.55l-2.6,2.55zM154.4,576.3l2.6-2.55l2.6,2.55l-2.6,2.55zM147.6,579.5l2.6-2.55l2.6,2.55l-2.6,2.55zM159.8,579.5l2.6-2.55l2.6,2.55l-2.6,2.55zM144.7,582.3l2.6-2.55l2.6,2.55l-2.6,2.55zM149.9,582.3l2.6-2.55l2.6,2.55l-2.6,2.55zM154.4,582.3l2.6-2.55l2.6,2.55l-2.6,2.55zM156.7,583.7l2.6-2.55l2.6,2.55l-2.6,2.55zM153.5,585.3l2.6-2.55l2.6,2.55l-2.6,2.55zM167.0,582.1l2.6-2.55l2.6,2.55l-2.6,2.55zM163.6,584.8l2.6-2.55l2.6,2.55l-2.6,2.55zM167.0,584.8l2.6-2.55l2.6,2.55l-2.6,2.55zM147.9,587.9l2.6-2.55l2.6,2.55l-2.6,2.55zM153.5,587.9l2.6-2.55l2.6,2.55l-2.6,2.55zM175.1,584.4l2.6-2.55l2.6,2.55l-2.6,2.55zM179.9,584.8l2.6-2.55l2.6,2.55l-2.6,2.55zM188.8,584.8l2.6-2.55l2.6,2.55l-2.6,2.55zM196.3,579.5l2.6-2.55l2.6,2.55l-2.6,2.55zM199.7,582.3l2.6-2.55l2.6,2.55l-2.6,2.55zM214.4,581.6l2.6-2.55l2.6,2.55l-2.6,2.55zM220.7,582.1l2.6-2.55l2.6,2.55l-2.6,2.55zM211.5,585.0l2.6-2.55l2.6,2.55l-2.6,2.55zM215.4,585.0l2.6-2.55l2.6,2.55l-2.6,2.55zM224.4,587.9l2.6-2.55l2.6,2.55l-2.6,2.55zM203.2,590.5l2.6-2.55l2.6,2.55l-2.6,2.55zM145.8,593.2l2.6-2.55l2.6,2.55l-2.6,2.55zM152.7,593.9l2.6-2.55l2.6,2.55l-2.6,2.55zM147.0,596.7l2.6-2.55l2.6,2.55l-2.6,2.55zM157.1,596.3l2.6-2.55l2.6,2.55l-2.6,2.55zM144.5,599.8l2.6-2.55l2.6,2.55l-2.6,2.55zM151.0,596.9l2.6-2.55l2.6,2.55l-2.6,2.55zM182.5,593.5l2.6-2.55l2.6,2.55l-2.6,2.55zM186.2,596.5l2.6-2.55l2.6,2.55l-2.6,2.55zM182.5,599.8l2.6-2.55l2.6,2.55l-2.6,2.55zM176.0,599.8l2.6-2.55l2.6,2.55l-2.6,2.55zM171.6,599.8l2.6-2.55l2.6,2.55l-2.6,2.55zM166.1,599.8l2.6-2.55l2.6,2.55l-2.6,2.55zM201.4,596.3l2.6-2.55l2.6,2.55l-2.6,2.55zM204.3,599.8l2.6-2.55l2.6,2.55l-2.6,2.55zM203.2,600.0l2.6-2.55l2.6,2.55l-2.6,2.55zM208.1,603.2l2.6-2.55l2.6,2.55l-2.6,2.55zM216.3,593.9l2.6-2.55l2.6,2.55l-2.6,2.55zM219.8,596.5l2.6-2.55l2.6,2.55l-2.6,2.55zM229.0,596.5l2.6-2.55l2.6,2.55l-2.6,2.55zM165.3,603.2l2.6-2.55l2.6,2.55l-2.6,2.55zM155.0,606.0l2.6-2.55l2.6,2.55l-2.6,2.55zM166.1,606.3l2.6-2.55l2.6,2.55l-2.6,2.55zM152.7,609.5l2.6-2.55l2.6,2.55l-2.6,2.55zM157.0,609.5l2.6-2.55l2.6,2.55l-2.6,2.55zM161.7,609.5l2.6-2.55l2.6,2.55l-2.6,2.55zM164.2,609.7l2.6-2.55l2.6,2.55l-2.6,2.55zM166.1,613.2l2.6-2.55l2.6,2.55l-2.6,2.55zM162.5,616.5l2.6-2.55l2.6,2.55l-2.6,2.55zM157.3,616.5l2.6-2.55l2.6,2.55l-2.6,2.55zM157.5,616.7l2.6-2.55l2.6,2.55l-2.6,2.55zM148.7,616.5l2.6-2.55l2.6,2.55l-2.6,2.55zM173.4,616.5l2.6-2.55l2.6,2.55l-2.6,2.55zM179.1,616.5l2.6-2.55l2.6,2.55l-2.6,2.55zM185.4,616.5l2.6-2.55l2.6,2.55l-2.6,2.55zM176.0,620.8l2.6-2.55l2.6,2.55l-2.6,2.55zM143.0,612.7l2.6-2.55l2.6,2.55l-2.6,2.55zM143.5,616.9l2.6-2.55l2.6,2.55l-2.6,2.55zM143.8,617.1l2.6-2.55l2.6,2.55l-2.6,2.55zM144.1,620.5l2.6-2.55l2.6,2.55l-2.6,2.55zM144.3,620.8l2.6-2.55l2.6,2.55l-2.6,2.55zM149.3,620.8l2.6-2.55l2.6,2.55l-2.6,2.55zM152.7,620.8l2.6-2.55l2.6,2.55l-2.6,2.55zM156.7,620.8l2.6-2.55l2.6,2.55l-2.6,2.55zM155.0,624.0l2.6-2.55l2.6,2.55l-2.6,2.55zM163.0,623.7l2.6-2.55l2.6,2.55l-2.6,2.55zM164.0,623.7l2.6-2.55l2.6,2.55l-2.6,2.55zM166.1,628.4l2.6-2.55l2.6,2.55l-2.6,2.55zM169.9,628.4l2.6-2.55l2.6,2.55l-2.6,2.55zM177.1,627.9l2.6-2.55l2.6,2.55l-2.6,2.55zM148.7,627.9l2.6-2.55l2.6,2.55l-2.6,2.55zM149.0,628.4l2.6-2.55l2.6,2.55l-2.6,2.55zM149.3,631.6l2.6-2.55l2.6,2.55l-2.6,2.55zM145.8,631.6l2.6-2.55l2.6,2.55l-2.6,2.55zM152.7,631.6l2.6-2.55l2.6,2.55l-2.6,2.55zM157.9,631.6l2.6-2.55l2.6,2.55l-2.6,2.55zM147.9,635.3l2.6-2.55l2.6,2.55l-2.6,2.55zM148.6,635.4l2.6-2.55l2.6,2.55l-2.6,2.55zM164.2,635.3l2.6-2.55l2.6,2.55l-2.6,2.55zM169.0,640.6l2.6-2.55l2.6,2.55l-2.6,2.55zM215.4,631.6l2.6-2.55l2.6,2.55l-2.6,2.55zM155.2,644.8l2.6-2.55l2.6,2.55l-2.6,2.55zM160.7,644.8l2.6-2.55l2.6,2.55l-2.6,2.55zM144.1,644.8l2.6-2.55l2.6,2.55l-2.6,2.55zM148.1,649.0l2.6-2.55l2.6,2.55l-2.6,2.55zM150.2,649.2l2.6-2.55l2.6,2.55l-2.6,2.55zM143.0,649.0l2.6-2.55l2.6,2.55l-2.6,2.55zM149.6,653.7l2.6-2.55l2.6,2.55l-2.6,2.55zM142.4,653.7l2.6-2.55l2.6,2.55l-2.6,2.55zM143.5,659.2l2.6-2.55l2.6,2.55l-2.6,2.55zM149.3,659.2l2.6-2.55l2.6,2.55l-2.6,2.55zM152.1,659.2l2.6-2.55l2.6,2.55l-2.6,2.55zM156.4,659.2l2.6-2.55l2.6,2.55l-2.6,2.55zM194.2,649.2l2.6-2.55l2.6,2.55l-2.6,2.55zM230.5,659.2l2.6-2.55l2.6,2.55l-2.6,2.55zM145.3,674.8l2.6-2.55l2.6,2.55l-2.6,2.55zM159.8,680.6l2.6-2.55l2.6,2.55l-2.6,2.55zM150.7,687.6l2.6-2.55l2.6,2.55l-2.6,2.55zM145.3,700.8l2.6-2.55l2.6,2.55l-2.6,2.55zM212.6,680.6l2.6-2.55l2.6,2.55l-2.6,2.55zM212.6,687.6l2.6-2.55l2.6,2.55l-2.6,2.55zM220.7,687.6l2.6-2.55l2.6,2.55l-2.6,2.55zM167.9,715.8l2.6-2.55l2.6,2.55l-2.6,2.55zM234.5,653.9l2.6-2.55l2.6,2.55l-2.6,2.55zM268.9,651.6l2.6-2.55l2.6,2.55l-2.6,2.55zM286.3,659.2l2.6-2.55l2.6,2.55l-2.6,2.55zM289.7,670.0l2.6-2.55l2.6,2.55l-2.6,2.55zM312.4,680.8l2.6-2.55l2.6,2.55l-2.6,2.55zM350.8,653.9l2.6-2.55l2.6,2.55l-2.6,2.55zM381.8,659.2l2.6-2.55l2.6,2.55l-2.6,2.55zM381.8,680.8l2.6-2.55l2.6,2.55l-2.6,2.55zM67.9,644.8l2.6-2.55l2.6,2.55l-2.6,2.55zM86.8,644.8l2.6-2.55l2.6,2.55l-2.6,2.55zM94.8,644.8l2.6-2.55l2.6,2.55l-2.6,2.55zM103.1,644.8l2.6-2.55l2.6,2.55l-2.6,2.55zM103.8,644.8l2.6-2.55l2.6,2.55l-2.6,2.55zM114.7,644.8l2.6-2.55l2.6,2.55l-2.6,2.55zM115.1,644.8l2.6-2.55l2.6,2.55l-2.6,2.55zM126.3,644.8l2.6-2.55l2.6,2.55l-2.6,2.55zM131.5,644.8l2.6-2.55l2.6,2.55l-2.6,2.55zM137.8,644.8l2.6-2.55l2.6,2.55l-2.6,2.55zM141.3,644.8l2.6-2.55l2.6,2.55l-2.6,2.55zM67.9,649.2l2.6-2.55l2.6,2.55l-2.6,2.55zM73.6,649.2l2.6-2.55l2.6,2.55l-2.6,2.55zM79.9,649.2l2.6-2.55l2.6,2.55l-2.6,2.55zM86.2,649.2l2.6-2.55l2.6,2.55l-2.6,2.55zM90.8,649.2l2.6-2.55l2.6,2.55l-2.6,2.55zM93.1,649.2l2.6-2.55l2.6,2.55l-2.6,2.55zM97.7,649.2l2.6-2.55l2.6,2.55l-2.6,2.55zM107.2,649.2l2.6-2.55l2.6,2.55l-2.6,2.55zM114.3,649.2l2.6-2.55l2.6,2.55l-2.6,2.55zM116.6,649.2l2.6-2.55l2.6,2.55l-2.6,2.55zM126.3,649.2l2.6-2.55l2.6,2.55l-2.6,2.55zM132.7,649.2l2.6-2.55l2.6,2.55l-2.6,2.55zM137.8,649.2l2.6-2.55l2.6,2.55l-2.6,2.55zM89.7,653.9l2.6-2.55l2.6,2.55l-2.6,2.55zM93.7,653.9l2.6-2.55l2.6,2.55l-2.6,2.55zM100.9,653.9l2.6-2.55l2.6,2.55l-2.6,2.55zM101.4,653.9l2.6-2.55l2.6,2.55l-2.6,2.55zM106.3,653.9l2.6-2.55l2.6,2.55l-2.6,2.55zM112.0,653.9l2.6-2.55l2.6,2.55l-2.6,2.55zM120.0,653.9l2.6-2.55l2.6,2.55l-2.6,2.55zM122.7,653.9l2.6-2.55l2.6,2.55l-2.6,2.55zM123.1,653.9l2.6-2.55l2.6,2.55l-2.6,2.55zM123.5,653.9l2.6-2.55l2.6,2.55l-2.6,2.55zM125.8,653.9l2.6-2.55l2.6,2.55l-2.6,2.55zM131.5,653.9l2.6-2.55l2.6,2.55l-2.6,2.55zM136.1,653.9l2.6-2.55l2.6,2.55l-2.6,2.55zM68.7,659.2l2.6-2.55l2.6,2.55l-2.6,2.55zM109.4,659.0l2.6-2.55l2.6,2.55l-2.6,2.55zM111.4,659.0l2.6-2.55l2.6,2.55l-2.6,2.55zM115.5,659.0l2.6-2.55l2.6,2.55l-2.6,2.55zM123.3,659.0l2.6-2.55l2.6,2.55l-2.6,2.55zM126.9,659.0l2.6-2.55l2.6,2.55l-2.6,2.55zM134.9,659.0l2.6-2.55l2.6,2.55l-2.6,2.55zM141.3,659.0l2.6-2.55l2.6,2.55l-2.6,2.55zM105.1,664.0l2.6-2.55l2.6,2.55l-2.6,2.55zM118.9,664.0l2.6-2.55l2.6,2.55l-2.6,2.55zM126.9,664.0l2.6-2.55l2.6,2.55l-2.6,2.55zM132.4,664.0l2.6-2.55l2.6,2.55l-2.6,2.55zM132.9,664.0l2.6-2.55l2.6,2.55l-2.6,2.55zM109.8,669.8l2.6-2.55l2.6,2.55l-2.6,2.55zM110.3,669.8l2.6-2.55l2.6,2.55l-2.6,2.55zM117.2,669.8l2.6-2.55l2.6,2.55l-2.6,2.55zM120.0,669.8l2.6-2.55l2.6,2.55l-2.6,2.55zM124.4,669.8l2.6-2.55l2.6,2.55l-2.6,2.55zM96.9,674.8l2.6-2.55l2.6,2.55l-2.6,2.55zM114.9,674.8l2.6-2.55l2.6,2.55l-2.6,2.55zM118.1,674.8l2.6-2.55l2.6,2.55l-2.6,2.55zM118.6,674.8l2.6-2.55l2.6,2.55l-2.6,2.55zM126.9,674.8l2.6-2.55l2.6,2.55l-2.6,2.55zM137.8,674.8l2.6-2.55l2.6,2.55l-2.6,2.55zM106.9,680.8l2.6-2.55l2.6,2.55l-2.6,2.55zM109.4,680.8l2.6-2.55l2.6,2.55l-2.6,2.55zM114.3,680.8l2.6-2.55l2.6,2.55l-2.6,2.55zM120.6,680.8l2.6-2.55l2.6,2.55l-2.6,2.55zM126.9,680.8l2.6-2.55l2.6,2.55l-2.6,2.55zM136.1,680.8l2.6-2.55l2.6,2.55l-2.6,2.55zM102.5,687.6l2.6-2.55l2.6,2.55l-2.6,2.55zM120.6,687.6l2.6-2.55l2.6,2.55l-2.6,2.55zM126.1,687.6l2.6-2.55l2.6,2.55l-2.6,2.55zM140.5,687.6l2.6-2.55l2.6,2.55l-2.6,2.55zM139.5,707.4l2.6-2.55l2.6,2.55l-2.6,2.55zM102.4,571.3l2.6-2.55l2.6,2.55l-2.6,2.55zM121.5,568.9l2.6-2.55l2.6,2.55l-2.6,2.55zM125.2,566.1l2.6-2.55l2.6,2.55l-2.6,2.55zM132.1,568.4l2.6-2.55l2.6,2.55l-2.6,2.55zM135.5,568.7l2.6-2.55l2.6,2.55l-2.6,2.55zM134.1,571.3l2.6-2.55l2.6,2.55l-2.6,2.55zM136.1,574.0l2.6-2.55l2.6,2.55l-2.6,2.55zM140.7,574.0l2.6-2.55l2.6,2.55l-2.6,2.55zM98.0,582.1l2.6-2.55l2.6,2.55l-2.6,2.55zM103.4,584.6l2.6-2.55l2.6,2.55l-2.6,2.55zM99.1,585.3l2.6-2.55l2.6,2.55l-2.6,2.55zM126.1,587.9l2.6-2.55l2.6,2.55l-2.6,2.55zM125.2,593.2l2.6-2.55l2.6,2.55l-2.6,2.55zM125.1,596.2l2.6-2.55l2.6,2.55l-2.6,2.55zM125.3,596.4l2.6-2.55l2.6,2.55l-2.6,2.55zM125.2,600.0l2.6-2.55l2.6,2.55l-2.6,2.55zM137.5,584.5l2.6-2.55l2.6,2.55l-2.6,2.55zM139.8,584.5l2.6-2.55l2.6,2.55l-2.6,2.55zM141.5,583.2l2.6-2.55l2.6,2.55l-2.6,2.55zM139.2,587.9l2.6-2.55l2.6,2.55l-2.6,2.55zM136.1,590.5l2.6-2.55l2.6,2.55l-2.6,2.55zM135.2,594.2l2.6-2.55l2.6,2.55l-2.6,2.55zM100.7,590.5l2.6-2.55l2.6,2.55l-2.6,2.55zM101.0,590.5l2.6-2.55l2.6,2.55l-2.6,2.55zM98.5,589.5l2.6-2.55l2.6,2.55l-2.6,2.55zM108.0,596.3l2.6-2.55l2.6,2.55l-2.6,2.55zM108.0,600.0l2.6-2.55l2.6,2.55l-2.6,2.55zM99.1,596.3l2.6-2.55l2.6,2.55l-2.6,2.55zM101.4,600.0l2.6-2.55l2.6,2.55l-2.6,2.55zM139.2,599.5l2.6-2.55l2.6,2.55l-2.6,2.55zM142.0,597.9l2.6-2.55l2.6,2.55l-2.6,2.55zM142.2,598.0l2.6-2.55l2.6,2.55l-2.6,2.55zM71.9,563.3l2.6-2.55l2.6,2.55l-2.6,2.55zM74.2,561.9l2.6-2.55l2.6,2.55l-2.6,2.55zM70.8,568.7l2.6-2.55l2.6,2.55l-2.6,2.55zM71.0,568.7l2.6-2.55l2.6,2.55l-2.6,2.55zM92.6,566.1l2.6-2.55l2.6,2.55l-2.6,2.55zM80.6,566.1l2.6-2.55l2.6,2.55l-2.6,2.55zM80.8,568.7l2.6-2.55l2.6,2.55l-2.6,2.55zM81.1,568.9l2.6-2.55l2.6,2.55l-2.6,2.55zM87.0,571.5l2.6-2.55l2.6,2.55l-2.6,2.55zM73.2,573.6l2.6-2.55l2.6,2.55l-2.6,2.55zM75.2,573.8l2.6-2.55l2.6,2.55l-2.6,2.55zM77.0,574.1l2.6-2.55l2.6,2.55l-2.6,2.55zM81.6,573.8l2.6-2.55l2.6,2.55l-2.6,2.55zM72.2,576.6l2.6-2.55l2.6,2.55l-2.6,2.55zM77.0,577.1l2.6-2.55l2.6,2.55l-2.6,2.55zM93.1,573.6l2.6-2.55l2.6,2.55l-2.6,2.55zM91.5,575.9l2.6-2.55l2.6,2.55l-2.6,2.55zM90.0,576.4l2.6-2.55l2.6,2.55l-2.6,2.55zM82.9,579.7l2.6-2.55l2.6,2.55l-2.6,2.55zM84.9,579.7l2.6-2.55l2.6,2.55l-2.6,2.55zM69.1,582.0l2.6-2.55l2.6,2.55l-2.6,2.55zM70.4,583.4l2.6-2.55l2.6,2.55l-2.6,2.55zM72.2,582.0l2.6-2.55l2.6,2.55l-2.6,2.55zM70.6,585.3l2.6-2.55l2.6,2.55l-2.6,2.55zM80.3,584.3l2.6-2.55l2.6,2.55l-2.6,2.55zM84.4,583.9l2.6-2.55l2.6,2.55l-2.6,2.55zM89.0,582.0l2.6-2.55l2.6,2.55l-2.6,2.55zM93.1,582.2l2.6-2.55l2.6,2.55l-2.6,2.55zM78.8,588.1l2.6-2.55l2.6,2.55l-2.6,2.55zM81.6,588.1l2.6-2.55l2.6,2.55l-2.6,2.55zM86.7,588.1l2.6-2.55l2.6,2.55l-2.6,2.55zM66.3,590.4l2.6-2.55l2.6,2.55l-2.6,2.55zM70.1,590.9l2.6-2.55l2.6,2.55l-2.6,2.55zM71.7,592.8l2.6-2.55l2.6,2.55l-2.6,2.55zM74.2,594.2l2.6-2.55l2.6,2.55l-2.6,2.55zM72.7,595.6l2.6-2.55l2.6,2.55l-2.6,2.55zM81.9,593.7l2.6-2.55l2.6,2.55l-2.6,2.55zM83.9,594.6l2.6-2.55l2.6,2.55l-2.6,2.55zM85.9,592.8l2.6-2.55l2.6,2.55l-2.6,2.55zM92.6,590.4l2.6-2.55l2.6,2.55l-2.6,2.55zM95.1,589.0l2.6-2.55l2.6,2.55l-2.6,2.55zM96.6,592.8l2.6-2.55l2.6,2.55l-2.6,2.55zM90.0,594.2l2.6-2.55l2.6,2.55l-2.6,2.55zM94.1,595.6l2.6-2.55l2.6,2.55l-2.6,2.55zM65.0,596.0l2.6-2.55l2.6,2.55l-2.6,2.55zM100.8,602.9l2.6-2.55l2.6,2.55l-2.6,2.55zM102.8,606.3l2.6-2.55l2.6,2.55l-2.6,2.55zM105.1,609.8l2.6-2.55l2.6,2.55l-2.6,2.55zM111.2,613.2l2.6-2.55l2.6,2.55l-2.6,2.55zM108.9,616.3l2.6-2.55l2.6,2.55l-2.6,2.55zM101.7,620.5l2.6-2.55l2.6,2.55l-2.6,2.55zM100.0,624.0l2.6-2.55l2.6,2.55l-2.6,2.55zM115.7,604.8l2.6-2.55l2.6,2.55l-2.6,2.55zM118.3,603.7l2.6-2.55l2.6,2.55l-2.6,2.55zM122.6,606.3l2.6-2.55l2.6,2.55l-2.6,2.55zM120.0,609.8l2.6-2.55l2.6,2.55l-2.6,2.55zM124.3,610.0l2.6-2.55l2.6,2.55l-2.6,2.55zM128.1,609.8l2.6-2.55l2.6,2.55l-2.6,2.55zM124.1,612.7l2.6-2.55l2.6,2.55l-2.6,2.55zM130.1,616.6l2.6-2.55l2.6,2.55l-2.6,2.55zM134.4,616.6l2.6-2.55l2.6,2.55l-2.6,2.55zM138.7,613.7l2.6-2.55l2.6,2.55l-2.6,2.55zM119.5,620.5l2.6-2.55l2.6,2.55l-2.6,2.55zM114.0,620.5l2.6-2.55l2.6,2.55l-2.6,2.55zM120.3,624.2l2.6-2.55l2.6,2.55l-2.6,2.55zM129.8,624.0l2.6-2.55l2.6,2.55l-2.6,2.55zM135.8,624.0l2.6-2.55l2.6,2.55l-2.6,2.55zM135.2,620.5l2.6-2.55l2.6,2.55l-2.6,2.55zM121.5,627.9l2.6-2.55l2.6,2.55l-2.6,2.55zM126.9,627.9l2.6-2.55l2.6,2.55l-2.6,2.55zM134.7,627.9l2.6-2.55l2.6,2.55l-2.6,2.55zM139.5,628.2l2.6-2.55l2.6,2.55l-2.6,2.55zM115.2,627.9l2.6-2.55l2.6,2.55l-2.6,2.55zM107.7,628.2l2.6-2.55l2.6,2.55l-2.6,2.55zM114.9,631.6l2.6-2.55l2.6,2.55l-2.6,2.55zM110.9,631.9l2.6-2.55l2.6,2.55l-2.6,2.55zM103.1,631.9l2.6-2.55l2.6,2.55l-2.6,2.55zM98.3,631.6l2.6-2.55l2.6,2.55l-2.6,2.55zM129.5,631.6l2.6-2.55l2.6,2.55l-2.6,2.55zM135.2,631.6l2.6-2.55l2.6,2.55l-2.6,2.55zM124.1,635.5l2.6-2.55l2.6,2.55l-2.6,2.55zM130.1,635.8l2.6-2.55l2.6,2.55l-2.6,2.55zM131.8,635.8l2.6-2.55l2.6,2.55l-2.6,2.55zM134.9,635.8l2.6-2.55l2.6,2.55l-2.6,2.55zM139.5,635.8l2.6-2.55l2.6,2.55l-2.6,2.55zM110.6,640.6l2.6-2.55l2.6,2.55l-2.6,2.55zM119.5,640.6l2.6-2.55l2.6,2.55l-2.6,2.55zM129.8,640.6l2.6-2.55l2.6,2.55l-2.6,2.55zM140.1,640.6l2.6-2.55l2.6,2.55l-2.6,2.55zM103.7,640.6l2.6-2.55l2.6,2.55l-2.6,2.55zM100.3,640.6l2.6-2.55l2.6,2.55l-2.6,2.55zM100.0,635.5l2.6-2.55l2.6,2.55l-2.6,2.55zM112.9,635.0l2.6-2.55l2.6,2.55l-2.6,2.55zM113.7,639.0l2.6-2.55l2.6,2.55l-2.6,2.55zM98.5,606.6l2.6-2.55l2.6,2.55l-2.6,2.55zM100.8,609.8l2.6-2.55l2.6,2.55l-2.6,2.55zM99.1,613.4l2.6-2.55l2.6,2.55l-2.6,2.55zM103.1,614.5l2.6-2.55l2.6,2.55l-2.6,2.55zM106.6,613.4l2.6-2.55l2.6,2.55l-2.6,2.55zM98.5,617.1l2.6-2.55l2.6,2.55l-2.6,2.55zM131.8,617.1l2.6-2.55l2.6,2.55l-2.6,2.55zM137.0,616.6l2.6-2.55l2.6,2.55l-2.6,2.55zM141.0,616.6l2.6-2.55l2.6,2.55l-2.6,2.55zM99.7,632.9l2.6-2.55l2.6,2.55l-2.6,2.55zM102.6,635.0l2.6-2.55l2.6,2.55l-2.6,2.55zM104.9,633.4l2.6-2.55l2.6,2.55l-2.6,2.55zM115.7,631.3l2.6-2.55l2.6,2.55l-2.6,2.55zM141.0,609.2l2.6-2.55l2.6,2.55l-2.6,2.55zM139.8,610.8l2.6-2.55l2.6,2.55l-2.6,2.55zM129.5,604.5l2.6-2.55l2.6,2.55l-2.6,2.55zM132.9,601.6l2.6-2.55l2.6,2.55l-2.6,2.55zM114.6,631.8l2.6-2.55l2.6,2.55l-2.6,2.55zM135.4,631.8l2.6-2.55l2.6,2.55l-2.6,2.55zM130.1,616.8l2.6-2.55l2.6,2.55l-2.6,2.55zM67.2,600.2l2.6-2.55l2.6,2.55l-2.6,2.55zM69.7,603.4l2.6-2.55l2.6,2.55l-2.6,2.55zM67.4,591.0l2.6-2.55l2.6,2.55l-2.6,2.55zM68.6,613.5l2.6-2.55l2.6,2.55l-2.6,2.55zM68.9,613.5l2.6-2.55l2.6,2.55l-2.6,2.55zM68.4,613.6l2.6-2.55l2.6,2.55l-2.6,2.55zM66.4,591.0l2.6-2.55l2.6,2.55l-2.6,2.55zM70.2,594.0l2.6-2.55l2.6,2.55l-2.6,2.55zM67.3,591.0l2.6-2.55l2.6,2.55l-2.6,2.55zM67.1,606.7l2.6-2.55l2.6,2.55l-2.6,2.55zM67.6,606.5l2.6-2.55l2.6,2.55l-2.6,2.55zM67.4,591.0l2.6-2.55l2.6,2.55l-2.6,2.55zM66.6,579.8l2.6-2.55l2.6,2.55l-2.6,2.55zM67.8,582.5l2.6-2.55l2.6,2.55l-2.6,2.55zM67.6,597.1l2.6-2.55l2.6,2.55l-2.6,2.55zM67.8,582.5l2.6-2.55l2.6,2.55l-2.6,2.55zM69.0,600.2l2.6-2.55l2.6,2.55l-2.6,2.55zM68.9,600.1l2.6-2.55l2.6,2.55l-2.6,2.55zM67.1,606.7l2.6-2.55l2.6,2.55l-2.6,2.55zM70.0,600.2l2.6-2.55l2.6,2.55l-2.6,2.55zM70.6,600.4l2.6-2.55l2.6,2.55l-2.6,2.55zM70.1,600.2l2.6-2.55l2.6,2.55l-2.6,2.55zM69.7,600.4l2.6-2.55l2.6,2.55l-2.6,2.55zM69.0,610.1l2.6-2.55l2.6,2.55l-2.6,2.55zM66.3,594.0l2.6-2.55l2.6,2.55l-2.6,2.55zM67.6,594.0l2.6-2.55l2.6,2.55l-2.6,2.55zM66.3,620.8l2.6-2.55l2.6,2.55l-2.6,2.55zM69.1,606.7l2.6-2.55l2.6,2.55l-2.6,2.55zM70.0,606.7l2.6-2.55l2.6,2.55l-2.6,2.55zM69.2,585.3l2.6-2.55l2.6,2.55l-2.6,2.55zM71.4,610.1l2.6-2.55l2.6,2.55l-2.6,2.55zM73.8,628.5l2.6-2.55l2.6,2.55l-2.6,2.55zM73.3,628.4l2.6-2.55l2.6,2.55l-2.6,2.55zM71.7,624.6l2.6-2.55l2.6,2.55l-2.6,2.55zM74.2,582.5l2.6-2.55l2.6,2.55l-2.6,2.55zM73.8,600.2l2.6-2.55l2.6,2.55l-2.6,2.55zM73.2,597.1l2.6-2.55l2.6,2.55l-2.6,2.55zM76.3,617.1l2.6-2.55l2.6,2.55l-2.6,2.55zM73.8,579.8l2.6-2.55l2.6,2.55l-2.6,2.55zM74.8,603.4l2.6-2.55l2.6,2.55l-2.6,2.55zM76.6,600.2l2.6-2.55l2.6,2.55l-2.6,2.55zM71.8,606.7l2.6-2.55l2.6,2.55l-2.6,2.55zM72.5,606.9l2.6-2.55l2.6,2.55l-2.6,2.55zM71.3,606.7l2.6-2.55l2.6,2.55l-2.6,2.55zM74.3,597.1l2.6-2.55l2.6,2.55l-2.6,2.55zM74.5,606.7l2.6-2.55l2.6,2.55l-2.6,2.55zM74.4,606.8l2.6-2.55l2.6,2.55l-2.6,2.55zM75.7,613.5l2.6-2.55l2.6,2.55l-2.6,2.55zM76.3,613.7l2.6-2.55l2.6,2.55l-2.6,2.55zM76.1,603.4l2.6-2.55l2.6,2.55l-2.6,2.55zM70.9,600.2l2.6-2.55l2.6,2.55l-2.6,2.55zM70.5,600.1l2.6-2.55l2.6,2.55l-2.6,2.55zM71.7,588.1l2.6-2.55l2.6,2.55l-2.6,2.55zM71.6,579.8l2.6-2.55l2.6,2.55l-2.6,2.55zM78.0,582.5l2.6-2.55l2.6,2.55l-2.6,2.55zM77.1,628.5l2.6-2.55l2.6,2.55l-2.6,2.55zM77.5,597.1l2.6-2.55l2.6,2.55l-2.6,2.55zM78.8,636.6l2.6-2.55l2.6,2.55l-2.6,2.55zM77.6,603.4l2.6-2.55l2.6,2.55l-2.6,2.55zM78.1,624.6l2.6-2.55l2.6,2.55l-2.6,2.55zM80.6,628.5l2.6-2.55l2.6,2.55l-2.6,2.55zM78.9,613.5l2.6-2.55l2.6,2.55l-2.6,2.55zM82.4,610.1l2.6-2.55l2.6,2.55l-2.6,2.55zM82.7,609.9l2.6-2.55l2.6,2.55l-2.6,2.55zM80.4,582.5l2.6-2.55l2.6,2.55l-2.6,2.55zM80.3,582.6l2.6-2.55l2.6,2.55l-2.6,2.55zM77.5,600.2l2.6-2.55l2.6,2.55l-2.6,2.55zM77.7,600.4l2.6-2.55l2.6,2.55l-2.6,2.55zM79.2,636.6l2.6-2.55l2.6,2.55l-2.6,2.55zM81.5,617.1l2.6-2.55l2.6,2.55l-2.6,2.55zM80.9,617.3l2.6-2.55l2.6,2.55l-2.6,2.55zM77.6,597.1l2.6-2.55l2.6,2.55l-2.6,2.55zM77.0,597.3l2.6-2.55l2.6,2.55l-2.6,2.55zM78.5,617.1l2.6-2.55l2.6,2.55l-2.6,2.55zM87.0,579.8l2.6-2.55l2.6,2.55l-2.6,2.55zM85.4,628.5l2.6-2.55l2.6,2.55l-2.6,2.55zM85.8,628.6l2.6-2.55l2.6,2.55l-2.6,2.55zM88.3,594.0l2.6-2.55l2.6,2.55l-2.6,2.55zM88.3,594.2l2.6-2.55l2.6,2.55l-2.6,2.55zM84.3,606.7l2.6-2.55l2.6,2.55l-2.6,2.55zM87.8,594.0l2.6-2.55l2.6,2.55l-2.6,2.55zM88.3,594.1l2.6-2.55l2.6,2.55l-2.6,2.55zM85.6,597.1l2.6-2.55l2.6,2.55l-2.6,2.55zM86.0,597.2l2.6-2.55l2.6,2.55l-2.6,2.55zM87.6,591.0l2.6-2.55l2.6,2.55l-2.6,2.55zM86.5,600.2l2.6-2.55l2.6,2.55l-2.6,2.55zM87.6,603.4l2.6-2.55l2.6,2.55l-2.6,2.55zM88.9,606.7l2.6-2.55l2.6,2.55l-2.6,2.55zM89.3,607.0l2.6-2.55l2.6,2.55l-2.6,2.55zM84.0,617.1l2.6-2.55l2.6,2.55l-2.6,2.55zM83.8,591.0l2.6-2.55l2.6,2.55l-2.6,2.55zM87.8,620.8l2.6-2.55l2.6,2.55l-2.6,2.55zM84.5,606.7l2.6-2.55l2.6,2.55l-2.6,2.55zM84.4,606.4l2.6-2.55l2.6,2.55l-2.6,2.55zM85.1,620.8l2.6-2.55l2.6,2.55l-2.6,2.55zM68.2,613.5l2.6-2.55l2.6,2.55l-2.6,2.55zM70.1,620.8l2.6-2.55l2.6,2.55l-2.6,2.55zM69.9,620.6l2.6-2.55l2.6,2.55l-2.6,2.55zM66.7,632.5l2.6-2.55l2.6,2.55l-2.6,2.55zM66.7,613.5l2.6-2.55l2.6,2.55l-2.6,2.55zM68.3,632.5l2.6-2.55l2.6,2.55l-2.6,2.55zM67.3,624.6l2.6-2.55l2.6,2.55l-2.6,2.55zM67.4,624.6l2.6-2.55l2.6,2.55l-2.6,2.55zM68.5,624.6l2.6-2.55l2.6,2.55l-2.6,2.55zM70.0,617.1l2.6-2.55l2.6,2.55l-2.6,2.55zM69.4,617.4l2.6-2.55l2.6,2.55l-2.6,2.55zM70.3,640.9l2.6-2.55l2.6,2.55l-2.6,2.55zM67.1,628.5l2.6-2.55l2.6,2.55l-2.6,2.55zM76.3,632.5l2.6-2.55l2.6,2.55l-2.6,2.55zM74.3,624.6l2.6-2.55l2.6,2.55l-2.6,2.55zM74.3,624.8l2.6-2.55l2.6,2.55l-2.6,2.55zM75.3,636.6l2.6-2.55l2.6,2.55l-2.6,2.55zM75.0,613.5l2.6-2.55l2.6,2.55l-2.6,2.55zM75.2,632.5l2.6-2.55l2.6,2.55l-2.6,2.55zM75.6,632.3l2.6-2.55l2.6,2.55l-2.6,2.55zM76.3,640.9l2.6-2.55l2.6,2.55l-2.6,2.55zM76.4,628.5l2.6-2.55l2.6,2.55l-2.6,2.55zM80.4,624.6l2.6-2.55l2.6,2.55l-2.6,2.55zM80.9,624.7l2.6-2.55l2.6,2.55l-2.6,2.55zM80.9,640.9l2.6-2.55l2.6,2.55l-2.6,2.55zM79.4,620.8l2.6-2.55l2.6,2.55l-2.6,2.55zM78.9,617.1l2.6-2.55l2.6,2.55l-2.6,2.55zM79.0,617.3l2.6-2.55l2.6,2.55l-2.6,2.55zM77.2,597.1l2.6-2.55l2.6,2.55l-2.6,2.55zM78.0,597.1l2.6-2.55l2.6,2.55l-2.6,2.55zM80.1,613.5l2.6-2.55l2.6,2.55l-2.6,2.55zM80.2,613.6l2.6-2.55l2.6,2.55l-2.6,2.55zM88.9,636.6l2.6-2.55l2.6,2.55l-2.6,2.55zM87.0,636.6l2.6-2.55l2.6,2.55l-2.6,2.55zM87.2,636.5l2.6-2.55l2.6,2.55l-2.6,2.55zM84.3,628.5l2.6-2.55l2.6,2.55l-2.6,2.55zM84.2,628.6l2.6-2.55l2.6,2.55l-2.6,2.55zM87.5,640.9l2.6-2.55l2.6,2.55l-2.6,2.55zM94.5,600.2l2.6-2.55l2.6,2.55l-2.6,2.55zM91.9,594.0l2.6-2.55l2.6,2.55l-2.6,2.55zM91.7,632.5l2.6-2.55l2.6,2.55l-2.6,2.55zM94.3,632.5l2.6-2.55l2.6,2.55l-2.6,2.55zM89.6,606.7l2.6-2.55l2.6,2.55l-2.6,2.55zM93.0,632.5l2.6-2.55l2.6,2.55l-2.6,2.55zM93.6,600.2l2.6-2.55l2.6,2.55l-2.6,2.55zM90.5,594.0l2.6-2.55l2.6,2.55l-2.6,2.55zM95.6,640.9l2.6-2.55l2.6,2.55l-2.6,2.55zM95.3,603.4l2.6-2.55l2.6,2.55l-2.6,2.55zM91.0,606.7l2.6-2.55l2.6,2.55l-2.6,2.55zM93.7,640.9l2.6-2.55l2.6,2.55l-2.6,2.55zM91.3,628.5l2.6-2.55l2.6,2.55l-2.6,2.55zM91.2,628.6l2.6-2.55l2.6,2.55l-2.6,2.55zM94.5,636.6l2.6-2.55l2.6,2.55l-2.6,2.55zM92.8,632.5l2.6-2.55l2.6,2.55l-2.6,2.55zM100.0,624.6l2.6-2.55l2.6,2.55l-2.6,2.55zM96.0,636.6l2.6-2.55l2.6,2.55l-2.6,2.55zM96.2,636.6l2.6-2.55l2.6,2.55l-2.6,2.55zM99.6,617.1l2.6-2.55l2.6,2.55l-2.6,2.55zM101.6,620.8l2.6-2.55l2.6,2.55l-2.6,2.55zM101.0,620.7l2.6-2.55l2.6,2.55l-2.6,2.55zM100.5,640.9l2.6-2.55l2.6,2.55l-2.6,2.55zM100.2,641.1l2.6-2.55l2.6,2.55l-2.6,2.55zM97.8,613.5l2.6-2.55l2.6,2.55l-2.6,2.55zM99.6,613.5l2.6-2.55l2.6,2.55l-2.6,2.55zM99.3,613.8l2.6-2.55l2.6,2.55l-2.6,2.55zM95.8,628.5l2.6-2.55l2.6,2.55l-2.6,2.55zM95.7,628.2l2.6-2.55l2.6,2.55l-2.6,2.55zM98.5,606.7l2.6-2.55l2.6,2.55l-2.6,2.55zM96.6,632.5l2.6-2.55l2.6,2.55l-2.6,2.55zM99.4,603.4l2.6-2.55l2.6,2.55l-2.6,2.55zM104.0,628.5l2.6-2.55l2.6,2.55l-2.6,2.55zM106.6,606.7l2.6-2.55l2.6,2.55l-2.6,2.55zM106.1,606.6l2.6-2.55l2.6,2.55l-2.6,2.55zM104.7,617.1l2.6-2.55l2.6,2.55l-2.6,2.55zM103.6,606.7l2.6-2.55l2.6,2.55l-2.6,2.55zM102.7,610.1l2.6-2.55l2.6,2.55l-2.6,2.55zM106.3,628.5l2.6-2.55l2.6,2.55l-2.6,2.55zM106.5,617.1l2.6-2.55l2.6,2.55l-2.6,2.55zM104.7,617.1l2.6-2.55l2.6,2.55l-2.6,2.55zM104.2,617.0l2.6-2.55l2.6,2.55l-2.6,2.55zM111.3,636.6l2.6-2.55l2.6,2.55l-2.6,2.55zM110.5,632.5l2.6-2.55l2.6,2.55l-2.6,2.55zM111.0,632.5l2.6-2.55l2.6,2.55l-2.6,2.55zM110.6,624.6l2.6-2.55l2.6,2.55l-2.6,2.55zM113.2,636.6l2.6-2.55l2.6,2.55l-2.6,2.55zM112.7,636.6l2.6-2.55l2.6,2.55l-2.6,2.55zM113.9,617.1l2.6-2.55l2.6,2.55l-2.6,2.55zM114.5,617.3l2.6-2.55l2.6,2.55l-2.6,2.55zM108.4,617.1l2.6-2.55l2.6,2.55l-2.6,2.55zM112.8,606.7l2.6-2.55l2.6,2.55l-2.6,2.55zM114.3,628.5l2.6-2.55l2.6,2.55l-2.6,2.55zM110.1,640.9l2.6-2.55l2.6,2.55l-2.6,2.55zM118.6,636.6l2.6-2.55l2.6,2.55l-2.6,2.55zM118.2,636.4l2.6-2.55l2.6,2.55l-2.6,2.55zM115.8,636.6l2.6-2.55l2.6,2.55l-2.6,2.55zM118.1,620.8l2.6-2.55l2.6,2.55l-2.6,2.55zM119.1,636.6l2.6-2.55l2.6,2.55l-2.6,2.55zM116.0,640.9l2.6-2.55l2.6,2.55l-2.6,2.55zM114.8,620.8l2.6-2.55l2.6,2.55l-2.6,2.55zM120.6,636.6l2.6-2.55l2.6,2.55l-2.6,2.55zM116.8,636.6l2.6-2.55l2.6,2.55l-2.6,2.55zM116.8,628.5l2.6-2.55l2.6,2.55l-2.6,2.55zM117.2,628.5l2.6-2.55l2.6,2.55l-2.6,2.55zM118.6,624.6l2.6-2.55l2.6,2.55l-2.6,2.55zM118.3,624.5l2.6-2.55l2.6,2.55l-2.6,2.55zM116.4,632.5l2.6-2.55l2.6,2.55l-2.6,2.55zM116.8,632.6l2.6-2.55l2.6,2.55l-2.6,2.55zM116.3,632.5l2.6-2.55l2.6,2.55l-2.6,2.55zM124.3,636.6l2.6-2.55l2.6,2.55l-2.6,2.55zM121.9,636.6l2.6-2.55l2.6,2.55l-2.6,2.55zM125.1,620.8l2.6-2.55l2.6,2.55l-2.6,2.55zM124.3,620.8l2.6-2.55l2.6,2.55l-2.6,2.55zM122.8,606.7l2.6-2.55l2.6,2.55l-2.6,2.55zM124.7,628.5l2.6-2.55l2.6,2.55l-2.6,2.55zM124.2,628.2l2.6-2.55l2.6,2.55l-2.6,2.55zM121.5,632.5l2.6-2.55l2.6,2.55l-2.6,2.55zM122.1,632.4l2.6-2.55l2.6,2.55l-2.6,2.55zM120.8,636.6l2.6-2.55l2.6,2.55l-2.6,2.55zM121.1,636.8l2.6-2.55l2.6,2.55l-2.6,2.55zM125.6,620.8l2.6-2.55l2.6,2.55l-2.6,2.55zM126.2,621.1l2.6-2.55l2.6,2.55l-2.6,2.55zM120.7,603.4l2.6-2.55l2.6,2.55l-2.6,2.55zM130.1,620.8l2.6-2.55l2.6,2.55l-2.6,2.55zM128.3,606.7l2.6-2.55l2.6,2.55l-2.6,2.55zM130.3,624.6l2.6-2.55l2.6,2.55l-2.6,2.55zM127.3,632.5l2.6-2.55l2.6,2.55l-2.6,2.55zM129.3,632.5l2.6-2.55l2.6,2.55l-2.6,2.55zM128.8,617.1l2.6-2.55l2.6,2.55l-2.6,2.55zM130.3,636.6l2.6-2.55l2.6,2.55l-2.6,2.55zM129.9,636.7l2.6-2.55l2.6,2.55l-2.6,2.55zM132.4,620.8l2.6-2.55l2.6,2.55l-2.6,2.55zM128.8,632.5l2.6-2.55l2.6,2.55l-2.6,2.55zM139.0,636.6l2.6-2.55l2.6,2.55l-2.6,2.55zM138.4,636.5l2.6-2.55l2.6,2.55l-2.6,2.55zM136.9,636.6l2.6-2.55l2.6,2.55l-2.6,2.55zM137.1,636.5l2.6-2.55l2.6,2.55l-2.6,2.55zM139.2,632.5l2.6-2.55l2.6,2.55l-2.6,2.55zM138.5,632.5l2.6-2.55l2.6,2.55l-2.6,2.55zM135.6,624.6l2.6-2.55l2.6,2.55l-2.6,2.55zM138.0,606.7l2.6-2.55l2.6,2.55l-2.6,2.55zM137.7,632.5l2.6-2.55l2.6,2.55l-2.6,2.55zM140.7,628.5l2.6-2.55l2.6,2.55l-2.6,2.55zM139.7,636.6l2.6-2.55l2.6,2.55l-2.6,2.55z" fill="none" stroke="#000" stroke-width="1.08" stroke-linejoin="miter"/>
<path d="M68.3,580.9 L69.0,582.6 L69.6,584.2 L70.3,585.9 L71.0,587.4 L71.6,589.0 L72.3,590.5 L73.0,592.0 L73.6,593.4 L74.3,594.8 L75.0,596.2 L75.6,597.5 L76.3,598.8 L76.9,600.1 L77.6,601.4 L78.3,602.6 L78.9,603.7 L79.6,604.9 L80.3,606.0 L80.9,607.1 L81.6,608.1 L82.3,609.2 L82.9,610.2 L83.6,611.1 L84.3,612.0 L84.9,612.9 L85.6,613.8 L86.3,614.7 L86.9,615.5 L87.6,616.3 L88.3,617.0 L88.9,617.8 L89.6,618.5 L90.3,619.1 L90.9,619.8 L91.6,620.4 L92.3,621.0 L92.9,621.6 L93.6,622.1 L94.2,622.6 L94.9,623.1 L95.6,623.6 L96.2,624.1 L96.9,624.5 L97.6,624.9 L98.2,625.2 L98.9,625.6 L99.6,625.9 L100.2,626.2 L100.9,626.5 L101.6,626.8 L102.2,627.0 L102.9,627.2 L103.6,627.4 L104.2,627.6 L104.9,627.7 L105.6,627.9 L106.2,628.0 L106.9,628.0 L107.6,628.1 L108.2,628.2 L108.9,628.2 L109.6,628.2 L110.2,628.2 L110.9,628.2 L111.5,628.1 L112.2,628.1 L112.9,628.0 L113.5,627.9 L114.2,627.8 L114.9,627.6 L115.5,627.5 L116.2,627.3 L116.9,627.2 L117.5,627.0 L118.2,626.8 L118.9,626.5 L119.5,626.3 L120.2,626.0 L120.9,625.8 L121.5,625.5 L122.2,625.2 L122.9,624.9 L123.5,624.6 L124.2,624.2 L124.9,623.9 L125.5,623.5 L126.2,623.1 L126.8,622.8 L127.5,622.4 L128.2,622.0 L128.8,621.5 L129.5,621.1 L130.2,620.7 L130.8,620.2 L131.5,619.8 L132.2,619.3 L132.8,618.8 L133.5,618.3 L134.2,617.9 L134.8,617.4 L135.5,616.8 L136.2,616.3 L136.8,615.8 L137.5,615.3 L138.2,614.7 L138.8,614.2 L139.5,613.6 L140.2,613.1 L140.8,612.5 L141.5,612.0 L142.2,611.4 L142.8,610.8 L143.5,610.2 L144.1,609.6 L144.8,609.0 L145.5,608.4 L146.1,607.8 L146.8,607.2 L147.5,606.6 L148.1,606.0 L148.8,605.4 L149.5,604.8 L150.1,604.2 L150.8,603.6 L151.5,603.0 L152.1,602.4 L152.8,601.7 L153.5,601.1 L154.1,600.5 L154.8,599.9 L155.5,599.3 L156.1,598.7 L156.8,598.0 L157.5,597.4 L158.1,596.8 L158.8,596.2 L159.5,595.6 L160.1,595.0 L160.8,594.3 L161.4,593.7 L162.1,593.1 L162.8,592.5 L163.4,591.9 L164.1,591.3 L164.8,590.6 L165.4,590.0 L166.1,589.4 L166.8,588.8 L167.4,588.2 L168.1,587.6 L168.8,587.0 L169.4,586.3 L170.1,585.7 L170.8,585.1 L171.4,584.5 L172.1,583.9 L172.8,583.3 L173.4,582.7 L174.1,582.1 L174.8,581.4 L175.4,580.8 L176.1,580.2 L176.7,579.6 L177.4,579.0 L178.1,578.4 L178.7,577.8 L179.4,577.2 L180.1,576.6 L180.7,576.0 L181.4,575.4 L182.1,574.7 L182.7,574.1 L183.4,573.5 L184.1,572.9 L184.7,572.3 L185.4,571.7 L186.1,571.1 L186.7,570.5 L187.4,569.9 L188.1,569.3 L188.7,568.7 L189.4,568.1 L190.1,567.5 L190.7,566.9 L191.4,566.3 L192.1,565.7 L192.7,565.1 L193.4,564.5 L194.0,563.9 L194.7,563.3 L195.4,562.7 L196.0,562.2 L196.7,561.6 L197.4,561.0 L198.0,560.4 L198.7,559.8 L199.4,559.2 L200.0,558.6 L200.7,558.0 L201.4,557.4 L202.0,556.9 L202.7,556.3 L203.4,555.7 L204.0,555.1 L204.7,554.5 L205.4,554.0 L206.0,553.4 L206.7,552.8 L207.4,552.3 L208.0,551.7 L208.7,551.1 L209.4,550.6 L210.0,550.0 L210.7,549.5 L211.3,548.9 L212.0,548.4 L212.7,547.8 L213.3,547.3 L214.0,546.8 L214.7,546.2 L215.3,545.7 L216.0,545.2 L216.7,544.7 L217.3,544.2 L218.0,543.7 L218.7,543.2 L219.3,542.7 L220.0,542.2 L220.7,541.7 L221.3,541.3 L222.0,540.8 L222.7,540.3 L223.3,539.9 L224.0,539.5 L224.7,539.0 L225.3,538.6 L226.0,538.2 L226.6,537.8 L227.3,537.3 L228.0,537.0 L228.6,536.6 L229.3,536.2 L230.0,535.8 L230.6,535.4 L231.3,535.1 L232.0,534.7 L232.6,534.4 L233.3,534.1 L234.0,533.8 L234.6,533.4 L235.3,533.1 L236.0,532.8 L236.6,532.6 L237.3,532.3 L238.0,532.0 L238.6,531.8 L239.3,531.5 L240.0,531.3 L240.6,531.0 L241.3,530.8 L242.0,530.6 L242.6,530.3 L243.3,530.1 L243.9,529.9 L244.6,529.7 L245.3,529.6 L245.9,529.4 L246.6,529.2 L247.3,529.0 L247.9,528.9 L248.6,528.7 L249.3,528.6 L249.9,528.5 L250.6,528.3 L251.3,528.2 L251.9,528.1 L252.6,528.0 L253.3,527.9 L253.9,527.8 L254.6,527.7 L255.3,527.6 L255.9,527.5 L256.6,527.5 L257.3,527.4 L257.9,527.3 L258.6,527.3 L259.3,527.2 L259.9,527.2 L260.6,527.1 L261.2,527.1 L261.9,527.1 L262.6,527.1 L263.2,527.0 L263.9,527.0 L264.6,527.0 L265.2,527.0 L265.9,527.0 L266.6,527.0 L267.2,527.1 L267.9,527.1 L268.6,527.1 L269.2,527.1 L269.9,527.2 L270.6,527.2 L271.2,527.2 L271.9,527.3 L272.6,527.3 L273.2,527.4 L273.9,527.5 L274.6,527.5 L275.2,527.6 L275.9,527.7 L276.5,527.7 L277.2,527.8 L277.9,527.9 L278.5,528.0 L279.2,528.1 L279.9,528.2 L280.5,528.3 L281.2,528.4 L281.9,528.5 L282.5,528.6 L283.2,528.7 L283.9,528.8 L284.5,528.9 L285.2,529.0 L285.9,529.2 L286.5,529.3 L287.2,529.4 L287.9,529.5 L288.5,529.7 L289.2,529.8 L289.9,529.9 L290.5,530.1 L291.2,530.2 L291.9,530.4 L292.5,530.5 L293.2,530.7 L293.8,530.8 L294.5,531.0 L295.2,531.1 L295.8,531.3 L296.5,531.4 L297.2,531.6 L297.8,531.8 L298.5,531.9 L299.2,532.1 L299.8,532.2 L300.5,532.4 L301.2,532.6 L301.8,532.8 L302.5,532.9 L303.2,533.1 L303.8,533.3 L304.5,533.4 L305.2,533.6 L305.8,533.8 L306.5,534.0 L307.2,534.1 L307.8,534.3 L308.5,534.5 L309.2,534.6 L309.8,534.8 L310.5,535.0 L311.1,535.2 L311.8,535.3 L312.5,535.5 L313.1,535.7 L313.8,535.9 L314.5,536.0 L315.1,536.2 L315.8,536.4 L316.5,536.6 L317.1,536.7 L317.8,536.9 L318.5,537.1 L319.1,537.3 L319.8,537.4 L320.5,537.6 L321.1,537.8 L321.8,537.9 L322.5,538.1 L323.1,538.3 L323.8,538.4 L324.5,538.6 L325.1,538.7 L325.8,538.9 L326.4,539.0 L327.1,539.2 L327.8,539.4 L328.4,539.5 L329.1,539.7 L329.8,539.8 L330.4,539.9 L331.1,540.1 L331.8,540.2 L332.4,540.4 L333.1,540.5 L333.8,540.6 L334.4,540.8 L335.1,540.9 L335.8,541.0 L336.4,541.1 L337.1,541.3 L337.8,541.4 L338.4,541.5 L339.1,541.6 L339.8,541.7 L340.4,541.8 L341.1,541.9 L341.8,542.0 L342.4,542.0 L343.1,542.1 L343.7,542.2 L344.4,542.3 L345.1,542.3 L345.7,542.4 L346.4,542.4 L347.1,542.5 L347.7,542.5 L348.4,542.5 L349.1,542.6 L349.7,542.6 L350.4,542.6 L351.1,542.6 L351.7,542.6 L352.4,542.6 L353.1,542.6 L353.7,542.5 L354.4,542.5 L355.1,542.5 L355.7,542.4 L356.4,542.3 L357.1,542.3 L357.7,542.2 L358.4,542.1 L359.1,542.0 L359.7,541.9 L360.4,541.8 L361.0,541.6 L361.7,541.5 L362.4,541.4 L363.0,541.2 L363.7,541.0 L364.4,540.9 L365.0,540.7 L365.7,540.5 L366.4,540.3 L367.0,540.0 L367.7,539.8 L368.4,539.5 L369.0,539.3 L369.7,539.0 L370.4,538.7 L371.0,538.4 L371.7,538.1 L372.4,537.8 L373.0,537.5 L373.7,537.1 L374.4,536.7 L375.0,536.4 L375.7,536.0 L376.3,535.6 L377.0,535.1 L377.7,534.7 L378.3,534.3 L379.0,533.8 L379.7,533.3 L380.3,532.8 L381.0,532.3 L381.7,531.8 L382.3,531.3 L383.0,530.7 L383.7,530.1 L384.3,529.5 L385.0,528.9 L385.7,528.3 L386.3,527.7 L387.0,527.0 L387.7,526.3 L388.3,525.7 L389.0,525.0 L389.7,524.2 L390.3,523.5 L391.0,522.7" fill="none" stroke="#000" stroke-width="1.9" stroke-linejoin="round" />
<path d="M68.8,576.5 L69.4,578.4 L70.1,580.3 L70.8,582.2 L71.4,584.0 L72.1,585.8 L72.8,587.5 L73.4,589.3 L74.1,591.0 L74.8,592.6 L75.4,594.2 L76.1,595.8 L76.7,597.3 L77.4,598.8 L78.1,600.3 L78.7,601.7 L79.4,603.1 L80.1,604.5 L80.7,605.8 L81.4,607.1 L82.1,608.3 L82.7,609.5 L83.4,610.7 L84.1,611.8 L84.7,612.9 L85.4,614.0 L86.1,615.0 L86.7,616.0 L87.4,617.0 L88.1,617.9 L88.7,618.8 L89.4,619.6 L90.1,620.4 L90.7,621.2 L91.4,621.9 L92.1,622.6 L92.7,623.2 L93.4,623.8 L94.1,624.4 L94.7,625.0 L95.4,625.5 L96.1,626.0 L96.7,626.4 L97.4,626.8 L98.1,627.2 L98.7,627.6 L99.4,627.9 L100.0,628.2 L100.7,628.5 L101.4,628.7 L102.0,628.9 L102.7,629.1 L103.4,629.3 L104.0,629.4 L104.7,629.5 L105.4,629.6 L106.0,629.7 L106.7,629.7 L107.4,629.7 L108.0,629.7 L108.7,629.7 L109.4,629.6 L110.0,629.5 L110.7,629.4 L111.4,629.3 L112.0,629.2 L112.7,629.0 L113.4,628.8 L114.0,628.6 L114.7,628.4 L115.4,628.2 L116.0,627.9 L116.7,627.7 L117.4,627.4 L118.0,627.1 L118.7,626.8 L119.4,626.5 L120.0,626.1 L120.7,625.8 L121.4,625.4 L122.0,625.0 L122.7,624.6 L123.4,624.2 L124.0,623.8 L124.7,623.3 L125.3,622.9 L126.0,622.4 L126.7,621.9 L127.3,621.5 L128.0,621.0 L128.7,620.5 L129.3,620.0 L130.0,619.5 L130.7,618.9 L131.3,618.4 L132.0,617.9 L132.7,617.3 L133.3,616.8 L134.0,616.2 L134.7,615.6 L135.3,615.1 L136.0,614.5 L136.7,613.9 L137.3,613.3 L138.0,612.7 L138.7,612.1 L139.3,611.5 L140.0,610.9 L140.7,610.3 L141.3,609.7 L142.0,609.1 L142.7,608.5 L143.3,607.9 L144.0,607.3 L144.7,606.7 L145.3,606.1 L146.0,605.5 L146.7,604.9 L147.3,604.3 L148.0,603.7 L148.6,603.1 L149.3,602.5 L150.0,601.9 L150.6,601.3 L151.3,600.7 L152.0,600.1 L152.6,599.5 L153.3,598.9 L154.0,598.4 L154.6,597.8 L155.3,597.2 L156.0,596.6 L156.6,596.0 L157.3,595.5 L158.0,594.9 L158.6,594.3 L159.3,593.8 L160.0,593.2 L160.6,592.6 L161.3,592.1 L162.0,591.5 L162.6,591.0 L163.3,590.4 L164.0,589.9 L164.6,589.3 L165.3,588.8 L166.0,588.2 L166.6,587.7 L167.3,587.1 L168.0,586.6 L168.6,586.1 L169.3,585.5 L170.0,585.0 L170.6,584.5 L171.3,584.0 L172.0,583.4 L172.6,582.9 L173.3,582.4 L173.9,581.9 L174.6,581.4 L175.3,580.9 L175.9,580.3 L176.6,579.8 L177.3,579.3 L177.9,578.8 L178.6,578.3 L179.3,577.9 L179.9,577.4 L180.6,576.9 L181.3,576.4 L181.9,575.9 L182.6,575.4 L183.3,574.9 L183.9,574.5 L184.6,574.0 L185.3,573.5 L185.9,573.1 L186.6,572.6 L187.3,572.1 L187.9,571.7 L188.6,571.2 L189.3,570.8 L189.9,570.3 L190.6,569.9 L191.3,569.4 L191.9,569.0 L192.6,568.6 L193.3,568.1 L193.9,567.7 L194.6,567.3 L195.3,566.8 L195.9,566.4 L196.6,566.0 L197.3,565.6 L197.9,565.2 L198.6,564.7 L199.2,564.3 L199.9,563.9 L200.6,563.5 L201.2,563.1 L201.9,562.7 L202.6,562.3 L203.2,561.9 L203.9,561.5 L204.6,561.1 L205.2,560.7 L205.9,560.3 L206.6,559.9 L207.2,559.4 L207.9,559.0 L208.6,558.6 L209.2,558.2 L209.9,557.8 L210.6,557.4 L211.2,557.0 L211.9,556.6 L212.6,556.2 L213.2,555.9 L213.9,555.5 L214.6,555.1 L215.2,554.7 L215.9,554.3 L216.6,553.9 L217.2,553.5 L217.9,553.2 L218.6,552.8 L219.2,552.4 L219.9,552.0 L220.6,551.7 L221.2,551.3 L221.9,550.9 L222.5,550.6 L223.2,550.2 L223.9,549.9 L224.5,549.5 L225.2,549.2 L225.9,548.8 L226.5,548.5 L227.2,548.1 L227.9,547.8 L228.5,547.5 L229.2,547.1 L229.9,546.8 L230.5,546.5 L231.2,546.1 L231.9,545.8 L232.5,545.5 L233.2,545.2 L233.9,544.9 L234.5,544.5 L235.2,544.2 L235.9,543.9 L236.5,543.6 L237.2,543.3 L237.9,543.0 L238.5,542.7 L239.2,542.4 L239.9,542.1 L240.5,541.8 L241.2,541.6 L241.9,541.3 L242.5,541.0 L243.2,540.7 L243.9,540.4 L244.5,540.2 L245.2,539.9 L245.9,539.6 L246.5,539.4 L247.2,539.1 L247.8,538.8 L248.5,538.6 L249.2,538.3 L249.8,538.1 L250.5,537.8 L251.2,537.6 L251.8,537.3 L252.5,537.1 L253.2,536.9 L253.8,536.6 L254.5,536.4 L255.2,536.2 L255.8,536.0 L256.5,535.7 L257.2,535.5 L257.8,535.3 L258.5,535.1 L259.2,534.9 L259.8,534.7 L260.5,534.5 L261.2,534.3 L261.8,534.0 L262.5,533.9 L263.2,533.7 L263.8,533.5 L264.5,533.3 L265.2,533.1 L265.8,532.9 L266.5,532.7 L267.2,532.5 L267.8,532.4 L268.5,532.2 L269.2,532.0 L269.8,531.9 L270.5,531.7 L271.2,531.5 L271.8,531.4 L272.5,531.2 L273.1,531.1 L273.8,530.9 L274.5,530.8 L275.1,530.6 L275.8,530.5 L276.5,530.4 L277.1,530.2 L277.8,530.1 L278.5,530.0 L279.1,529.8 L279.8,529.7 L280.5,529.6 L281.1,529.5 L281.8,529.4 L282.5,529.3 L283.1,529.1 L283.8,529.0 L284.5,528.9 L285.1,528.8 L285.8,528.7 L286.5,528.6 L287.1,528.6 L287.8,528.5 L288.5,528.4 L289.1,528.3 L289.8,528.2 L290.5,528.1 L291.1,528.1 L291.8,528.0 L292.5,527.9 L293.1,527.9 L293.8,527.8 L294.5,527.8 L295.1,527.7 L295.8,527.6 L296.4,527.6 L297.1,527.5 L297.8,527.5 L298.4,527.5 L299.1,527.4 L299.8,527.4 L300.4,527.4 L301.1,527.3 L301.8,527.3 L302.4,527.3 L303.1,527.3 L303.8,527.3 L304.4,527.2 L305.1,527.2 L305.8,527.2 L306.4,527.2 L307.1,527.2 L307.8,527.2 L308.4,527.2 L309.1,527.2 L309.8,527.2 L310.4,527.3 L311.1,527.3 L311.8,527.3 L312.4,527.3 L313.1,527.3 L313.8,527.4 L314.4,527.4 L315.1,527.4 L315.8,527.5 L316.4,527.5 L317.1,527.6 L317.8,527.6 L318.4,527.7 L319.1,527.7 L319.8,527.8 L320.4,527.9 L321.1,527.9 L321.7,528.0 L322.4,528.1 L323.1,528.1 L323.7,528.2 L324.4,528.3 L325.1,528.4 L325.7,528.5 L326.4,528.6 L327.1,528.7 L327.7,528.8 L328.4,528.9 L329.1,529.0 L329.7,529.1 L330.4,529.2 L331.1,529.3 L331.7,529.5 L332.4,529.6 L333.1,529.7 L333.7,529.8 L334.4,530.0 L335.1,530.1 L335.7,530.3 L336.4,530.4 L337.1,530.6 L337.7,530.7 L338.4,530.9 L339.1,531.0 L339.7,531.2 L340.4,531.4 L341.1,531.5 L341.7,531.7 L342.4,531.9 L343.1,532.1 L343.7,532.3 L344.4,532.5 L345.0,532.7 L345.7,532.9 L346.4,533.1 L347.0,533.3 L347.7,533.5 L348.4,533.7 L349.0,533.9 L349.7,534.1 L350.4,534.4 L351.0,534.6 L351.7,534.8 L352.4,535.1 L353.0,535.3 L353.7,535.6 L354.4,535.8 L355.0,536.1 L355.7,536.3 L356.4,536.6 L357.0,536.8 L357.7,537.1 L358.4,537.4 L359.0,537.7 L359.7,538.0 L360.4,538.2 L361.0,538.5 L361.7,538.8 L362.4,539.1 L363.0,539.4 L363.7,539.7 L364.4,540.1 L365.0,540.4 L365.7,540.7 L366.4,541.0 L367.0,541.4 L367.7,541.7 L368.4,542.0 L369.0,542.4 L369.7,542.7 L370.3,543.1 L371.0,543.4 L371.7,543.8 L372.3,544.2 L373.0,544.5 L373.7,544.9 L374.3,545.3 L375.0,545.7 L375.7,546.0 L376.3,546.4 L377.0,546.8 L377.7,547.2 L378.3,547.6 L379.0,548.1 L379.7,548.5 L380.3,548.9 L381.0,549.3 L381.7,549.7 L382.3,550.2 L383.0,550.6 L383.7,551.0 L384.3,551.5 L385.0,551.9 L385.7,552.4 L386.3,552.9 L387.0,553.3 L387.7,553.8 L388.3,554.3 L389.0,554.8 L389.7,555.2 L390.3,555.7 L391.0,556.2" fill="none" stroke="#f00" stroke-width="1.9" stroke-linejoin="round" />
<path d="M67.6,582.9 L68.3,584.4 L68.9,585.9 L69.6,587.4 L70.3,588.8 L70.9,590.2 L71.6,591.6 L72.3,592.9 L72.9,594.3 L73.6,595.6 L74.3,596.9 L74.9,598.1 L75.6,599.3 L76.3,600.5 L76.9,601.7 L77.6,602.9 L78.3,604.0 L78.9,605.1 L79.6,606.2 L80.3,607.2 L80.9,608.3 L81.6,609.3 L82.3,610.3 L82.9,611.2 L83.6,612.1 L84.2,613.0 L84.9,613.9 L85.6,614.8 L86.2,615.6 L86.9,616.4 L87.6,617.2 L88.2,618.0 L88.9,618.7 L89.6,619.4 L90.2,620.1 L90.9,620.8 L91.6,621.4 L92.2,622.0 L92.9,622.6 L93.6,623.2 L94.2,623.7 L94.9,624.3 L95.6,624.8 L96.2,625.2 L96.9,625.7 L97.6,626.1 L98.2,626.5 L98.9,626.9 L99.6,627.2 L100.2,627.6 L100.9,627.9 L101.5,628.2 L102.2,628.4 L102.9,628.7 L103.5,628.9 L104.2,629.1 L104.9,629.3 L105.5,629.4 L106.2,629.6 L106.9,629.7 L107.5,629.8 L108.2,629.8 L108.9,629.9 L109.5,629.9 L110.2,629.9 L110.9,629.8 L111.5,629.8 L112.2,629.7 L112.9,629.6 L113.5,629.5 L114.2,629.4 L114.9,629.2 L115.5,629.1 L116.2,628.9 L116.9,628.7 L117.5,628.4 L118.2,628.2 L118.8,627.9 L119.5,627.7 L120.2,627.4 L120.8,627.1 L121.5,626.7 L122.2,626.4 L122.8,626.1 L123.5,625.7 L124.2,625.3 L124.8,624.9 L125.5,624.5 L126.2,624.1 L126.8,623.7 L127.5,623.2 L128.2,622.8 L128.8,622.3 L129.5,621.8 L130.2,621.4 L130.8,620.9 L131.5,620.4 L132.2,619.9 L132.8,619.3 L133.5,618.8 L134.1,618.3 L134.8,617.7 L135.5,617.2 L136.1,616.7 L136.8,616.1 L137.5,615.5 L138.1,615.0 L138.8,614.4 L139.5,613.8 L140.1,613.2 L140.8,612.7 L141.5,612.1 L142.1,611.5 L142.8,610.9 L143.5,610.3 L144.1,609.7 L144.8,609.1 L145.5,608.6 L146.1,608.0 L146.8,607.4 L147.5,606.8 L148.1,606.2 L148.8,605.6 L149.5,605.0 L150.1,604.4 L150.8,603.8 L151.4,603.2 L152.1,602.6 L152.8,602.0 L153.4,601.4 L154.1,600.8 L154.8,600.1 L155.4,599.5 L156.1,598.9 L156.8,598.3 L157.4,597.7 L158.1,597.1 L158.8,596.5 L159.4,595.9 L160.1,595.3 L160.8,594.7 L161.4,594.1 L162.1,593.5 L162.8,592.9 L163.4,592.3 L164.1,591.7 L164.8,591.0 L165.4,590.4 L166.1,589.8 L166.8,589.2 L167.4,588.6 L168.1,588.0 L168.7,587.4 L169.4,586.8 L170.1,586.2 L170.7,585.6 L171.4,585.0 L172.1,584.4 L172.7,583.8 L173.4,583.2 L174.1,582.6 L174.7,582.0 L175.4,581.4 L176.1,580.9 L176.7,580.3 L177.4,579.7 L178.1,579.1 L178.7,578.5 L179.4,577.9 L180.1,577.3 L180.7,576.8 L181.4,576.2 L182.1,575.6 L182.7,575.0 L183.4,574.5 L184.1,573.9 L184.7,573.3 L185.4,572.8 L186.0,572.2 L186.7,571.6 L187.4,571.1 L188.0,570.5 L188.7,570.0 L189.4,569.4 L190.0,568.9 L190.7,568.3 L191.4,567.8 L192.0,567.2 L192.7,566.7 L193.4,566.2 L194.0,565.6 L194.7,565.1 L195.4,564.6 L196.0,564.0 L196.7,563.5 L197.4,562.9 L198.0,562.4 L198.7,561.9 L199.4,561.3 L200.0,560.8 L200.7,560.3 L201.4,559.7 L202.0,559.2 L202.7,558.7 L203.3,558.1 L204.0,557.6 L204.7,557.0 L205.3,556.5 L206.0,556.0 L206.7,555.4 L207.3,554.9 L208.0,554.3 L208.7,553.8 L209.3,553.2 L210.0,552.7 L210.7,552.2 L211.3,551.6 L212.0,551.1 L212.7,550.5 L213.3,550.0 L214.0,549.5 L214.7,549.0 L215.3,548.5 L216.0,548.0 L216.7,547.5 L217.3,547.0 L218.0,546.5 L218.7,546.0 L219.3,545.5 L220.0,545.0 L220.6,544.6 L221.3,544.1 L222.0,543.7 L222.6,543.2 L223.3,542.8 L224.0,542.4 L224.6,542.0 L225.3,541.6 L226.0,541.2 L226.6,540.8 L227.3,540.4 L228.0,540.0 L228.6,539.6 L229.3,539.2 L230.0,538.9 L230.6,538.5 L231.3,538.2 L232.0,537.8 L232.6,537.5 L233.3,537.2 L234.0,536.8 L234.6,536.5 L235.3,536.2 L236.0,535.9 L236.6,535.6 L237.3,535.3 L237.9,535.0 L238.6,534.7 L239.3,534.5 L239.9,534.2 L240.6,533.9 L241.3,533.7 L241.9,533.4 L242.6,533.2 L243.3,532.9 L243.9,532.7 L244.6,532.5 L245.3,532.2 L245.9,532.0 L246.6,531.8 L247.3,531.6 L247.9,531.4 L248.6,531.2 L249.3,531.0 L249.9,530.8 L250.6,530.6 L251.3,530.4 L251.9,530.3 L252.6,530.1 L253.3,529.9 L253.9,529.8 L254.6,529.6 L255.2,529.5 L255.9,529.3 L256.6,529.2 L257.2,529.1 L257.9,529.0 L258.6,528.8 L259.2,528.7 L259.9,528.6 L260.6,528.5 L261.2,528.4 L261.9,528.3 L262.6,528.2 L263.2,528.1 L263.9,528.0 L264.6,527.9 L265.2,527.8 L265.9,527.8 L266.6,527.7 L267.2,527.6 L267.9,527.6 L268.6,527.5 L269.2,527.5 L269.9,527.4 L270.6,527.4 L271.2,527.3 L271.9,527.3 L272.5,527.2 L273.2,527.2 L273.9,527.2 L274.5,527.2 L275.2,527.1 L275.9,527.1 L276.5,527.1 L277.2,527.1 L277.9,527.1 L278.5,527.1 L279.2,527.1 L279.9,527.1 L280.5,527.1 L281.2,527.1 L281.9,527.1 L282.5,527.1 L283.2,527.2 L283.9,527.2 L284.5,527.2 L285.2,527.2 L285.9,527.3 L286.5,527.3 L287.2,527.3 L287.9,527.4 L288.5,527.4 L289.2,527.4 L289.8,527.5 L290.5,527.5 L291.2,527.6 L291.8,527.6 L292.5,527.7 L293.2,527.8 L293.8,527.8 L294.5,527.9 L295.2,528.0 L295.8,528.0 L296.5,528.1 L297.2,528.2 L297.8,528.2 L298.5,528.3 L299.2,528.4 L299.8,528.5 L300.5,528.6 L301.2,528.6 L301.8,528.7 L302.5,528.8 L303.2,528.9 L303.8,529.0 L304.5,529.1 L305.2,529.2 L305.8,529.3 L306.5,529.4 L307.1,529.5 L307.8,529.6 L308.5,529.7 L309.1,529.8 L309.8,529.9 L310.5,530.0 L311.1,530.1 L311.8,530.2 L312.5,530.3 L313.1,530.4 L313.8,530.5 L314.5,530.6 L315.1,530.7 L315.8,530.9 L316.5,531.0 L317.1,531.1 L317.8,531.2 L318.5,531.3 L319.1,531.5 L319.8,531.6 L320.5,531.7 L321.1,531.8 L321.8,532.0 L322.5,532.1 L323.1,532.2 L323.8,532.4 L324.4,532.5 L325.1,532.6 L325.8,532.8 L326.4,532.9 L327.1,533.0 L327.8,533.2 L328.4,533.3 L329.1,533.5 L329.8,533.6 L330.4,533.7 L331.1,533.9 L331.8,534.0 L332.4,534.2 L333.1,534.3 L333.8,534.5 L334.4,534.6 L335.1,534.8 L335.8,534.9 L336.4,535.1 L337.1,535.3 L337.8,535.4 L338.4,535.6 L339.1,535.7 L339.8,535.9 L340.4,536.1 L341.1,536.2 L341.7,536.4 L342.4,536.6 L343.1,536.7 L343.7,536.9 L344.4,537.1 L345.1,537.2 L345.7,537.4 L346.4,537.6 L347.1,537.7 L347.7,537.9 L348.4,538.1 L349.1,538.3 L349.7,538.5 L350.4,538.6 L351.1,538.8 L351.7,539.0 L352.4,539.2 L353.1,539.4 L353.7,539.6 L354.4,539.7 L355.1,539.9 L355.7,540.1 L356.4,540.3 L357.1,540.5 L357.7,540.7 L358.4,540.9 L359.0,541.1 L359.7,541.3 L360.4,541.5 L361.0,541.7 L361.7,541.9 L362.4,542.1 L363.0,542.3 L363.7,542.5 L364.4,542.7 L365.0,542.9 L365.7,543.1 L366.4,543.3 L367.0,543.5 L367.7,543.7 L368.4,543.9 L369.0,544.1 L369.7,544.3 L370.4,544.5 L371.0,544.7 L371.7,545.0 L372.4,545.2 L373.0,545.4 L373.7,545.6 L374.4,545.8 L375.0,546.0 L375.7,546.3 L376.3,546.5 L377.0,546.7 L377.7,546.9 L378.3,547.1 L379.0,547.4 L379.7,547.6 L380.3,547.8 L381.0,548.0 L381.7,548.3 L382.3,548.5 L383.0,548.7 L383.7,549.0 L384.3,549.2 L385.0,549.4 L385.7,549.6 L386.3,549.9 L387.0,550.1 L387.7,550.3 L388.3,550.6 L389.0,550.8 L389.7,551.1 L390.3,551.3 L391.0,551.5" fill="none" stroke="#00cd00" stroke-width="1.9" stroke-linejoin="round" />
<path d="M68.8,611.9 L69.4,612.1 L70.1,612.2 L70.8,612.4 L71.4,612.5 L72.1,612.7 L72.8,612.8 L73.4,613.0 L74.1,613.1 L74.8,613.3 L75.4,613.4 L76.1,613.6 L76.7,613.7 L77.4,613.8 L78.1,614.0 L78.7,614.1 L79.4,614.2 L80.1,614.4 L80.7,614.5 L81.4,614.6 L82.1,614.7 L82.7,614.9 L83.4,615.0 L84.1,615.1 L84.7,615.2 L85.4,615.3 L86.1,615.4 L86.7,615.5 L87.4,615.6 L88.1,615.7 L88.7,615.8 L89.4,615.9 L90.1,616.0 L90.7,616.0 L91.4,616.1 L92.1,616.2 L92.7,616.3 L93.4,616.3 L94.1,616.4 L94.7,616.5 L95.4,616.5 L96.1,616.6 L96.7,616.6 L97.4,616.7 L98.1,616.7 L98.7,616.8 L99.4,616.8 L100.0,616.8 L100.7,616.8 L101.4,616.9 L102.0,616.9 L102.7,616.9 L103.4,616.9 L104.0,616.9 L104.7,616.9 L105.4,616.9 L106.0,616.9 L106.7,616.9 L107.4,616.9 L108.0,616.8 L108.7,616.8 L109.4,616.8 L110.0,616.7 L110.7,616.7 L111.4,616.7 L112.0,616.6 L112.7,616.5 L113.4,616.5 L114.0,616.4 L114.7,616.3 L115.4,616.3 L116.0,616.2 L116.7,616.1 L117.4,616.0 L118.0,615.9 L118.7,615.8 L119.4,615.7 L120.0,615.6 L120.7,615.4 L121.4,615.3 L122.0,615.2 L122.7,615.0 L123.4,614.9 L124.0,614.7 L124.7,614.6 L125.3,614.4 L126.0,614.3 L126.7,614.1 L127.3,613.9 L128.0,613.7 L128.7,613.5 L129.3,613.3 L130.0,613.1 L130.7,612.9 L131.3,612.7 L132.0,612.4 L132.7,612.2 L133.3,612.0 L134.0,611.7 L134.7,611.5 L135.3,611.2 L136.0,610.9 L136.7,610.7 L137.3,610.4 L138.0,610.1 L138.7,609.8 L139.3,609.5 L140.0,609.2 L140.7,608.9 L141.3,608.5 L142.0,608.2 L142.7,607.9 L143.3,607.6 L144.0,607.2 L144.7,606.9 L145.3,606.5 L146.0,606.1 L146.7,605.8 L147.3,605.4 L148.0,605.0 L148.6,604.7 L149.3,604.3 L150.0,603.9 L150.6,603.5 L151.3,603.1 L152.0,602.7 L152.6,602.3 L153.3,601.9 L154.0,601.4 L154.6,601.0 L155.3,600.6 L156.0,600.2 L156.6,599.7 L157.3,599.3 L158.0,598.8 L158.6,598.4 L159.3,598.0 L160.0,597.5 L160.6,597.0 L161.3,596.6 L162.0,596.1 L162.6,595.7 L163.3,595.2 L164.0,594.7 L164.6,594.3 L165.3,593.8 L166.0,593.3 L166.6,592.8 L167.3,592.3 L168.0,591.9 L168.6,591.4 L169.3,590.9 L170.0,590.4 L170.6,589.9 L171.3,589.4 L172.0,588.9 L172.6,588.4 L173.3,587.9 L173.9,587.4 L174.6,586.9 L175.3,586.4 L175.9,585.9 L176.6,585.4 L177.3,584.9 L177.9,584.4 L178.6,583.9 L179.3,583.4 L179.9,582.9 L180.6,582.4 L181.3,581.9 L181.9,581.4 L182.6,580.9 L183.3,580.4 L183.9,579.9 L184.6,579.4 L185.3,578.9 L185.9,578.4 L186.6,577.9 L187.3,577.4 L187.9,576.8 L188.6,576.3 L189.3,575.8 L189.9,575.4 L190.6,574.9 L191.3,574.4 L191.9,573.9 L192.6,573.4 L193.3,572.9 L193.9,572.4 L194.6,571.9 L195.3,571.4 L195.9,570.9 L196.6,570.4 L197.3,570.0 L197.9,569.5 L198.6,569.0 L199.2,568.5 L199.9,568.1 L200.6,567.6 L201.2,567.1 L201.9,566.7 L202.6,566.2 L203.2,565.8 L203.9,565.3 L204.6,564.9 L205.2,564.4 L205.9,564.0 L206.6,563.5 L207.2,563.1 L207.9,562.7 L208.6,562.2 L209.2,561.8 L209.9,561.4 L210.6,561.0 L211.2,560.6 L211.9,560.2 L212.6,559.7 L213.2,559.3 L213.9,558.9 L214.6,558.5 L215.2,558.1 L215.9,557.7 L216.6,557.4 L217.2,557.0 L217.9,556.6 L218.6,556.2 L219.2,555.8 L219.9,555.4 L220.6,555.1 L221.2,554.7 L221.9,554.3 L222.5,554.0 L223.2,553.6 L223.9,553.3 L224.5,552.9 L225.2,552.6 L225.9,552.2 L226.5,551.9 L227.2,551.5 L227.9,551.2 L228.5,550.8 L229.2,550.5 L229.9,550.2 L230.5,549.8 L231.2,549.5 L231.9,549.2 L232.5,548.9 L233.2,548.6 L233.9,548.2 L234.5,547.9 L235.2,547.6 L235.9,547.3 L236.5,547.0 L237.2,546.7 L237.9,546.4 L238.5,546.1 L239.2,545.8 L239.9,545.5 L240.5,545.3 L241.2,545.0 L241.9,544.7 L242.5,544.4 L243.2,544.1 L243.9,543.9 L244.5,543.6 L245.2,543.3 L245.9,543.1 L246.5,542.8 L247.2,542.6 L247.8,542.3 L248.5,542.1 L249.2,541.8 L249.8,541.6 L250.5,541.3 L251.2,541.1 L251.8,540.9 L252.5,540.6 L253.2,540.4 L253.8,540.2 L254.5,539.9 L255.2,539.7 L255.8,539.5 L256.5,539.3 L257.2,539.1 L257.8,538.9 L258.5,538.7 L259.2,538.5 L259.8,538.3 L260.5,538.1 L261.2,537.9 L261.8,537.7 L262.5,537.5 L263.2,537.3 L263.8,537.2 L264.5,537.0 L265.2,536.8 L265.8,536.7 L266.5,536.5 L267.2,536.3 L267.8,536.2 L268.5,536.0 L269.2,535.9 L269.8,535.7 L270.5,535.6 L271.2,535.4 L271.8,535.3 L272.5,535.2 L273.1,535.0 L273.8,534.9 L274.5,534.8 L275.1,534.6 L275.8,534.5 L276.5,534.4 L277.1,534.3 L277.8,534.2 L278.5,534.1 L279.1,534.0 L279.8,533.9 L280.5,533.8 L281.1,533.7 L281.8,533.6 L282.5,533.5 L283.1,533.4 L283.8,533.3 L284.5,533.2 L285.1,533.1 L285.8,533.0 L286.5,533.0 L287.1,532.9 L287.8,532.8 L288.5,532.8 L289.1,532.7 L289.8,532.6 L290.5,532.6 L291.1,532.5 L291.8,532.4 L292.5,532.4 L293.1,532.3 L293.8,532.3 L294.5,532.2 L295.1,532.2 L295.8,532.1 L296.4,532.1 L297.1,532.1 L297.8,532.0 L298.4,532.0 L299.1,532.0 L299.8,531.9 L300.4,531.9 L301.1,531.9 L301.8,531.8 L302.4,531.8 L303.1,531.8 L303.8,531.8 L304.4,531.7 L305.1,531.7 L305.8,531.7 L306.4,531.7 L307.1,531.7 L307.8,531.7 L308.4,531.6 L309.1,531.6 L309.8,531.6 L310.4,531.6 L311.1,531.6 L311.8,531.6 L312.4,531.6 L313.1,531.6 L313.8,531.6 L314.4,531.6 L315.1,531.6 L315.8,531.6 L316.4,531.6 L317.1,531.6 L317.8,531.6 L318.4,531.6 L319.1,531.6 L319.8,531.6 L320.4,531.7 L321.1,531.7 L321.7,531.7 L322.4,531.7 L323.1,531.7 L323.7,531.7 L324.4,531.7 L325.1,531.8 L325.7,531.8 L326.4,531.8 L327.1,531.8 L327.7,531.8 L328.4,531.8 L329.1,531.9 L329.7,531.9 L330.4,531.9 L331.1,531.9 L331.7,531.9 L332.4,532.0 L333.1,532.0 L333.7,532.0 L334.4,532.0 L335.1,532.1 L335.7,532.1 L336.4,532.1 L337.1,532.1 L337.7,532.1 L338.4,532.2 L339.1,532.2 L339.7,532.2 L340.4,532.2 L341.1,532.3 L341.7,532.3 L342.4,532.3 L343.1,532.3 L343.7,532.4 L344.4,532.4 L345.0,532.4 L345.7,532.4 L346.4,532.4 L347.0,532.5 L347.7,532.5 L348.4,532.5 L349.0,532.5 L349.7,532.6 L350.4,532.6 L351.0,532.6 L351.7,532.6 L352.4,532.6 L353.0,532.6 L353.7,532.7 L354.4,532.7 L355.0,532.7 L355.7,532.7 L356.4,532.7 L357.0,532.7 L357.7,532.8 L358.4,532.8 L359.0,532.8 L359.7,532.8 L360.4,532.8 L361.0,532.8 L361.7,532.8 L362.4,532.8 L363.0,532.8 L363.7,532.8 L364.4,532.8 L365.0,532.8 L365.7,532.8 L366.4,532.8 L367.0,532.8 L367.7,532.8 L368.4,532.8 L369.0,532.8 L369.7,532.8 L370.3,532.8 L371.0,532.8 L371.7,532.8 L372.3,532.8 L373.0,532.8 L373.7,532.7 L374.3,532.7 L375.0,532.7 L375.7,532.7 L376.3,532.7 L377.0,532.6 L377.7,532.6 L378.3,532.6 L379.0,532.6 L379.7,532.5 L380.3,532.5 L381.0,532.5 L381.7,532.4 L382.3,532.4 L383.0,532.4 L383.7,532.3 L384.3,532.3 L385.0,532.2 L385.7,532.2 L386.3,532.1 L387.0,532.1 L387.7,532.0 L388.3,532.0 L389.0,531.9 L389.7,531.8 L390.3,531.8 L391.0,531.7" fill="none" stroke="#00f" stroke-width="1.9" stroke-linejoin="round" />
<text x="88.4" y="402.8" textLength="110" lengthAdjust="spacingAndGlyphs">4 degrees of freedom</text>
</g>
<rect x="55.5" y="395.5" width="348.5" height="333.20000000000005" fill="none" stroke="#303030" stroke-width="1.3"/>
<text x="67.5" y="756" text-anchor="middle">0</text><text x="130.0" y="756" text-anchor="middle" textLength="12.6" lengthAdjust="spacingAndGlyphs">10</text><text x="191.7" y="756" text-anchor="middle" textLength="12.6" lengthAdjust="spacingAndGlyphs">20</text><text x="255.2" y="756" text-anchor="middle" textLength="12.6" lengthAdjust="spacingAndGlyphs">30</text><text x="317.8" y="756" text-anchor="middle" textLength="12.6" lengthAdjust="spacingAndGlyphs">40</text><text x="380.3" y="756" text-anchor="middle" textLength="12.6" lengthAdjust="spacingAndGlyphs">50</text><text transform="translate(38.6,673.6) rotate(-90)" text-anchor="middle">1.5</text><text transform="translate(38.6,610.3) rotate(-90)" text-anchor="middle">2.0</text><text transform="translate(38.6,546.9) rotate(-90)" text-anchor="middle">2.5</text><text transform="translate(38.6,483.6) rotate(-90)" text-anchor="middle">3.0</text><text transform="translate(38.6,420.3) rotate(-90)" text-anchor="middle">3.5</text>
<path d="M67.5,728.7v7.9M130.0,728.7v7.9M192.6,728.7v7.9M255.2,728.7v7.9M317.8,728.7v7.9M380.3,728.7v7.9M55.5,673.6h-7.9M55.5,610.3h-7.9M55.5,546.9h-7.9M55.5,483.6h-7.9M55.5,420.3h-7.9" stroke="#303030" stroke-width="1.3" fill="none"/>
<g clip-path="url(#cBR)">
<path d="M442.5,511.9l2.6-2.55l2.6,2.55l-2.6,2.55zM488.9,511.9l2.6-2.55l2.6,2.55l-2.6,2.55zM484.4,526.9l2.6-2.55l2.6,2.55l-2.6,2.55zM484.4,537.8l2.6-2.55l2.6,2.55l-2.6,2.55zM496.6,537.8l2.6-2.55l2.6,2.55l-2.6,2.55zM441.6,546.0l2.6-2.55l2.6,2.55l-2.6,2.55zM446.2,550.2l2.6-2.55l2.6,2.55l-2.6,2.55zM439.0,552.6l2.6-2.55l2.6,2.55l-2.6,2.55zM496.6,554.4l2.6-2.55l2.6,2.55l-2.6,2.55zM428.1,554.8l2.6-2.55l2.6,2.55l-2.6,2.55zM435.1,554.2l2.6-2.55l2.6,2.55l-2.6,2.55zM435.1,556.5l2.6-2.55l2.6,2.55l-2.6,2.55zM428.1,556.3l2.6-2.55l2.6,2.55l-2.6,2.55zM423.3,559.0l2.6-2.55l2.6,2.55l-2.6,2.55zM439.3,559.0l2.6-2.55l2.6,2.55l-2.6,2.55zM580.9,481.1l2.6-2.55l2.6,2.55l-2.6,2.55zM563.5,485.1l2.6-2.55l2.6,2.55l-2.6,2.55zM581.8,488.4l2.6-2.55l2.6,2.55l-2.6,2.55zM574.6,490.2l2.6-2.55l2.6,2.55l-2.6,2.55zM537.3,490.2l2.6-2.55l2.6,2.55l-2.6,2.55zM528.2,492.8l2.6-2.55l2.6,2.55l-2.6,2.55zM520.9,496.8l2.6-2.55l2.6,2.55l-2.6,2.55zM537.3,496.8l2.6-2.55l2.6,2.55l-2.6,2.55zM564.6,496.8l2.6-2.55l2.6,2.55l-2.6,2.55zM541.9,500.3l2.6-2.55l2.6,2.55l-2.6,2.55zM572.9,498.4l2.6-2.55l2.6,2.55l-2.6,2.55zM560.0,501.1l2.6-2.55l2.6,2.55l-2.6,2.55zM564.0,500.3l2.6-2.55l2.6,2.55l-2.6,2.55zM570.0,500.3l2.6-2.55l2.6,2.55l-2.6,2.55zM584.6,501.1l2.6-2.55l2.6,2.55l-2.6,2.55zM527.2,504.2l2.6-2.55l2.6,2.55l-2.6,2.55zM524.7,506.0l2.6-2.55l2.6,2.55l-2.6,2.55zM537.1,508.6l2.6-2.55l2.6,2.55l-2.6,2.55zM556.2,508.4l2.6-2.55l2.6,2.55l-2.6,2.55zM562.8,509.8l2.6-2.55l2.6,2.55l-2.6,2.55zM573.8,510.2l2.6-2.55l2.6,2.55l-2.6,2.55zM577.5,511.9l2.6-2.55l2.6,2.55l-2.6,2.55zM520.9,511.9l2.6-2.55l2.6,2.55l-2.6,2.55zM532.5,513.2l2.6-2.55l2.6,2.55l-2.6,2.55zM530.7,515.1l2.6-2.55l2.6,2.55l-2.6,2.55zM562.8,513.7l2.6-2.55l2.6,2.55l-2.6,2.55zM537.1,517.2l2.6-2.55l2.6,2.55l-2.6,2.55zM544.6,518.4l2.6-2.55l2.6,2.55l-2.6,2.55zM585.7,520.3l2.6-2.55l2.6,2.55l-2.6,2.55zM515.8,521.8l2.6-2.55l2.6,2.55l-2.6,2.55zM517.6,521.8l2.6-2.55l2.6,2.55l-2.6,2.55zM558.0,521.6l2.6-2.55l2.6,2.55l-2.6,2.55zM561.1,523.7l2.6-2.55l2.6,2.55l-2.6,2.55zM505.6,526.9l2.6-2.55l2.6,2.55l-2.6,2.55zM510.0,526.9l2.6-2.55l2.6,2.55l-2.6,2.55zM510.0,528.4l2.6-2.55l2.6,2.55l-2.6,2.55zM566.6,526.9l2.6-2.55l2.6,2.55l-2.6,2.55zM566.6,528.1l2.6-2.55l2.6,2.55l-2.6,2.55zM531.9,528.4l2.6-2.55l2.6,2.55l-2.6,2.55zM532.4,528.5l2.6-2.55l2.6,2.55l-2.6,2.55zM543.6,528.4l2.6-2.55l2.6,2.55l-2.6,2.55zM555.3,528.6l2.6-2.55l2.6,2.55l-2.6,2.55zM586.9,526.9l2.6-2.55l2.6,2.55l-2.6,2.55zM541.9,532.3l2.6-2.55l2.6,2.55l-2.6,2.55zM582.6,534.4l2.6-2.55l2.6,2.55l-2.6,2.55zM529.1,535.3l2.6-2.55l2.6,2.55l-2.6,2.55zM529.3,536.5l2.6-2.55l2.6,2.55l-2.6,2.55zM540.8,536.1l2.6-2.55l2.6,2.55l-2.6,2.55zM528.2,540.3l2.6-2.55l2.6,2.55l-2.6,2.55zM550.2,541.6l2.6-2.55l2.6,2.55l-2.6,2.55zM562.8,541.8l2.6-2.55l2.6,2.55l-2.6,2.55zM555.3,544.2l2.6-2.55l2.6,2.55l-2.6,2.55zM586.1,544.2l2.6-2.55l2.6,2.55l-2.6,2.55zM530.2,545.8l2.6-2.55l2.6,2.55l-2.6,2.55zM546.5,546.0l2.6-2.55l2.6,2.55l-2.6,2.55zM505.6,548.6l2.6-2.55l2.6,2.55l-2.6,2.55zM506.0,548.6l2.6-2.55l2.6,2.55l-2.6,2.55zM510.4,548.6l2.6-2.55l2.6,2.55l-2.6,2.55zM525.6,548.1l2.6-2.55l2.6,2.55l-2.6,2.55zM541.9,548.1l2.6-2.55l2.6,2.55l-2.6,2.55zM561.1,548.6l2.6-2.55l2.6,2.55l-2.6,2.55zM531.3,550.0l2.6-2.55l2.6,2.55l-2.6,2.55zM543.1,550.0l2.6-2.55l2.6,2.55l-2.6,2.55zM524.7,550.5l2.6-2.55l2.6,2.55l-2.6,2.55zM523.8,552.9l2.6-2.55l2.6,2.55l-2.6,2.55zM545.6,552.6l2.6-2.55l2.6,2.55l-2.6,2.55zM533.9,554.2l2.6-2.55l2.6,2.55l-2.6,2.55zM548.4,554.8l2.6-2.55l2.6,2.55l-2.6,2.55zM519.0,556.5l2.6-2.55l2.6,2.55l-2.6,2.55zM526.4,556.5l2.6-2.55l2.6,2.55l-2.6,2.55zM531.6,556.5l2.6-2.55l2.6,2.55l-2.6,2.55zM561.1,556.9l2.6-2.55l2.6,2.55l-2.6,2.55zM568.3,556.9l2.6-2.55l2.6,2.55l-2.6,2.55zM572.9,556.5l2.6-2.55l2.6,2.55l-2.6,2.55zM505.8,559.0l2.6-2.55l2.6,2.55l-2.6,2.55zM512.7,559.0l2.6-2.55l2.6,2.55l-2.6,2.55zM540.8,559.0l2.6-2.55l2.6,2.55l-2.6,2.55zM548.8,559.0l2.6-2.55l2.6,2.55l-2.6,2.55zM578.8,558.4l2.6-2.55l2.6,2.55l-2.6,2.55zM585.5,559.0l2.6-2.55l2.6,2.55l-2.6,2.55zM572.0,407.6l2.6-2.55l2.6,2.55l-2.6,2.55zM573.7,434.3l2.6-2.55l2.6,2.55l-2.6,2.55zM576.5,440.8l2.6-2.55l2.6,2.55l-2.6,2.55zM510.0,464.4l2.6-2.55l2.6,2.55l-2.6,2.55zM536.2,460.8l2.6-2.55l2.6,2.55l-2.6,2.55zM549.0,462.4l2.6-2.55l2.6,2.55l-2.6,2.55zM545.4,468.4l2.6-2.55l2.6,2.55l-2.6,2.55zM649.1,406.6l2.6-2.55l2.6,2.55l-2.6,2.55zM673.5,419.3l2.6-2.55l2.6,2.55l-2.6,2.55zM643.6,430.8l2.6-2.55l2.6,2.55l-2.6,2.55zM643.6,436.1l2.6-2.55l2.6,2.55l-2.6,2.55zM604.6,445.1l2.6-2.55l2.6,2.55l-2.6,2.55zM630.2,444.0l2.6-2.55l2.6,2.55l-2.6,2.55zM630.2,449.5l2.6-2.55l2.6,2.55l-2.6,2.55zM667.2,450.8l2.6-2.55l2.6,2.55l-2.6,2.55zM599.2,456.8l2.6-2.55l2.6,2.55l-2.6,2.55zM610.1,456.8l2.6-2.55l2.6,2.55l-2.6,2.55zM648.2,460.8l2.6-2.55l2.6,2.55l-2.6,2.55zM587.5,464.4l2.6-2.55l2.6,2.55l-2.6,2.55zM588.0,464.4l2.6-2.55l2.6,2.55l-2.6,2.55zM605.5,468.4l2.6-2.55l2.6,2.55l-2.6,2.55zM591.0,472.6l2.6-2.55l2.6,2.55l-2.6,2.55zM624.7,473.9l2.6-2.55l2.6,2.55l-2.6,2.55zM630.2,475.3l2.6-2.55l2.6,2.55l-2.6,2.55zM617.2,476.3l2.6-2.55l2.6,2.55l-2.6,2.55zM645.4,474.2l2.6-2.55l2.6,2.55l-2.6,2.55zM686.5,445.1l2.6-2.55l2.6,2.55l-2.6,2.55zM723.6,445.1l2.6-2.55l2.6,2.55l-2.6,2.55zM730.0,446.0l2.6-2.55l2.6,2.55l-2.6,2.55zM680.0,460.8l2.6-2.55l2.6,2.55l-2.6,2.55zM723.7,457.7l2.6-2.55l2.6,2.55l-2.6,2.55zM742.9,456.8l2.6-2.55l2.6,2.55l-2.6,2.55zM679.8,471.4l2.6-2.55l2.6,2.55l-2.6,2.55zM680.3,471.4l2.6-2.55l2.6,2.55l-2.6,2.55zM705.6,476.8l2.6-2.55l2.6,2.55l-2.6,2.55zM623.9,478.4l2.6-2.55l2.6,2.55l-2.6,2.55zM625.4,481.4l2.6-2.55l2.6,2.55l-2.6,2.55zM623.7,483.2l2.6-2.55l2.6,2.55l-2.6,2.55zM589.3,483.4l2.6-2.55l2.6,2.55l-2.6,2.55zM600.0,485.8l2.6-2.55l2.6,2.55l-2.6,2.55zM633.6,488.4l2.6-2.55l2.6,2.55l-2.6,2.55zM649.1,485.0l2.6-2.55l2.6,2.55l-2.6,2.55zM652.0,487.7l2.6-2.55l2.6,2.55l-2.6,2.55zM649.1,490.5l2.6-2.55l2.6,2.55l-2.6,2.55zM665.5,490.0l2.6-2.55l2.6,2.55l-2.6,2.55zM658.3,492.8l2.6-2.55l2.6,2.55l-2.6,2.55zM590.1,496.1l2.6-2.55l2.6,2.55l-2.6,2.55zM623.9,498.4l2.6-2.55l2.6,2.55l-2.6,2.55zM667.2,496.1l2.6-2.55l2.6,2.55l-2.6,2.55zM673.8,496.8l2.6-2.55l2.6,2.55l-2.6,2.55zM671.8,501.4l2.6-2.55l2.6,2.55l-2.6,2.55zM589.3,502.6l2.6-2.55l2.6,2.55l-2.6,2.55zM589.3,505.8l2.6-2.55l2.6,2.55l-2.6,2.55zM643.1,500.5l2.6-2.55l2.6,2.55l-2.6,2.55zM640.9,502.6l2.6-2.55l2.6,2.55l-2.6,2.55zM647.6,502.6l2.6-2.55l2.6,2.55l-2.6,2.55zM630.2,504.5l2.6-2.55l2.6,2.55l-2.6,2.55zM598.3,508.4l2.6-2.55l2.6,2.55l-2.6,2.55zM604.6,510.2l2.6-2.55l2.6,2.55l-2.6,2.55zM596.4,511.6l2.6-2.55l2.6,2.55l-2.6,2.55zM594.3,513.7l2.6-2.55l2.6,2.55l-2.6,2.55zM649.3,510.2l2.6-2.55l2.6,2.55l-2.6,2.55zM673.8,511.9l2.6-2.55l2.6,2.55l-2.6,2.55zM667.2,515.1l2.6-2.55l2.6,2.55l-2.6,2.55zM659.2,516.3l2.6-2.55l2.6,2.55l-2.6,2.55zM598.3,518.4l2.6-2.55l2.6,2.55l-2.6,2.55zM621.9,518.4l2.6-2.55l2.6,2.55l-2.6,2.55zM636.3,521.6l2.6-2.55l2.6,2.55l-2.6,2.55zM636.5,523.7l2.6-2.55l2.6,2.55l-2.6,2.55zM662.0,520.3l2.6-2.55l2.6,2.55l-2.6,2.55zM673.8,520.5l2.6-2.55l2.6,2.55l-2.6,2.55zM592.4,524.7l2.6-2.55l2.6,2.55l-2.6,2.55zM592.9,528.6l2.6-2.55l2.6,2.55l-2.6,2.55zM643.6,525.1l2.6-2.55l2.6,2.55l-2.6,2.55zM660.8,524.4l2.6-2.55l2.6,2.55l-2.6,2.55zM625.0,526.3l2.6-2.55l2.6,2.55l-2.6,2.55zM630.2,529.0l2.6-2.55l2.6,2.55l-2.6,2.55zM608.2,528.6l2.6-2.55l2.6,2.55l-2.6,2.55zM636.3,529.5l2.6-2.55l2.6,2.55l-2.6,2.55zM636.7,532.6l2.6-2.55l2.6,2.55l-2.6,2.55zM637.0,532.4l2.6-2.55l2.6,2.55l-2.6,2.55zM654.3,528.2l2.6-2.55l2.6,2.55l-2.6,2.55zM652.6,530.0l2.6-2.55l2.6,2.55l-2.6,2.55zM649.1,532.6l2.6-2.55l2.6,2.55l-2.6,2.55zM661.1,528.6l2.6-2.55l2.6,2.55l-2.6,2.55zM673.8,528.4l2.6-2.55l2.6,2.55l-2.6,2.55zM666.3,532.3l2.6-2.55l2.6,2.55l-2.6,2.55zM666.7,532.6l2.6-2.55l2.6,2.55l-2.6,2.55zM657.4,533.9l2.6-2.55l2.6,2.55l-2.6,2.55zM674.0,532.6l2.6-2.55l2.6,2.55l-2.6,2.55zM602.9,534.4l2.6-2.55l2.6,2.55l-2.6,2.55zM593.7,535.8l2.6-2.55l2.6,2.55l-2.6,2.55zM623.9,535.6l2.6-2.55l2.6,2.55l-2.6,2.55zM627.3,537.9l2.6-2.55l2.6,2.55l-2.6,2.55zM639.1,537.7l2.6-2.55l2.6,2.55l-2.6,2.55zM604.6,541.4l2.6-2.55l2.6,2.55l-2.6,2.55zM601.0,546.0l2.6-2.55l2.6,2.55l-2.6,2.55zM672.0,544.2l2.6-2.55l2.6,2.55l-2.6,2.55zM613.8,548.8l2.6-2.55l2.6,2.55l-2.6,2.55zM610.7,552.3l2.6-2.55l2.6,2.55l-2.6,2.55zM636.5,548.6l2.6-2.55l2.6,2.55l-2.6,2.55zM643.0,548.6l2.6-2.55l2.6,2.55l-2.6,2.55zM630.2,554.2l2.6-2.55l2.6,2.55l-2.6,2.55zM651.1,554.2l2.6-2.55l2.6,2.55l-2.6,2.55zM668.6,554.2l2.6-2.55l2.6,2.55l-2.6,2.55zM592.9,554.2l2.6-2.55l2.6,2.55l-2.6,2.55zM633.6,556.9l2.6-2.55l2.6,2.55l-2.6,2.55zM636.5,556.9l2.6-2.55l2.6,2.55l-2.6,2.55zM643.0,556.9l2.6-2.55l2.6,2.55l-2.6,2.55zM590.1,559.0l2.6-2.55l2.6,2.55l-2.6,2.55zM667.5,559.0l2.6-2.55l2.6,2.55l-2.6,2.55zM674.0,559.0l2.6-2.55l2.6,2.55l-2.6,2.55zM717.3,480.0l2.6-2.55l2.6,2.55l-2.6,2.55zM680.0,482.6l2.6-2.55l2.6,2.55l-2.6,2.55zM699.3,482.6l2.6-2.55l2.6,2.55l-2.6,2.55zM680.0,490.2l2.6-2.55l2.6,2.55l-2.6,2.55zM686.5,496.1l2.6-2.55l2.6,2.55l-2.6,2.55zM705.6,496.1l2.6-2.55l2.6,2.55l-2.6,2.55zM680.0,500.3l2.6-2.55l2.6,2.55l-2.6,2.55zM686.5,504.5l2.6-2.55l2.6,2.55l-2.6,2.55zM705.6,511.9l2.6-2.55l2.6,2.55l-2.6,2.55zM692.7,515.1l2.6-2.55l2.6,2.55l-2.6,2.55zM723.7,515.1l2.6-2.55l2.6,2.55l-2.6,2.55zM742.9,518.4l2.6-2.55l2.6,2.55l-2.6,2.55zM686.5,520.0l2.6-2.55l2.6,2.55l-2.6,2.55zM705.6,523.5l2.6-2.55l2.6,2.55l-2.6,2.55zM699.3,526.6l2.6-2.55l2.6,2.55l-2.6,2.55zM711.0,526.9l2.6-2.55l2.6,2.55l-2.6,2.55zM730.0,530.3l2.6-2.55l2.6,2.55l-2.6,2.55zM678.3,532.6l2.6-2.55l2.6,2.55l-2.6,2.55zM699.3,534.4l2.6-2.55l2.6,2.55l-2.6,2.55zM699.1,540.3l2.6-2.55l2.6,2.55l-2.6,2.55zM680.0,540.5l2.6-2.55l2.6,2.55l-2.6,2.55zM680.0,541.6l2.6-2.55l2.6,2.55l-2.6,2.55zM723.7,545.3l2.6-2.55l2.6,2.55l-2.6,2.55zM699.1,548.6l2.6-2.55l2.6,2.55l-2.6,2.55zM705.6,548.6l2.6-2.55l2.6,2.55l-2.6,2.55zM736.6,550.2l2.6-2.55l2.6,2.55l-2.6,2.55zM705.6,554.5l2.6-2.55l2.6,2.55l-2.6,2.55zM699.1,559.0l2.6-2.55l2.6,2.55l-2.6,2.55zM717.3,571.3l2.6-2.55l2.6,2.55l-2.6,2.55zM699.1,571.1l2.6-2.55l2.6,2.55l-2.6,2.55zM699.1,573.7l2.6-2.55l2.6,2.55l-2.6,2.55zM692.7,573.7l2.6-2.55l2.6,2.55l-2.6,2.55zM686.5,582.1l2.6-2.55l2.6,2.55l-2.6,2.55zM699.3,582.3l2.6-2.55l2.6,2.55l-2.6,2.55zM730.0,584.8l2.6-2.55l2.6,2.55l-2.6,2.55zM667.8,584.8l2.6-2.55l2.6,2.55l-2.6,2.55zM670.1,588.2l2.6-2.55l2.6,2.55l-2.6,2.55zM673.7,590.8l2.6-2.55l2.6,2.55l-2.6,2.55zM730.0,593.9l2.6-2.55l2.6,2.55l-2.6,2.55zM686.5,596.5l2.6-2.55l2.6,2.55l-2.6,2.55zM680.0,603.0l2.6-2.55l2.6,2.55l-2.6,2.55zM680.0,606.3l2.6-2.55l2.6,2.55l-2.6,2.55zM699.3,609.7l2.6-2.55l2.6,2.55l-2.6,2.55zM711.0,616.5l2.6-2.55l2.6,2.55l-2.6,2.55zM699.3,623.9l2.6-2.55l2.6,2.55l-2.6,2.55zM592.9,560.0l2.6-2.55l2.6,2.55l-2.6,2.55zM643.0,560.0l2.6-2.55l2.6,2.55l-2.6,2.55zM643.6,563.7l2.6-2.55l2.6,2.55l-2.6,2.55zM603.6,568.4l2.6-2.55l2.6,2.55l-2.6,2.55zM603.6,571.3l2.6-2.55l2.6,2.55l-2.6,2.55zM611.8,571.3l2.6-2.55l2.6,2.55l-2.6,2.55zM616.7,571.3l2.6-2.55l2.6,2.55l-2.6,2.55zM636.5,568.6l2.6-2.55l2.6,2.55l-2.6,2.55zM656.3,571.3l2.6-2.55l2.6,2.55l-2.6,2.55zM661.1,573.7l2.6-2.55l2.6,2.55l-2.6,2.55zM635.4,576.3l2.6-2.55l2.6,2.55l-2.6,2.55zM647.4,579.7l2.6-2.55l2.6,2.55l-2.6,2.55zM660.2,579.7l2.6-2.55l2.6,2.55l-2.6,2.55zM630.2,582.3l2.6-2.55l2.6,2.55l-2.6,2.55zM587.8,582.3l2.6-2.55l2.6,2.55l-2.6,2.55zM598.3,582.1l2.6-2.55l2.6,2.55l-2.6,2.55zM593.5,585.0l2.6-2.55l2.6,2.55l-2.6,2.55zM587.2,587.9l2.6-2.55l2.6,2.55l-2.6,2.55zM659.4,588.1l2.6-2.55l2.6,2.55l-2.6,2.55zM659.9,588.1l2.6-2.55l2.6,2.55l-2.6,2.55zM594.7,596.3l2.6-2.55l2.6,2.55l-2.6,2.55zM591.8,599.8l2.6-2.55l2.6,2.55l-2.6,2.55zM607.3,596.5l2.6-2.55l2.6,2.55l-2.6,2.55zM617.2,599.8l2.6-2.55l2.6,2.55l-2.6,2.55zM590.9,606.3l2.6-2.55l2.6,2.55l-2.6,2.55zM632.7,606.3l2.6-2.55l2.6,2.55l-2.6,2.55zM661.1,606.3l2.6-2.55l2.6,2.55l-2.6,2.55zM661.1,613.2l2.6-2.55l2.6,2.55l-2.6,2.55zM598.4,616.5l2.6-2.55l2.6,2.55l-2.6,2.55zM598.9,616.5l2.6-2.55l2.6,2.55l-2.6,2.55zM588.1,623.9l2.6-2.55l2.6,2.55l-2.6,2.55zM588.6,623.9l2.6-2.55l2.6,2.55l-2.6,2.55zM594.7,628.2l2.6-2.55l2.6,2.55l-2.6,2.55zM552.8,563.7l2.6-2.55l2.6,2.55l-2.6,2.55zM497.8,563.2l2.6-2.55l2.6,2.55l-2.6,2.55zM509.2,565.8l2.6-2.55l2.6,2.55l-2.6,2.55zM512.7,565.8l2.6-2.55l2.6,2.55l-2.6,2.55zM505.8,569.0l2.6-2.55l2.6,2.55l-2.6,2.55zM520.9,564.2l2.6-2.55l2.6,2.55l-2.6,2.55zM525.3,564.2l2.6-2.55l2.6,2.55l-2.6,2.55zM529.9,566.0l2.6-2.55l2.6,2.55l-2.6,2.55zM524.7,569.0l2.6-2.55l2.6,2.55l-2.6,2.55zM527.6,571.1l2.6-2.55l2.6,2.55l-2.6,2.55zM524.4,573.7l2.6-2.55l2.6,2.55l-2.6,2.55zM516.5,571.1l2.6-2.55l2.6,2.55l-2.6,2.55zM543.6,571.1l2.6-2.55l2.6,2.55l-2.6,2.55zM550.2,571.1l2.6-2.55l2.6,2.55l-2.6,2.55zM577.5,568.6l2.6-2.55l2.6,2.55l-2.6,2.55zM571.7,568.2l2.6-2.55l2.6,2.55l-2.6,2.55zM580.9,561.6l2.6-2.55l2.6,2.55l-2.6,2.55zM584.3,562.1l2.6-2.55l2.6,2.55l-2.6,2.55zM509.2,576.3l2.6-2.55l2.6,2.55l-2.6,2.55zM502.4,579.5l2.6-2.55l2.6,2.55l-2.6,2.55zM514.6,579.5l2.6-2.55l2.6,2.55l-2.6,2.55zM499.5,582.3l2.6-2.55l2.6,2.55l-2.6,2.55zM504.7,582.3l2.6-2.55l2.6,2.55l-2.6,2.55zM509.2,582.3l2.6-2.55l2.6,2.55l-2.6,2.55zM511.5,583.7l2.6-2.55l2.6,2.55l-2.6,2.55zM508.3,585.3l2.6-2.55l2.6,2.55l-2.6,2.55zM521.8,582.1l2.6-2.55l2.6,2.55l-2.6,2.55zM518.4,584.8l2.6-2.55l2.6,2.55l-2.6,2.55zM521.8,584.8l2.6-2.55l2.6,2.55l-2.6,2.55zM502.7,587.9l2.6-2.55l2.6,2.55l-2.6,2.55zM508.3,587.9l2.6-2.55l2.6,2.55l-2.6,2.55zM529.9,584.4l2.6-2.55l2.6,2.55l-2.6,2.55zM534.7,584.8l2.6-2.55l2.6,2.55l-2.6,2.55zM543.6,584.8l2.6-2.55l2.6,2.55l-2.6,2.55zM551.1,579.5l2.6-2.55l2.6,2.55l-2.6,2.55zM554.5,582.3l2.6-2.55l2.6,2.55l-2.6,2.55zM569.2,581.6l2.6-2.55l2.6,2.55l-2.6,2.55zM575.5,582.1l2.6-2.55l2.6,2.55l-2.6,2.55zM566.3,585.0l2.6-2.55l2.6,2.55l-2.6,2.55zM570.2,585.0l2.6-2.55l2.6,2.55l-2.6,2.55zM579.2,587.9l2.6-2.55l2.6,2.55l-2.6,2.55zM558.0,590.5l2.6-2.55l2.6,2.55l-2.6,2.55zM500.6,593.2l2.6-2.55l2.6,2.55l-2.6,2.55zM507.5,593.9l2.6-2.55l2.6,2.55l-2.6,2.55zM501.8,596.7l2.6-2.55l2.6,2.55l-2.6,2.55zM511.9,596.3l2.6-2.55l2.6,2.55l-2.6,2.55zM499.3,599.8l2.6-2.55l2.6,2.55l-2.6,2.55zM505.8,596.9l2.6-2.55l2.6,2.55l-2.6,2.55zM537.3,593.5l2.6-2.55l2.6,2.55l-2.6,2.55zM541.0,596.5l2.6-2.55l2.6,2.55l-2.6,2.55zM537.3,599.8l2.6-2.55l2.6,2.55l-2.6,2.55zM530.8,599.8l2.6-2.55l2.6,2.55l-2.6,2.55zM526.4,599.8l2.6-2.55l2.6,2.55l-2.6,2.55zM520.9,599.8l2.6-2.55l2.6,2.55l-2.6,2.55zM556.2,596.3l2.6-2.55l2.6,2.55l-2.6,2.55zM559.1,599.8l2.6-2.55l2.6,2.55l-2.6,2.55zM558.0,600.0l2.6-2.55l2.6,2.55l-2.6,2.55zM562.9,603.2l2.6-2.55l2.6,2.55l-2.6,2.55zM571.1,593.9l2.6-2.55l2.6,2.55l-2.6,2.55zM574.6,596.5l2.6-2.55l2.6,2.55l-2.6,2.55zM583.8,596.5l2.6-2.55l2.6,2.55l-2.6,2.55zM520.1,603.2l2.6-2.55l2.6,2.55l-2.6,2.55zM509.8,606.0l2.6-2.55l2.6,2.55l-2.6,2.55zM520.9,606.3l2.6-2.55l2.6,2.55l-2.6,2.55zM507.5,609.5l2.6-2.55l2.6,2.55l-2.6,2.55zM511.8,609.5l2.6-2.55l2.6,2.55l-2.6,2.55zM516.5,609.5l2.6-2.55l2.6,2.55l-2.6,2.55zM519.0,609.7l2.6-2.55l2.6,2.55l-2.6,2.55zM520.9,613.2l2.6-2.55l2.6,2.55l-2.6,2.55zM517.3,616.5l2.6-2.55l2.6,2.55l-2.6,2.55zM512.1,616.5l2.6-2.55l2.6,2.55l-2.6,2.55zM512.3,616.7l2.6-2.55l2.6,2.55l-2.6,2.55zM503.5,616.5l2.6-2.55l2.6,2.55l-2.6,2.55zM528.2,616.5l2.6-2.55l2.6,2.55l-2.6,2.55zM533.9,616.5l2.6-2.55l2.6,2.55l-2.6,2.55zM540.2,616.5l2.6-2.55l2.6,2.55l-2.6,2.55zM530.8,620.8l2.6-2.55l2.6,2.55l-2.6,2.55zM497.8,612.7l2.6-2.55l2.6,2.55l-2.6,2.55zM498.3,616.9l2.6-2.55l2.6,2.55l-2.6,2.55zM498.6,617.1l2.6-2.55l2.6,2.55l-2.6,2.55zM498.9,620.5l2.6-2.55l2.6,2.55l-2.6,2.55zM499.1,620.8l2.6-2.55l2.6,2.55l-2.6,2.55zM504.1,620.8l2.6-2.55l2.6,2.55l-2.6,2.55zM507.5,620.8l2.6-2.55l2.6,2.55l-2.6,2.55zM511.5,620.8l2.6-2.55l2.6,2.55l-2.6,2.55zM509.8,624.0l2.6-2.55l2.6,2.55l-2.6,2.55zM517.8,623.7l2.6-2.55l2.6,2.55l-2.6,2.55zM518.8,623.7l2.6-2.55l2.6,2.55l-2.6,2.55zM520.9,628.4l2.6-2.55l2.6,2.55l-2.6,2.55zM524.7,628.4l2.6-2.55l2.6,2.55l-2.6,2.55zM531.9,627.9l2.6-2.55l2.6,2.55l-2.6,2.55zM503.5,627.9l2.6-2.55l2.6,2.55l-2.6,2.55zM503.8,628.4l2.6-2.55l2.6,2.55l-2.6,2.55zM504.1,631.6l2.6-2.55l2.6,2.55l-2.6,2.55zM500.6,631.6l2.6-2.55l2.6,2.55l-2.6,2.55zM507.5,631.6l2.6-2.55l2.6,2.55l-2.6,2.55zM512.7,631.6l2.6-2.55l2.6,2.55l-2.6,2.55zM502.7,635.3l2.6-2.55l2.6,2.55l-2.6,2.55zM503.4,635.4l2.6-2.55l2.6,2.55l-2.6,2.55zM519.0,635.3l2.6-2.55l2.6,2.55l-2.6,2.55zM523.8,640.6l2.6-2.55l2.6,2.55l-2.6,2.55zM570.2,631.6l2.6-2.55l2.6,2.55l-2.6,2.55zM510.0,644.8l2.6-2.55l2.6,2.55l-2.6,2.55zM515.5,644.8l2.6-2.55l2.6,2.55l-2.6,2.55zM498.9,644.8l2.6-2.55l2.6,2.55l-2.6,2.55zM502.9,649.0l2.6-2.55l2.6,2.55l-2.6,2.55zM505.0,649.2l2.6-2.55l2.6,2.55l-2.6,2.55zM497.8,649.0l2.6-2.55l2.6,2.55l-2.6,2.55zM504.4,653.7l2.6-2.55l2.6,2.55l-2.6,2.55zM497.2,653.7l2.6-2.55l2.6,2.55l-2.6,2.55zM498.3,659.2l2.6-2.55l2.6,2.55l-2.6,2.55zM504.1,659.2l2.6-2.55l2.6,2.55l-2.6,2.55zM506.9,659.2l2.6-2.55l2.6,2.55l-2.6,2.55zM511.2,659.2l2.6-2.55l2.6,2.55l-2.6,2.55zM549.0,649.2l2.6-2.55l2.6,2.55l-2.6,2.55zM585.3,659.2l2.6-2.55l2.6,2.55l-2.6,2.55zM500.1,674.8l2.6-2.55l2.6,2.55l-2.6,2.55zM514.6,680.6l2.6-2.55l2.6,2.55l-2.6,2.55zM505.5,687.6l2.6-2.55l2.6,2.55l-2.6,2.55zM500.1,700.8l2.6-2.55l2.6,2.55l-2.6,2.55zM567.4,680.6l2.6-2.55l2.6,2.55l-2.6,2.55zM567.4,687.6l2.6-2.55l2.6,2.55l-2.6,2.55zM575.5,687.6l2.6-2.55l2.6,2.55l-2.6,2.55zM522.7,715.8l2.6-2.55l2.6,2.55l-2.6,2.55zM589.3,653.9l2.6-2.55l2.6,2.55l-2.6,2.55zM623.7,651.6l2.6-2.55l2.6,2.55l-2.6,2.55zM641.1,659.2l2.6-2.55l2.6,2.55l-2.6,2.55zM644.5,670.0l2.6-2.55l2.6,2.55l-2.6,2.55zM667.2,680.8l2.6-2.55l2.6,2.55l-2.6,2.55zM705.6,653.9l2.6-2.55l2.6,2.55l-2.6,2.55zM736.6,659.2l2.6-2.55l2.6,2.55l-2.6,2.55zM736.6,680.8l2.6-2.55l2.6,2.55l-2.6,2.55zM422.7,644.8l2.6-2.55l2.6,2.55l-2.6,2.55zM441.6,644.8l2.6-2.55l2.6,2.55l-2.6,2.55zM449.6,644.8l2.6-2.55l2.6,2.55l-2.6,2.55zM457.9,644.8l2.6-2.55l2.6,2.55l-2.6,2.55zM458.6,644.8l2.6-2.55l2.6,2.55l-2.6,2.55zM469.5,644.8l2.6-2.55l2.6,2.55l-2.6,2.55zM469.9,644.8l2.6-2.55l2.6,2.55l-2.6,2.55zM481.1,644.8l2.6-2.55l2.6,2.55l-2.6,2.55zM486.3,644.8l2.6-2.55l2.6,2.55l-2.6,2.55zM492.6,644.8l2.6-2.55l2.6,2.55l-2.6,2.55zM496.1,644.8l2.6-2.55l2.6,2.55l-2.6,2.55zM422.7,649.2l2.6-2.55l2.6,2.55l-2.6,2.55zM428.4,649.2l2.6-2.55l2.6,2.55l-2.6,2.55zM434.7,649.2l2.6-2.55l2.6,2.55l-2.6,2.55zM441.0,649.2l2.6-2.55l2.6,2.55l-2.6,2.55zM445.6,649.2l2.6-2.55l2.6,2.55l-2.6,2.55zM447.9,649.2l2.6-2.55l2.6,2.55l-2.6,2.55zM452.5,649.2l2.6-2.55l2.6,2.55l-2.6,2.55zM462.0,649.2l2.6-2.55l2.6,2.55l-2.6,2.55zM469.1,649.2l2.6-2.55l2.6,2.55l-2.6,2.55zM471.4,649.2l2.6-2.55l2.6,2.55l-2.6,2.55zM481.1,649.2l2.6-2.55l2.6,2.55l-2.6,2.55zM487.5,649.2l2.6-2.55l2.6,2.55l-2.6,2.55zM492.6,649.2l2.6-2.55l2.6,2.55l-2.6,2.55zM444.5,653.9l2.6-2.55l2.6,2.55l-2.6,2.55zM448.5,653.9l2.6-2.55l2.6,2.55l-2.6,2.55zM455.7,653.9l2.6-2.55l2.6,2.55l-2.6,2.55zM456.2,653.9l2.6-2.55l2.6,2.55l-2.6,2.55zM461.1,653.9l2.6-2.55l2.6,2.55l-2.6,2.55zM466.8,653.9l2.6-2.55l2.6,2.55l-2.6,2.55zM474.8,653.9l2.6-2.55l2.6,2.55l-2.6,2.55zM477.5,653.9l2.6-2.55l2.6,2.55l-2.6,2.55zM477.9,653.9l2.6-2.55l2.6,2.55l-2.6,2.55zM478.3,653.9l2.6-2.55l2.6,2.55l-2.6,2.55zM480.6,653.9l2.6-2.55l2.6,2.55l-2.6,2.55zM486.3,653.9l2.6-2.55l2.6,2.55l-2.6,2.55zM490.9,653.9l2.6-2.55l2.6,2.55l-2.6,2.55zM423.5,659.2l2.6-2.55l2.6,2.55l-2.6,2.55zM464.2,659.0l2.6-2.55l2.6,2.55l-2.6,2.55zM466.2,659.0l2.6-2.55l2.6,2.55l-2.6,2.55zM470.3,659.0l2.6-2.55l2.6,2.55l-2.6,2.55zM478.1,659.0l2.6-2.55l2.6,2.55l-2.6,2.55zM481.7,659.0l2.6-2.55l2.6,2.55l-2.6,2.55zM489.7,659.0l2.6-2.55l2.6,2.55l-2.6,2.55zM496.1,659.0l2.6-2.55l2.6,2.55l-2.6,2.55zM459.9,664.0l2.6-2.55l2.6,2.55l-2.6,2.55zM473.7,664.0l2.6-2.55l2.6,2.55l-2.6,2.55zM481.7,664.0l2.6-2.55l2.6,2.55l-2.6,2.55zM487.2,664.0l2.6-2.55l2.6,2.55l-2.6,2.55zM487.7,664.0l2.6-2.55l2.6,2.55l-2.6,2.55zM464.6,669.8l2.6-2.55l2.6,2.55l-2.6,2.55zM465.1,669.8l2.6-2.55l2.6,2.55l-2.6,2.55zM472.0,669.8l2.6-2.55l2.6,2.55l-2.6,2.55zM474.8,669.8l2.6-2.55l2.6,2.55l-2.6,2.55zM479.2,669.8l2.6-2.55l2.6,2.55l-2.6,2.55zM451.7,674.8l2.6-2.55l2.6,2.55l-2.6,2.55zM469.7,674.8l2.6-2.55l2.6,2.55l-2.6,2.55zM472.9,674.8l2.6-2.55l2.6,2.55l-2.6,2.55zM473.4,674.8l2.6-2.55l2.6,2.55l-2.6,2.55zM481.7,674.8l2.6-2.55l2.6,2.55l-2.6,2.55zM492.6,674.8l2.6-2.55l2.6,2.55l-2.6,2.55zM461.7,680.8l2.6-2.55l2.6,2.55l-2.6,2.55zM464.2,680.8l2.6-2.55l2.6,2.55l-2.6,2.55zM469.1,680.8l2.6-2.55l2.6,2.55l-2.6,2.55zM475.4,680.8l2.6-2.55l2.6,2.55l-2.6,2.55zM481.7,680.8l2.6-2.55l2.6,2.55l-2.6,2.55zM490.9,680.8l2.6-2.55l2.6,2.55l-2.6,2.55zM457.3,687.6l2.6-2.55l2.6,2.55l-2.6,2.55zM475.4,687.6l2.6-2.55l2.6,2.55l-2.6,2.55zM480.9,687.6l2.6-2.55l2.6,2.55l-2.6,2.55zM495.3,687.6l2.6-2.55l2.6,2.55l-2.6,2.55zM494.3,707.4l2.6-2.55l2.6,2.55l-2.6,2.55zM457.2,571.3l2.6-2.55l2.6,2.55l-2.6,2.55zM476.3,568.9l2.6-2.55l2.6,2.55l-2.6,2.55zM480.0,566.1l2.6-2.55l2.6,2.55l-2.6,2.55zM486.9,568.4l2.6-2.55l2.6,2.55l-2.6,2.55zM490.3,568.7l2.6-2.55l2.6,2.55l-2.6,2.55zM488.9,571.3l2.6-2.55l2.6,2.55l-2.6,2.55zM490.9,574.0l2.6-2.55l2.6,2.55l-2.6,2.55zM495.5,574.0l2.6-2.55l2.6,2.55l-2.6,2.55zM452.8,582.1l2.6-2.55l2.6,2.55l-2.6,2.55zM458.2,584.6l2.6-2.55l2.6,2.55l-2.6,2.55zM453.9,585.3l2.6-2.55l2.6,2.55l-2.6,2.55zM480.9,587.9l2.6-2.55l2.6,2.55l-2.6,2.55zM480.0,593.2l2.6-2.55l2.6,2.55l-2.6,2.55zM479.9,596.2l2.6-2.55l2.6,2.55l-2.6,2.55zM480.1,596.4l2.6-2.55l2.6,2.55l-2.6,2.55zM480.0,600.0l2.6-2.55l2.6,2.55l-2.6,2.55zM492.3,584.5l2.6-2.55l2.6,2.55l-2.6,2.55zM494.6,584.5l2.6-2.55l2.6,2.55l-2.6,2.55zM496.3,583.2l2.6-2.55l2.6,2.55l-2.6,2.55zM494.0,587.9l2.6-2.55l2.6,2.55l-2.6,2.55zM490.9,590.5l2.6-2.55l2.6,2.55l-2.6,2.55zM490.0,594.2l2.6-2.55l2.6,2.55l-2.6,2.55zM455.5,590.5l2.6-2.55l2.6,2.55l-2.6,2.55zM455.8,590.5l2.6-2.55l2.6,2.55l-2.6,2.55zM453.3,589.5l2.6-2.55l2.6,2.55l-2.6,2.55zM462.8,596.3l2.6-2.55l2.6,2.55l-2.6,2.55zM462.8,600.0l2.6-2.55l2.6,2.55l-2.6,2.55zM453.9,596.3l2.6-2.55l2.6,2.55l-2.6,2.55zM456.2,600.0l2.6-2.55l2.6,2.55l-2.6,2.55zM494.0,599.5l2.6-2.55l2.6,2.55l-2.6,2.55zM496.8,597.9l2.6-2.55l2.6,2.55l-2.6,2.55zM497.0,598.0l2.6-2.55l2.6,2.55l-2.6,2.55zM426.7,563.3l2.6-2.55l2.6,2.55l-2.6,2.55zM429.0,561.9l2.6-2.55l2.6,2.55l-2.6,2.55zM425.6,568.7l2.6-2.55l2.6,2.55l-2.6,2.55zM425.8,568.7l2.6-2.55l2.6,2.55l-2.6,2.55zM447.4,566.1l2.6-2.55l2.6,2.55l-2.6,2.55zM435.4,566.1l2.6-2.55l2.6,2.55l-2.6,2.55zM435.6,568.7l2.6-2.55l2.6,2.55l-2.6,2.55zM435.9,568.9l2.6-2.55l2.6,2.55l-2.6,2.55zM441.8,571.5l2.6-2.55l2.6,2.55l-2.6,2.55zM428.0,573.6l2.6-2.55l2.6,2.55l-2.6,2.55zM430.0,573.8l2.6-2.55l2.6,2.55l-2.6,2.55zM431.8,574.1l2.6-2.55l2.6,2.55l-2.6,2.55zM436.4,573.8l2.6-2.55l2.6,2.55l-2.6,2.55zM427.0,576.6l2.6-2.55l2.6,2.55l-2.6,2.55zM431.8,577.1l2.6-2.55l2.6,2.55l-2.6,2.55zM447.9,573.6l2.6-2.55l2.6,2.55l-2.6,2.55zM446.3,575.9l2.6-2.55l2.6,2.55l-2.6,2.55zM444.8,576.4l2.6-2.55l2.6,2.55l-2.6,2.55zM437.7,579.7l2.6-2.55l2.6,2.55l-2.6,2.55zM439.7,579.7l2.6-2.55l2.6,2.55l-2.6,2.55zM423.9,582.0l2.6-2.55l2.6,2.55l-2.6,2.55zM425.2,583.4l2.6-2.55l2.6,2.55l-2.6,2.55zM427.0,582.0l2.6-2.55l2.6,2.55l-2.6,2.55zM425.4,585.3l2.6-2.55l2.6,2.55l-2.6,2.55zM435.1,584.3l2.6-2.55l2.6,2.55l-2.6,2.55zM439.2,583.9l2.6-2.55l2.6,2.55l-2.6,2.55zM443.8,582.0l2.6-2.55l2.6,2.55l-2.6,2.55zM447.9,582.2l2.6-2.55l2.6,2.55l-2.6,2.55zM433.6,588.1l2.6-2.55l2.6,2.55l-2.6,2.55zM436.4,588.1l2.6-2.55l2.6,2.55l-2.6,2.55zM441.5,588.1l2.6-2.55l2.6,2.55l-2.6,2.55zM421.1,590.4l2.6-2.55l2.6,2.55l-2.6,2.55zM424.9,590.9l2.6-2.55l2.6,2.55l-2.6,2.55zM426.5,592.8l2.6-2.55l2.6,2.55l-2.6,2.55zM429.0,594.2l2.6-2.55l2.6,2.55l-2.6,2.55zM427.5,595.6l2.6-2.55l2.6,2.55l-2.6,2.55zM436.7,593.7l2.6-2.55l2.6,2.55l-2.6,2.55zM438.7,594.6l2.6-2.55l2.6,2.55l-2.6,2.55zM440.7,592.8l2.6-2.55l2.6,2.55l-2.6,2.55zM447.4,590.4l2.6-2.55l2.6,2.55l-2.6,2.55zM449.9,589.0l2.6-2.55l2.6,2.55l-2.6,2.55zM451.4,592.8l2.6-2.55l2.6,2.55l-2.6,2.55zM444.8,594.2l2.6-2.55l2.6,2.55l-2.6,2.55zM448.9,595.6l2.6-2.55l2.6,2.55l-2.6,2.55zM419.8,596.0l2.6-2.55l2.6,2.55l-2.6,2.55zM455.6,602.9l2.6-2.55l2.6,2.55l-2.6,2.55zM457.6,606.3l2.6-2.55l2.6,2.55l-2.6,2.55zM459.9,609.8l2.6-2.55l2.6,2.55l-2.6,2.55zM466.0,613.2l2.6-2.55l2.6,2.55l-2.6,2.55zM463.7,616.3l2.6-2.55l2.6,2.55l-2.6,2.55zM456.5,620.5l2.6-2.55l2.6,2.55l-2.6,2.55zM454.8,624.0l2.6-2.55l2.6,2.55l-2.6,2.55zM470.5,604.8l2.6-2.55l2.6,2.55l-2.6,2.55zM473.1,603.7l2.6-2.55l2.6,2.55l-2.6,2.55zM477.4,606.3l2.6-2.55l2.6,2.55l-2.6,2.55zM474.8,609.8l2.6-2.55l2.6,2.55l-2.6,2.55zM479.1,610.0l2.6-2.55l2.6,2.55l-2.6,2.55zM482.9,609.8l2.6-2.55l2.6,2.55l-2.6,2.55zM478.9,612.7l2.6-2.55l2.6,2.55l-2.6,2.55zM484.9,616.6l2.6-2.55l2.6,2.55l-2.6,2.55zM489.2,616.6l2.6-2.55l2.6,2.55l-2.6,2.55zM493.5,613.7l2.6-2.55l2.6,2.55l-2.6,2.55zM474.3,620.5l2.6-2.55l2.6,2.55l-2.6,2.55zM468.8,620.5l2.6-2.55l2.6,2.55l-2.6,2.55zM475.1,624.2l2.6-2.55l2.6,2.55l-2.6,2.55zM484.6,624.0l2.6-2.55l2.6,2.55l-2.6,2.55zM490.6,624.0l2.6-2.55l2.6,2.55l-2.6,2.55zM490.0,620.5l2.6-2.55l2.6,2.55l-2.6,2.55zM476.3,627.9l2.6-2.55l2.6,2.55l-2.6,2.55zM481.7,627.9l2.6-2.55l2.6,2.55l-2.6,2.55zM489.5,627.9l2.6-2.55l2.6,2.55l-2.6,2.55zM494.3,628.2l2.6-2.55l2.6,2.55l-2.6,2.55zM470.0,627.9l2.6-2.55l2.6,2.55l-2.6,2.55zM462.5,628.2l2.6-2.55l2.6,2.55l-2.6,2.55zM469.7,631.6l2.6-2.55l2.6,2.55l-2.6,2.55zM465.7,631.9l2.6-2.55l2.6,2.55l-2.6,2.55zM457.9,631.9l2.6-2.55l2.6,2.55l-2.6,2.55zM453.1,631.6l2.6-2.55l2.6,2.55l-2.6,2.55zM484.3,631.6l2.6-2.55l2.6,2.55l-2.6,2.55zM490.0,631.6l2.6-2.55l2.6,2.55l-2.6,2.55zM478.9,635.5l2.6-2.55l2.6,2.55l-2.6,2.55zM484.9,635.8l2.6-2.55l2.6,2.55l-2.6,2.55zM486.6,635.8l2.6-2.55l2.6,2.55l-2.6,2.55zM489.7,635.8l2.6-2.55l2.6,2.55l-2.6,2.55zM494.3,635.8l2.6-2.55l2.6,2.55l-2.6,2.55zM465.4,640.6l2.6-2.55l2.6,2.55l-2.6,2.55zM474.3,640.6l2.6-2.55l2.6,2.55l-2.6,2.55zM484.6,640.6l2.6-2.55l2.6,2.55l-2.6,2.55zM494.9,640.6l2.6-2.55l2.6,2.55l-2.6,2.55zM458.5,640.6l2.6-2.55l2.6,2.55l-2.6,2.55zM455.1,640.6l2.6-2.55l2.6,2.55l-2.6,2.55zM454.8,635.5l2.6-2.55l2.6,2.55l-2.6,2.55zM467.7,635.0l2.6-2.55l2.6,2.55l-2.6,2.55zM468.5,639.0l2.6-2.55l2.6,2.55l-2.6,2.55zM453.3,606.6l2.6-2.55l2.6,2.55l-2.6,2.55zM455.6,609.8l2.6-2.55l2.6,2.55l-2.6,2.55zM453.9,613.4l2.6-2.55l2.6,2.55l-2.6,2.55zM457.9,614.5l2.6-2.55l2.6,2.55l-2.6,2.55zM461.4,613.4l2.6-2.55l2.6,2.55l-2.6,2.55zM453.3,617.1l2.6-2.55l2.6,2.55l-2.6,2.55zM486.6,617.1l2.6-2.55l2.6,2.55l-2.6,2.55zM491.8,616.6l2.6-2.55l2.6,2.55l-2.6,2.55zM495.8,616.6l2.6-2.55l2.6,2.55l-2.6,2.55zM454.5,632.9l2.6-2.55l2.6,2.55l-2.6,2.55zM457.4,635.0l2.6-2.55l2.6,2.55l-2.6,2.55zM459.7,633.4l2.6-2.55l2.6,2.55l-2.6,2.55zM470.5,631.3l2.6-2.55l2.6,2.55l-2.6,2.55zM495.8,609.2l2.6-2.55l2.6,2.55l-2.6,2.55zM494.6,610.8l2.6-2.55l2.6,2.55l-2.6,2.55zM484.3,604.5l2.6-2.55l2.6,2.55l-2.6,2.55zM487.7,601.6l2.6-2.55l2.6,2.55l-2.6,2.55zM469.4,631.8l2.6-2.55l2.6,2.55l-2.6,2.55zM490.2,631.8l2.6-2.55l2.6,2.55l-2.6,2.55zM484.9,616.8l2.6-2.55l2.6,2.55l-2.6,2.55zM422.0,600.2l2.6-2.55l2.6,2.55l-2.6,2.55zM424.5,603.4l2.6-2.55l2.6,2.55l-2.6,2.55zM422.2,591.0l2.6-2.55l2.6,2.55l-2.6,2.55zM423.4,613.5l2.6-2.55l2.6,2.55l-2.6,2.55zM423.7,613.5l2.6-2.55l2.6,2.55l-2.6,2.55zM423.2,613.6l2.6-2.55l2.6,2.55l-2.6,2.55zM421.2,591.0l2.6-2.55l2.6,2.55l-2.6,2.55zM425.0,594.0l2.6-2.55l2.6,2.55l-2.6,2.55zM422.1,591.0l2.6-2.55l2.6,2.55l-2.6,2.55zM421.9,606.7l2.6-2.55l2.6,2.55l-2.6,2.55zM422.4,606.5l2.6-2.55l2.6,2.55l-2.6,2.55zM422.2,591.0l2.6-2.55l2.6,2.55l-2.6,2.55zM421.4,579.8l2.6-2.55l2.6,2.55l-2.6,2.55zM422.6,582.5l2.6-2.55l2.6,2.55l-2.6,2.55zM422.4,597.1l2.6-2.55l2.6,2.55l-2.6,2.55zM422.6,582.5l2.6-2.55l2.6,2.55l-2.6,2.55zM423.8,600.2l2.6-2.55l2.6,2.55l-2.6,2.55zM423.7,600.1l2.6-2.55l2.6,2.55l-2.6,2.55zM421.9,606.7l2.6-2.55l2.6,2.55l-2.6,2.55zM424.8,600.2l2.6-2.55l2.6,2.55l-2.6,2.55zM425.4,600.4l2.6-2.55l2.6,2.55l-2.6,2.55zM424.9,600.2l2.6-2.55l2.6,2.55l-2.6,2.55zM424.5,600.4l2.6-2.55l2.6,2.55l-2.6,2.55zM423.8,610.1l2.6-2.55l2.6,2.55l-2.6,2.55zM421.1,594.0l2.6-2.55l2.6,2.55l-2.6,2.55zM422.4,594.0l2.6-2.55l2.6,2.55l-2.6,2.55zM421.1,620.8l2.6-2.55l2.6,2.55l-2.6,2.55zM423.9,606.7l2.6-2.55l2.6,2.55l-2.6,2.55zM424.8,606.7l2.6-2.55l2.6,2.55l-2.6,2.55zM424.0,585.3l2.6-2.55l2.6,2.55l-2.6,2.55zM426.2,610.1l2.6-2.55l2.6,2.55l-2.6,2.55zM428.6,628.5l2.6-2.55l2.6,2.55l-2.6,2.55zM428.1,628.4l2.6-2.55l2.6,2.55l-2.6,2.55zM426.5,624.6l2.6-2.55l2.6,2.55l-2.6,2.55zM429.0,582.5l2.6-2.55l2.6,2.55l-2.6,2.55zM428.6,600.2l2.6-2.55l2.6,2.55l-2.6,2.55zM428.0,597.1l2.6-2.55l2.6,2.55l-2.6,2.55zM431.1,617.1l2.6-2.55l2.6,2.55l-2.6,2.55zM428.6,579.8l2.6-2.55l2.6,2.55l-2.6,2.55zM429.6,603.4l2.6-2.55l2.6,2.55l-2.6,2.55zM431.4,600.2l2.6-2.55l2.6,2.55l-2.6,2.55zM426.6,606.7l2.6-2.55l2.6,2.55l-2.6,2.55zM427.3,606.9l2.6-2.55l2.6,2.55l-2.6,2.55zM426.1,606.7l2.6-2.55l2.6,2.55l-2.6,2.55zM429.1,597.1l2.6-2.55l2.6,2.55l-2.6,2.55zM429.3,606.7l2.6-2.55l2.6,2.55l-2.6,2.55zM429.2,606.8l2.6-2.55l2.6,2.55l-2.6,2.55zM430.5,613.5l2.6-2.55l2.6,2.55l-2.6,2.55zM431.1,613.7l2.6-2.55l2.6,2.55l-2.6,2.55zM430.9,603.4l2.6-2.55l2.6,2.55l-2.6,2.55zM425.7,600.2l2.6-2.55l2.6,2.55l-2.6,2.55zM425.3,600.1l2.6-2.55l2.6,2.55l-2.6,2.55zM426.5,588.1l2.6-2.55l2.6,2.55l-2.6,2.55zM426.4,579.8l2.6-2.55l2.6,2.55l-2.6,2.55zM432.8,582.5l2.6-2.55l2.6,2.55l-2.6,2.55zM431.9,628.5l2.6-2.55l2.6,2.55l-2.6,2.55zM432.3,597.1l2.6-2.55l2.6,2.55l-2.6,2.55zM433.6,636.6l2.6-2.55l2.6,2.55l-2.6,2.55zM432.4,603.4l2.6-2.55l2.6,2.55l-2.6,2.55zM432.9,624.6l2.6-2.55l2.6,2.55l-2.6,2.55zM435.4,628.5l2.6-2.55l2.6,2.55l-2.6,2.55zM433.7,613.5l2.6-2.55l2.6,2.55l-2.6,2.55zM437.2,610.1l2.6-2.55l2.6,2.55l-2.6,2.55zM437.5,609.9l2.6-2.55l2.6,2.55l-2.6,2.55zM435.2,582.5l2.6-2.55l2.6,2.55l-2.6,2.55zM435.1,582.6l2.6-2.55l2.6,2.55l-2.6,2.55zM432.3,600.2l2.6-2.55l2.6,2.55l-2.6,2.55zM432.5,600.4l2.6-2.55l2.6,2.55l-2.6,2.55zM434.0,636.6l2.6-2.55l2.6,2.55l-2.6,2.55zM436.3,617.1l2.6-2.55l2.6,2.55l-2.6,2.55zM435.7,617.3l2.6-2.55l2.6,2.55l-2.6,2.55zM432.4,597.1l2.6-2.55l2.6,2.55l-2.6,2.55zM431.8,597.3l2.6-2.55l2.6,2.55l-2.6,2.55zM433.3,617.1l2.6-2.55l2.6,2.55l-2.6,2.55zM441.8,579.8l2.6-2.55l2.6,2.55l-2.6,2.55zM440.2,628.5l2.6-2.55l2.6,2.55l-2.6,2.55zM440.6,628.6l2.6-2.55l2.6,2.55l-2.6,2.55zM443.1,594.0l2.6-2.55l2.6,2.55l-2.6,2.55zM443.1,594.2l2.6-2.55l2.6,2.55l-2.6,2.55zM439.1,606.7l2.6-2.55l2.6,2.55l-2.6,2.55zM442.6,594.0l2.6-2.55l2.6,2.55l-2.6,2.55zM443.1,594.1l2.6-2.55l2.6,2.55l-2.6,2.55zM440.4,597.1l2.6-2.55l2.6,2.55l-2.6,2.55zM440.8,597.2l2.6-2.55l2.6,2.55l-2.6,2.55zM442.4,591.0l2.6-2.55l2.6,2.55l-2.6,2.55zM441.3,600.2l2.6-2.55l2.6,2.55l-2.6,2.55zM442.4,603.4l2.6-2.55l2.6,2.55l-2.6,2.55zM443.7,606.7l2.6-2.55l2.6,2.55l-2.6,2.55zM444.1,607.0l2.6-2.55l2.6,2.55l-2.6,2.55zM438.8,617.1l2.6-2.55l2.6,2.55l-2.6,2.55zM438.6,591.0l2.6-2.55l2.6,2.55l-2.6,2.55zM442.6,620.8l2.6-2.55l2.6,2.55l-2.6,2.55zM439.3,606.7l2.6-2.55l2.6,2.55l-2.6,2.55zM439.2,606.4l2.6-2.55l2.6,2.55l-2.6,2.55zM439.9,620.8l2.6-2.55l2.6,2.55l-2.6,2.55zM423.0,613.5l2.6-2.55l2.6,2.55l-2.6,2.55zM424.9,620.8l2.6-2.55l2.6,2.55l-2.6,2.55zM424.7,620.6l2.6-2.55l2.6,2.55l-2.6,2.55zM421.5,632.5l2.6-2.55l2.6,2.55l-2.6,2.55zM421.5,613.5l2.6-2.55l2.6,2.55l-2.6,2.55zM423.1,632.5l2.6-2.55l2.6,2.55l-2.6,2.55zM422.1,624.6l2.6-2.55l2.6,2.55l-2.6,2.55zM422.2,624.6l2.6-2.55l2.6,2.55l-2.6,2.55zM423.3,624.6l2.6-2.55l2.6,2.55l-2.6,2.55zM424.8,617.1l2.6-2.55l2.6,2.55l-2.6,2.55zM424.2,617.4l2.6-2.55l2.6,2.55l-2.6,2.55zM425.1,640.9l2.6-2.55l2.6,2.55l-2.6,2.55zM421.9,628.5l2.6-2.55l2.6,2.55l-2.6,2.55zM431.1,632.5l2.6-2.55l2.6,2.55l-2.6,2.55zM429.1,624.6l2.6-2.55l2.6,2.55l-2.6,2.55zM429.1,624.8l2.6-2.55l2.6,2.55l-2.6,2.55zM430.1,636.6l2.6-2.55l2.6,2.55l-2.6,2.55zM429.8,613.5l2.6-2.55l2.6,2.55l-2.6,2.55zM430.0,632.5l2.6-2.55l2.6,2.55l-2.6,2.55zM430.4,632.3l2.6-2.55l2.6,2.55l-2.6,2.55zM431.1,640.9l2.6-2.55l2.6,2.55l-2.6,2.55zM431.2,628.5l2.6-2.55l2.6,2.55l-2.6,2.55zM435.2,624.6l2.6-2.55l2.6,2.55l-2.6,2.55zM435.7,624.7l2.6-2.55l2.6,2.55l-2.6,2.55zM435.7,640.9l2.6-2.55l2.6,2.55l-2.6,2.55zM434.2,620.8l2.6-2.55l2.6,2.55l-2.6,2.55zM433.7,617.1l2.6-2.55l2.6,2.55l-2.6,2.55zM433.8,617.3l2.6-2.55l2.6,2.55l-2.6,2.55zM432.0,597.1l2.6-2.55l2.6,2.55l-2.6,2.55zM432.8,597.1l2.6-2.55l2.6,2.55l-2.6,2.55zM434.9,613.5l2.6-2.55l2.6,2.55l-2.6,2.55zM435.0,613.6l2.6-2.55l2.6,2.55l-2.6,2.55zM443.7,636.6l2.6-2.55l2.6,2.55l-2.6,2.55zM441.8,636.6l2.6-2.55l2.6,2.55l-2.6,2.55zM442.0,636.5l2.6-2.55l2.6,2.55l-2.6,2.55zM439.1,628.5l2.6-2.55l2.6,2.55l-2.6,2.55zM439.0,628.6l2.6-2.55l2.6,2.55l-2.6,2.55zM442.3,640.9l2.6-2.55l2.6,2.55l-2.6,2.55zM449.3,600.2l2.6-2.55l2.6,2.55l-2.6,2.55zM446.7,594.0l2.6-2.55l2.6,2.55l-2.6,2.55zM446.5,632.5l2.6-2.55l2.6,2.55l-2.6,2.55zM449.1,632.5l2.6-2.55l2.6,2.55l-2.6,2.55zM444.4,606.7l2.6-2.55l2.6,2.55l-2.6,2.55zM447.8,632.5l2.6-2.55l2.6,2.55l-2.6,2.55zM448.4,600.2l2.6-2.55l2.6,2.55l-2.6,2.55zM445.3,594.0l2.6-2.55l2.6,2.55l-2.6,2.55zM450.4,640.9l2.6-2.55l2.6,2.55l-2.6,2.55zM450.1,603.4l2.6-2.55l2.6,2.55l-2.6,2.55zM445.8,606.7l2.6-2.55l2.6,2.55l-2.6,2.55zM448.5,640.9l2.6-2.55l2.6,2.55l-2.6,2.55zM446.1,628.5l2.6-2.55l2.6,2.55l-2.6,2.55zM446.0,628.6l2.6-2.55l2.6,2.55l-2.6,2.55zM449.3,636.6l2.6-2.55l2.6,2.55l-2.6,2.55zM447.6,632.5l2.6-2.55l2.6,2.55l-2.6,2.55zM454.8,624.6l2.6-2.55l2.6,2.55l-2.6,2.55zM450.8,636.6l2.6-2.55l2.6,2.55l-2.6,2.55zM451.0,636.6l2.6-2.55l2.6,2.55l-2.6,2.55zM454.4,617.1l2.6-2.55l2.6,2.55l-2.6,2.55zM456.4,620.8l2.6-2.55l2.6,2.55l-2.6,2.55zM455.8,620.7l2.6-2.55l2.6,2.55l-2.6,2.55zM455.3,640.9l2.6-2.55l2.6,2.55l-2.6,2.55zM455.0,641.1l2.6-2.55l2.6,2.55l-2.6,2.55zM452.6,613.5l2.6-2.55l2.6,2.55l-2.6,2.55zM454.4,613.5l2.6-2.55l2.6,2.55l-2.6,2.55zM454.1,613.8l2.6-2.55l2.6,2.55l-2.6,2.55zM450.6,628.5l2.6-2.55l2.6,2.55l-2.6,2.55zM450.5,628.2l2.6-2.55l2.6,2.55l-2.6,2.55zM453.3,606.7l2.6-2.55l2.6,2.55l-2.6,2.55zM451.4,632.5l2.6-2.55l2.6,2.55l-2.6,2.55zM454.2,603.4l2.6-2.55l2.6,2.55l-2.6,2.55zM458.8,628.5l2.6-2.55l2.6,2.55l-2.6,2.55zM461.4,606.7l2.6-2.55l2.6,2.55l-2.6,2.55zM460.9,606.6l2.6-2.55l2.6,2.55l-2.6,2.55zM459.5,617.1l2.6-2.55l2.6,2.55l-2.6,2.55zM458.4,606.7l2.6-2.55l2.6,2.55l-2.6,2.55zM457.5,610.1l2.6-2.55l2.6,2.55l-2.6,2.55zM461.1,628.5l2.6-2.55l2.6,2.55l-2.6,2.55zM461.3,617.1l2.6-2.55l2.6,2.55l-2.6,2.55zM459.5,617.1l2.6-2.55l2.6,2.55l-2.6,2.55zM459.0,617.0l2.6-2.55l2.6,2.55l-2.6,2.55zM466.1,636.6l2.6-2.55l2.6,2.55l-2.6,2.55zM465.3,632.5l2.6-2.55l2.6,2.55l-2.6,2.55zM465.8,632.5l2.6-2.55l2.6,2.55l-2.6,2.55zM465.4,624.6l2.6-2.55l2.6,2.55l-2.6,2.55zM468.0,636.6l2.6-2.55l2.6,2.55l-2.6,2.55zM467.5,636.6l2.6-2.55l2.6,2.55l-2.6,2.55zM468.7,617.1l2.6-2.55l2.6,2.55l-2.6,2.55zM469.3,617.3l2.6-2.55l2.6,2.55l-2.6,2.55zM463.2,617.1l2.6-2.55l2.6,2.55l-2.6,2.55zM467.6,606.7l2.6-2.55l2.6,2.55l-2.6,2.55zM469.1,628.5l2.6-2.55l2.6,2.55l-2.6,2.55zM464.9,640.9l2.6-2.55l2.6,2.55l-2.6,2.55zM473.4,636.6l2.6-2.55l2.6,2.55l-2.6,2.55zM473.0,636.4l2.6-2.55l2.6,2.55l-2.6,2.55zM470.6,636.6l2.6-2.55l2.6,2.55l-2.6,2.55zM472.9,620.8l2.6-2.55l2.6,2.55l-2.6,2.55zM473.9,636.6l2.6-2.55l2.6,2.55l-2.6,2.55zM470.8,640.9l2.6-2.55l2.6,2.55l-2.6,2.55zM469.6,620.8l2.6-2.55l2.6,2.55l-2.6,2.55zM475.4,636.6l2.6-2.55l2.6,2.55l-2.6,2.55zM471.6,636.6l2.6-2.55l2.6,2.55l-2.6,2.55zM471.6,628.5l2.6-2.55l2.6,2.55l-2.6,2.55zM472.0,628.5l2.6-2.55l2.6,2.55l-2.6,2.55zM473.4,624.6l2.6-2.55l2.6,2.55l-2.6,2.55zM473.1,624.5l2.6-2.55l2.6,2.55l-2.6,2.55zM471.2,632.5l2.6-2.55l2.6,2.55l-2.6,2.55zM471.6,632.6l2.6-2.55l2.6,2.55l-2.6,2.55zM471.1,632.5l2.6-2.55l2.6,2.55l-2.6,2.55zM479.1,636.6l2.6-2.55l2.6,2.55l-2.6,2.55zM476.7,636.6l2.6-2.55l2.6,2.55l-2.6,2.55zM479.9,620.8l2.6-2.55l2.6,2.55l-2.6,2.55zM479.1,620.8l2.6-2.55l2.6,2.55l-2.6,2.55zM477.6,606.7l2.6-2.55l2.6,2.55l-2.6,2.55zM479.5,628.5l2.6-2.55l2.6,2.55l-2.6,2.55zM479.0,628.2l2.6-2.55l2.6,2.55l-2.6,2.55zM476.3,632.5l2.6-2.55l2.6,2.55l-2.6,2.55zM476.9,632.4l2.6-2.55l2.6,2.55l-2.6,2.55zM475.6,636.6l2.6-2.55l2.6,2.55l-2.6,2.55zM475.9,636.8l2.6-2.55l2.6,2.55l-2.6,2.55zM480.4,620.8l2.6-2.55l2.6,2.55l-2.6,2.55zM481.0,621.1l2.6-2.55l2.6,2.55l-2.6,2.55zM475.5,603.4l2.6-2.55l2.6,2.55l-2.6,2.55zM484.9,620.8l2.6-2.55l2.6,2.55l-2.6,2.55zM483.1,606.7l2.6-2.55l2.6,2.55l-2.6,2.55zM485.1,624.6l2.6-2.55l2.6,2.55l-2.6,2.55zM482.1,632.5l2.6-2.55l2.6,2.55l-2.6,2.55zM484.1,632.5l2.6-2.55l2.6,2.55l-2.6,2.55zM483.6,617.1l2.6-2.55l2.6,2.55l-2.6,2.55zM485.1,636.6l2.6-2.55l2.6,2.55l-2.6,2.55zM484.7,636.7l2.6-2.55l2.6,2.55l-2.6,2.55zM487.2,620.8l2.6-2.55l2.6,2.55l-2.6,2.55zM483.6,632.5l2.6-2.55l2.6,2.55l-2.6,2.55zM493.8,636.6l2.6-2.55l2.6,2.55l-2.6,2.55zM493.2,636.5l2.6-2.55l2.6,2.55l-2.6,2.55zM491.7,636.6l2.6-2.55l2.6,2.55l-2.6,2.55zM491.9,636.5l2.6-2.55l2.6,2.55l-2.6,2.55zM494.0,632.5l2.6-2.55l2.6,2.55l-2.6,2.55zM493.3,632.5l2.6-2.55l2.6,2.55l-2.6,2.55zM490.4,624.6l2.6-2.55l2.6,2.55l-2.6,2.55zM492.8,606.7l2.6-2.55l2.6,2.55l-2.6,2.55zM492.5,632.5l2.6-2.55l2.6,2.55l-2.6,2.55zM495.5,628.5l2.6-2.55l2.6,2.55l-2.6,2.55zM494.5,636.6l2.6-2.55l2.6,2.55l-2.6,2.55zM743.2,456.9l2.6-2.55l2.6,2.55l-2.6,2.55zM742.6,456.6l2.6-2.55l2.6,2.55l-2.6,2.55zM742.9,457.2l2.6-2.55l2.6,2.55l-2.6,2.55zM743.0,518.5l2.6-2.55l2.6,2.55l-2.6,2.55zM742.4,518.3l2.6-2.55l2.6,2.55l-2.6,2.55zM742.7,518.8l2.6-2.55l2.6,2.55l-2.6,2.55z" fill="none" stroke="#000" stroke-width="1.08" stroke-linejoin="miter"/>
<path d="M423.3,603.2 L424.0,603.1 L424.6,602.9 L425.3,602.7 L426.0,602.4 L426.6,602.1 L427.3,601.8 L428.0,601.5 L428.6,601.2 L429.3,600.9 L430.0,600.6 L430.6,600.3 L431.3,600.0 L432.0,599.7 L432.6,599.4 L433.3,599.1 L434.0,598.9 L434.6,598.7 L435.3,598.5 L435.9,598.4 L436.6,598.3 L437.3,598.3 L437.9,598.3 L438.6,598.4 L439.3,598.6 L439.9,598.8 L440.6,599.0 L441.3,599.4 L441.9,599.8 L442.6,600.3 L443.3,600.9 L443.9,601.6 L444.6,602.4 L445.3,603.3 L445.9,604.3 L446.6,605.3 L447.3,606.5 L447.9,607.7 L448.6,608.9 L449.3,610.2 L449.9,611.5 L450.6,612.9 L451.3,614.2 L451.9,615.6 L452.6,617.0 L453.3,618.3 L453.9,619.7 L454.6,621.0 L455.3,622.3 L455.9,623.6 L456.6,624.8 L457.2,625.9 L457.9,627.0 L458.6,628.0 L459.2,628.9 L459.9,629.7 L460.6,630.5 L461.2,631.2 L461.9,631.8 L462.6,632.4 L463.2,632.9 L463.9,633.4 L464.6,633.8 L465.2,634.1 L465.9,634.4 L466.6,634.6 L467.2,634.8 L467.9,635.0 L468.6,635.1 L469.2,635.2 L469.9,635.3 L470.6,635.3 L471.2,635.3 L471.9,635.3 L472.6,635.2 L473.2,635.2 L473.9,635.1 L474.6,635.0 L475.2,634.9 L475.9,634.8 L476.6,634.8 L477.2,634.7 L477.9,634.6 L478.5,634.5 L479.2,634.4 L479.9,634.3 L480.5,634.3 L481.2,634.2 L481.9,634.2 L482.5,634.1 L483.2,634.0 L483.9,634.0 L484.5,633.9 L485.2,633.8 L485.9,633.6 L486.5,633.5 L487.2,633.3 L487.9,633.1 L488.5,632.9 L489.2,632.6 L489.9,632.3 L490.5,632.0 L491.2,631.6 L491.9,631.2 L492.5,630.7 L493.2,630.2 L493.9,629.6 L494.5,629.0 L495.2,628.3 L495.9,627.6 L496.5,626.8 L497.2,626.0 L497.9,625.2 L498.5,624.3 L499.2,623.4 L499.9,622.4 L500.5,621.4 L501.2,620.4 L501.8,619.4 L502.5,618.3 L503.2,617.2 L503.8,616.0 L504.5,614.9 L505.2,613.7 L505.8,612.5 L506.5,611.2 L507.2,610.0 L507.8,608.7 L508.5,607.5 L509.2,606.2 L509.8,604.9 L510.5,603.6 L511.2,602.3 L511.8,600.9 L512.5,599.6 L513.2,598.3 L513.8,596.9 L514.5,595.6 L515.2,594.3 L515.8,593.0 L516.5,591.6 L517.2,590.3 L517.8,589.0 L518.5,587.7 L519.2,586.4 L519.8,585.2 L520.5,583.9 L521.2,582.7 L521.8,581.5 L522.5,580.3 L523.1,579.1 L523.8,577.9 L524.5,576.8 L525.1,575.7 L525.8,574.6 L526.5,573.6 L527.1,572.6 L527.8,571.6 L528.5,570.6 L529.1,569.7 L529.8,568.8 L530.5,568.0 L531.1,567.1 L531.8,566.3 L532.5,565.6 L533.1,564.8 L533.8,564.1 L534.5,563.4 L535.1,562.7 L535.8,562.1 L536.5,561.4 L537.1,560.8 L537.8,560.3 L538.5,559.7 L539.1,559.2 L539.8,558.7 L540.5,558.2 L541.1,557.7 L541.8,557.2 L542.5,556.8 L543.1,556.4 L543.8,556.0 L544.4,555.6 L545.1,555.2 L545.8,554.8 L546.4,554.5 L547.1,554.1 L547.8,553.8 L548.4,553.5 L549.1,553.2 L549.8,552.9 L550.4,552.6 L551.1,552.4 L551.8,552.1 L552.4,551.8 L553.1,551.6 L553.8,551.3 L554.4,551.1 L555.1,550.9 L555.8,550.6 L556.4,550.4 L557.1,550.2 L557.8,550.0 L558.4,549.8 L559.1,549.6 L559.8,549.4 L560.4,549.2 L561.1,549.0 L561.8,548.8 L562.4,548.6 L563.1,548.4 L563.8,548.2 L564.4,548.0 L565.1,547.9 L565.8,547.7 L566.4,547.5 L567.1,547.4 L567.7,547.2 L568.4,547.0 L569.1,546.9 L569.7,546.7 L570.4,546.6 L571.1,546.4 L571.7,546.3 L572.4,546.1 L573.1,546.0 L573.7,545.8 L574.4,545.7 L575.1,545.6 L575.7,545.4 L576.4,545.3 L577.1,545.2 L577.7,545.0 L578.4,544.9 L579.1,544.8 L579.7,544.6 L580.4,544.5 L581.1,544.4 L581.7,544.2 L582.4,544.1 L583.1,544.0 L583.7,543.8 L584.4,543.7 L585.1,543.6 L585.7,543.5 L586.4,543.3 L587.1,543.2 L587.7,543.1 L588.4,542.9 L589.0,542.8 L589.7,542.7 L590.4,542.5 L591.0,542.4 L591.7,542.3 L592.4,542.1 L593.0,542.0 L593.7,541.8 L594.4,541.7 L595.0,541.6 L595.7,541.4 L596.4,541.3 L597.0,541.1 L597.7,541.0 L598.4,540.8 L599.0,540.7 L599.7,540.5 L600.4,540.3 L601.0,540.2 L601.7,540.0 L602.4,539.8 L603.0,539.7 L603.7,539.5 L604.4,539.3 L605.0,539.1 L605.7,538.9 L606.4,538.8 L607.0,538.6 L607.7,538.4 L608.4,538.2 L609.0,538.0 L609.7,537.8 L610.3,537.5 L611.0,537.3 L611.7,537.1 L612.3,536.9 L613.0,536.7 L613.7,536.4 L614.3,536.2 L615.0,535.9 L615.7,535.7 L616.3,535.5 L617.0,535.2 L617.7,535.0 L618.3,534.7 L619.0,534.5 L619.7,534.2 L620.3,534.0 L621.0,533.8 L621.7,533.5 L622.3,533.3 L623.0,533.0 L623.7,532.8 L624.3,532.6 L625.0,532.4 L625.7,532.1 L626.3,531.9 L627.0,531.7 L627.7,531.5 L628.3,531.3 L629.0,531.1 L629.7,530.9 L630.3,530.7 L631.0,530.5 L631.7,530.4 L632.3,530.2 L633.0,530.0 L633.6,529.9 L634.3,529.7 L635.0,529.6 L635.6,529.5 L636.3,529.4 L637.0,529.3 L637.6,529.2 L638.3,529.1 L639.0,529.1 L639.6,529.0 L640.3,528.9 L641.0,528.9 L641.6,528.9 L642.3,528.8 L643.0,528.8 L643.6,528.8 L644.3,528.8 L645.0,528.8 L645.6,528.9 L646.3,528.9 L647.0,528.9 L647.6,529.0 L648.3,529.0 L649.0,529.1 L649.6,529.1 L650.3,529.2 L651.0,529.3 L651.6,529.4 L652.3,529.5 L653.0,529.6 L653.6,529.7 L654.3,529.8 L654.9,529.9 L655.6,530.0 L656.3,530.1 L656.9,530.2 L657.6,530.4 L658.3,530.5 L658.9,530.7 L659.6,530.8 L660.3,530.9 L660.9,531.1 L661.6,531.3 L662.3,531.4 L662.9,531.6 L663.6,531.7 L664.3,531.9 L664.9,532.1 L665.6,532.3 L666.3,532.4 L666.9,532.6 L667.6,532.8 L668.3,533.0 L668.9,533.1 L669.6,533.3 L670.3,533.5 L670.9,533.7 L671.6,533.9 L672.3,534.1 L672.9,534.3 L673.6,534.4 L674.3,534.6 L674.9,534.8 L675.6,535.0 L676.2,535.2 L676.9,535.4 L677.6,535.5 L678.2,535.7 L678.9,535.9 L679.6,536.1 L680.2,536.3 L680.9,536.4 L681.6,536.6 L682.2,536.8 L682.9,536.9 L683.6,537.1 L684.2,537.3 L684.9,537.4 L685.6,537.6 L686.2,537.7 L686.9,537.9 L687.6,538.0 L688.2,538.2 L688.9,538.3 L689.6,538.4 L690.2,538.6 L690.9,538.7 L691.6,538.8 L692.2,538.9 L692.9,539.0 L693.6,539.1 L694.2,539.2 L694.9,539.4 L695.6,539.5 L696.2,539.6 L696.9,539.6 L697.6,539.7 L698.2,539.8 L698.9,539.9 L699.5,540.0 L700.2,540.1 L700.9,540.2 L701.5,540.2 L702.2,540.3 L702.9,540.4 L703.5,540.5 L704.2,540.5 L704.9,540.6 L705.5,540.7 L706.2,540.7 L706.9,540.8 L707.5,540.9 L708.2,540.9 L708.9,541.0 L709.5,541.1 L710.2,541.1 L710.9,541.2 L711.5,541.2 L712.2,541.3 L712.9,541.4 L713.5,541.4 L714.2,541.5 L714.9,541.6 L715.5,541.7 L716.2,541.8 L716.9,542.0 L717.5,542.3 L718.2,542.6 L718.9,542.9 L719.5,543.4 L720.2,543.8 L720.8,544.3 L721.5,544.9 L722.2,545.5 L722.8,546.1 L723.5,546.6 L724.2,547.2 L724.8,547.8 L725.5,548.4 L726.2,548.9 L726.8,549.4 L727.5,549.9 L728.2,550.3 L728.8,550.6 L729.5,550.9 L730.2,551.1 L730.8,551.2 L731.5,551.2 L732.2,551.1 L732.8,550.9 L733.5,550.6 L734.2,550.1 L734.8,549.4 L735.5,548.5 L736.2,547.4 L736.8,546.0 L737.5,544.4 L738.2,542.4 L738.8,540.1 L739.5,537.5 L740.2,534.6 L740.8,531.2 L741.5,527.5 L742.1,523.6 L742.8,519.9 L743.5,516.6 L744.1,514.1 L744.8,512.7 L745.5,512.7" fill="none" stroke="#000" stroke-width="1.9" stroke-linejoin="round" />
<path d="M422.6,604.4 L423.3,604.3 L423.9,604.1 L424.6,603.9 L425.3,603.6 L425.9,603.3 L426.6,603.0 L427.3,602.6 L427.9,602.2 L428.6,601.8 L429.3,601.3 L429.9,600.9 L430.6,600.5 L431.3,600.1 L431.9,599.6 L432.6,599.2 L433.3,598.9 L433.9,598.5 L434.6,598.2 L435.3,597.9 L435.9,597.7 L436.6,597.5 L437.3,597.4 L437.9,597.3 L438.6,597.3 L439.2,597.4 L439.9,597.5 L440.6,597.7 L441.2,598.1 L441.9,598.5 L442.6,599.0 L443.2,599.6 L443.9,600.3 L444.6,601.1 L445.2,602.1 L445.9,603.2 L446.6,604.3 L447.2,605.5 L447.9,606.8 L448.6,608.2 L449.2,609.6 L449.9,611.1 L450.6,612.6 L451.2,614.1 L451.9,615.6 L452.6,617.1 L453.2,618.6 L453.9,620.1 L454.6,621.6 L455.2,623.0 L455.9,624.3 L456.5,625.6 L457.2,626.7 L457.9,627.8 L458.5,628.8 L459.2,629.7 L459.9,630.5 L460.5,631.3 L461.2,631.9 L461.9,632.4 L462.5,632.9 L463.2,633.3 L463.9,633.6 L464.5,633.9 L465.2,634.2 L465.9,634.4 L466.5,634.5 L467.2,634.6 L467.9,634.7 L468.5,634.8 L469.2,634.8 L469.9,634.9 L470.5,634.9 L471.2,634.9 L471.9,635.0 L472.5,635.0 L473.2,635.1 L473.8,635.2 L474.5,635.3 L475.2,635.3 L475.8,635.4 L476.5,635.5 L477.2,635.6 L477.8,635.6 L478.5,635.7 L479.2,635.7 L479.8,635.7 L480.5,635.7 L481.2,635.7 L481.8,635.7 L482.5,635.6 L483.2,635.5 L483.8,635.4 L484.5,635.2 L485.2,635.0 L485.8,634.7 L486.5,634.5 L487.2,634.1 L487.8,633.8 L488.5,633.3 L489.1,632.9 L489.8,632.4 L490.5,631.9 L491.1,631.3 L491.8,630.7 L492.5,630.1 L493.1,629.5 L493.8,628.8 L494.5,628.1 L495.1,627.3 L495.8,626.5 L496.5,625.7 L497.1,624.9 L497.8,624.0 L498.5,623.1 L499.1,622.2 L499.8,621.3 L500.5,620.3 L501.1,619.3 L501.8,618.3 L502.5,617.3 L503.1,616.3 L503.8,615.2 L504.5,614.1 L505.1,613.0 L505.8,611.9 L506.4,610.8 L507.1,609.7 L507.8,608.5 L508.4,607.3 L509.1,606.2 L509.8,605.0 L510.4,603.8 L511.1,602.6 L511.8,601.4 L512.4,600.2 L513.1,598.9 L513.8,597.7 L514.4,596.5 L515.1,595.3 L515.8,594.0 L516.4,592.8 L517.1,591.5 L517.8,590.3 L518.4,589.1 L519.1,587.9 L519.8,586.6 L520.4,585.4 L521.1,584.2 L521.8,583.0 L522.4,581.8 L523.1,580.6 L523.7,579.4 L524.4,578.3 L525.1,577.1 L525.7,576.0 L526.4,574.9 L527.1,573.8 L527.7,572.7 L528.4,571.6 L529.1,570.5 L529.7,569.5 L530.4,568.5 L531.1,567.5 L531.7,566.5 L532.4,565.6 L533.1,564.7 L533.7,563.8 L534.4,562.9 L535.1,562.1 L535.7,561.3 L536.4,560.5 L537.1,559.8 L537.7,559.0 L538.4,558.4 L539.1,557.7 L539.7,557.1 L540.4,556.5 L541.0,556.0 L541.7,555.5 L542.4,555.0 L543.0,554.6 L543.7,554.2 L544.4,553.8 L545.0,553.5 L545.7,553.2 L546.4,552.9 L547.0,552.6 L547.7,552.4 L548.4,552.2 L549.0,552.0 L549.7,551.8 L550.4,551.6 L551.0,551.5 L551.7,551.4 L552.4,551.3 L553.0,551.2 L553.7,551.1 L554.4,551.0 L555.0,550.9 L555.7,550.9 L556.4,550.8 L557.0,550.8 L557.7,550.7 L558.3,550.7 L559.0,550.6 L559.7,550.6 L560.3,550.5 L561.0,550.4 L561.7,550.4 L562.3,550.3 L563.0,550.2 L563.7,550.1 L564.3,550.1 L565.0,550.0 L565.7,549.9 L566.3,549.8 L567.0,549.7 L567.7,549.6 L568.3,549.5 L569.0,549.3 L569.7,549.2 L570.3,549.1 L571.0,549.0 L571.7,548.8 L572.3,548.7 L573.0,548.6 L573.7,548.4 L574.3,548.3 L575.0,548.1 L575.6,548.0 L576.3,547.8 L577.0,547.7 L577.6,547.5 L578.3,547.4 L579.0,547.2 L579.6,547.0 L580.3,546.8 L581.0,546.7 L581.6,546.5 L582.3,546.3 L583.0,546.1 L583.6,545.9 L584.3,545.7 L585.0,545.6 L585.6,545.4 L586.3,545.2 L587.0,545.0 L587.6,544.8 L588.3,544.6 L589.0,544.3 L589.6,544.1 L590.3,543.9 L591.0,543.7 L591.6,543.5 L592.3,543.3 L592.9,543.0 L593.6,542.8 L594.3,542.6 L594.9,542.4 L595.6,542.1 L596.3,541.9 L596.9,541.7 L597.6,541.4 L598.3,541.2 L598.9,541.0 L599.6,540.7 L600.3,540.5 L600.9,540.3 L601.6,540.0 L602.3,539.8 L602.9,539.5 L603.6,539.3 L604.3,539.0 L604.9,538.8 L605.6,538.5 L606.3,538.3 L606.9,538.0 L607.6,537.8 L608.3,537.5 L608.9,537.3 L609.6,537.0 L610.2,536.7 L610.9,536.5 L611.6,536.2 L612.2,536.0 L612.9,535.7 L613.6,535.4 L614.2,535.2 L614.9,534.9 L615.6,534.7 L616.2,534.4 L616.9,534.2 L617.6,533.9 L618.2,533.7 L618.9,533.4 L619.6,533.2 L620.2,532.9 L620.9,532.7 L621.6,532.5 L622.2,532.2 L622.9,532.0 L623.6,531.8 L624.2,531.6 L624.9,531.3 L625.6,531.1 L626.2,530.9 L626.9,530.7 L627.5,530.5 L628.2,530.4 L628.9,530.2 L629.5,530.0 L630.2,529.8 L630.9,529.7 L631.5,529.5 L632.2,529.4 L632.9,529.2 L633.5,529.1 L634.2,529.0 L634.9,528.9 L635.5,528.8 L636.2,528.7 L636.9,528.6 L637.5,528.5 L638.2,528.5 L638.9,528.4 L639.5,528.4 L640.2,528.3 L640.9,528.3 L641.5,528.3 L642.2,528.3 L642.9,528.3 L643.5,528.3 L644.2,528.3 L644.8,528.3 L645.5,528.4 L646.2,528.4 L646.8,528.4 L647.5,528.5 L648.2,528.5 L648.8,528.6 L649.5,528.7 L650.2,528.8 L650.8,528.8 L651.5,528.9 L652.2,529.0 L652.8,529.1 L653.5,529.2 L654.2,529.4 L654.8,529.5 L655.5,529.6 L656.2,529.7 L656.8,529.9 L657.5,530.0 L658.2,530.1 L658.8,530.3 L659.5,530.4 L660.2,530.6 L660.8,530.7 L661.5,530.9 L662.1,531.1 L662.8,531.2 L663.5,531.4 L664.1,531.6 L664.8,531.8 L665.5,531.9 L666.1,532.1 L666.8,532.3 L667.5,532.5 L668.1,532.7 L668.8,532.9 L669.5,533.1 L670.1,533.3 L670.8,533.5 L671.5,533.6 L672.1,533.8 L672.8,534.0 L673.5,534.2 L674.1,534.4 L674.8,534.6 L675.5,534.8 L676.1,535.0 L676.8,535.2 L677.5,535.4 L678.1,535.6 L678.8,535.8 L679.4,536.0 L680.1,536.2 L680.8,536.4 L681.4,536.6 L682.1,536.8 L682.8,537.0 L683.4,537.2 L684.1,537.4 L684.8,537.6 L685.4,537.8 L686.1,538.0 L686.8,538.2 L687.4,538.4 L688.1,538.5 L688.8,538.7 L689.4,538.9 L690.1,539.1 L690.8,539.2 L691.4,539.4 L692.1,539.6 L692.8,539.7 L693.4,539.9 L694.1,540.0 L694.8,540.2 L695.4,540.3 L696.1,540.5 L696.7,540.6 L697.4,540.7 L698.1,540.9 L698.7,541.0 L699.4,541.1 L700.1,541.2 L700.7,541.3 L701.4,541.4 L702.1,541.5 L702.7,541.6 L703.4,541.7 L704.1,541.8 L704.7,541.8 L705.4,541.9 L706.1,542.0 L706.7,542.0 L707.4,542.1 L708.1,542.1 L708.7,542.1 L709.4,542.2 L710.1,542.2 L710.7,542.2 L711.4,542.2 L712.1,542.2 L712.7,542.2 L713.4,542.2 L714.0,542.1 L714.7,542.1 L715.4,542.1 L716.0,542.0 L716.7,541.9 L717.4,541.9 L718.0,541.8 L718.7,541.7 L719.4,541.6 L720.0,541.5 L720.7,541.4 L721.4,541.3 L722.0,541.1 L722.7,541.0 L723.4,540.8 L724.0,540.7 L724.7,540.5 L725.4,540.3 L726.0,540.1 L726.7,539.9 L727.4,539.7 L728.0,539.4 L728.7,539.2 L729.4,538.9 L730.0,538.7 L730.7,538.4 L731.3,538.1 L732.0,537.8 L732.7,537.5 L733.3,537.1 L734.0,536.8 L734.7,536.4 L735.3,536.1 L736.0,535.7 L736.7,535.3 L737.3,534.9 L738.0,534.5 L738.7,534.0 L739.3,533.6 L740.0,533.1 L740.7,532.7 L741.3,532.2 L742.0,531.7 L742.7,531.2 L743.3,530.6 L744.0,530.1 L744.7,529.5 L745.3,528.9 L746.0,528.3" fill="none" stroke="#f00" stroke-width="1.9" stroke-linejoin="round" />
<path d="M422.6,608.0 L423.3,607.6 L423.9,607.2 L424.6,606.8 L425.3,606.4 L425.9,605.9 L426.6,605.5 L427.3,605.0 L427.9,604.6 L428.6,604.1 L429.3,603.7 L429.9,603.2 L430.6,602.8 L431.3,602.4 L431.9,602.0 L432.6,601.6 L433.3,601.3 L433.9,601.0 L434.6,600.7 L435.3,600.4 L435.9,600.3 L436.6,600.1 L437.3,600.0 L437.9,600.0 L438.6,600.0 L439.2,600.0 L439.9,600.2 L440.6,600.4 L441.2,600.6 L441.9,601.0 L442.6,601.4 L443.2,601.9 L443.9,602.5 L444.6,603.2 L445.2,604.0 L445.9,604.8 L446.6,605.8 L447.2,606.8 L447.9,607.8 L448.6,609.0 L449.2,610.1 L449.9,611.3 L450.6,612.6 L451.2,613.9 L451.9,615.2 L452.6,616.5 L453.2,617.8 L453.9,619.1 L454.6,620.4 L455.2,621.7 L455.9,623.0 L456.5,624.2 L457.2,625.4 L457.9,626.6 L458.5,627.7 L459.2,628.8 L459.9,629.8 L460.5,630.8 L461.2,631.7 L461.9,632.6 L462.5,633.4 L463.2,634.2 L463.9,634.9 L464.5,635.5 L465.2,636.1 L465.9,636.7 L466.5,637.2 L467.2,637.6 L467.9,638.0 L468.5,638.3 L469.2,638.6 L469.9,638.8 L470.5,639.0 L471.2,639.1 L471.9,639.2 L472.5,639.2 L473.2,639.2 L473.8,639.1 L474.5,639.0 L475.2,638.8 L475.8,638.7 L476.5,638.4 L477.2,638.2 L477.8,637.9 L478.5,637.6 L479.2,637.3 L479.8,636.9 L480.5,636.6 L481.2,636.2 L481.8,635.8 L482.5,635.3 L483.2,634.9 L483.8,634.5 L484.5,634.0 L485.2,633.6 L485.8,633.1 L486.5,632.7 L487.2,632.2 L487.8,631.8 L488.5,631.3 L489.1,630.8 L489.8,630.4 L490.5,629.9 L491.1,629.4 L491.8,628.8 L492.5,628.3 L493.1,627.8 L493.8,627.2 L494.5,626.6 L495.1,625.9 L495.8,625.3 L496.5,624.6 L497.1,623.9 L497.8,623.2 L498.5,622.4 L499.1,621.6 L499.8,620.7 L500.5,619.8 L501.1,618.9 L501.8,617.9 L502.5,616.9 L503.1,615.9 L503.8,614.9 L504.5,613.8 L505.1,612.7 L505.8,611.5 L506.4,610.4 L507.1,609.2 L507.8,608.0 L508.4,606.8 L509.1,605.5 L509.8,604.3 L510.4,603.0 L511.1,601.7 L511.8,600.4 L512.4,599.1 L513.1,597.8 L513.8,596.5 L514.4,595.2 L515.1,593.8 L515.8,592.5 L516.4,591.2 L517.1,589.9 L517.8,588.5 L518.4,587.2 L519.1,585.9 L519.8,584.6 L520.4,583.4 L521.1,582.1 L521.8,580.9 L522.4,579.6 L523.1,578.4 L523.7,577.3 L524.4,576.1 L525.1,575.0 L525.7,573.9 L526.4,572.9 L527.1,571.8 L527.7,570.9 L528.4,569.9 L529.1,569.0 L529.7,568.1 L530.4,567.3 L531.1,566.5 L531.7,565.7 L532.4,564.9 L533.1,564.2 L533.7,563.5 L534.4,562.8 L535.1,562.2 L535.7,561.5 L536.4,560.9 L537.1,560.4 L537.7,559.8 L538.4,559.2 L539.1,558.7 L539.7,558.2 L540.4,557.7 L541.0,557.2 L541.7,556.7 L542.4,556.3 L543.0,555.8 L543.7,555.4 L544.4,555.0 L545.0,554.6 L545.7,554.2 L546.4,553.8 L547.0,553.4 L547.7,553.0 L548.4,552.7 L549.0,552.4 L549.7,552.0 L550.4,551.7 L551.0,551.4 L551.7,551.1 L552.4,550.8 L553.0,550.5 L553.7,550.2 L554.4,550.0 L555.0,549.7 L555.7,549.5 L556.4,549.2 L557.0,549.0 L557.7,548.8 L558.3,548.5 L559.0,548.3 L559.7,548.1 L560.3,547.9 L561.0,547.7 L561.7,547.6 L562.3,547.4 L563.0,547.2 L563.7,547.0 L564.3,546.9 L565.0,546.7 L565.7,546.6 L566.3,546.4 L567.0,546.3 L567.7,546.2 L568.3,546.0 L569.0,545.9 L569.7,545.8 L570.3,545.7 L571.0,545.5 L571.7,545.4 L572.3,545.3 L573.0,545.2 L573.7,545.1 L574.3,545.0 L575.0,544.9 L575.6,544.8 L576.3,544.7 L577.0,544.6 L577.6,544.5 L578.3,544.4 L579.0,544.3 L579.6,544.2 L580.3,544.1 L581.0,544.0 L581.6,543.9 L582.3,543.8 L583.0,543.7 L583.6,543.6 L584.3,543.5 L585.0,543.4 L585.6,543.3 L586.3,543.2 L587.0,543.1 L587.6,543.0 L588.3,542.9 L589.0,542.8 L589.6,542.7 L590.3,542.6 L591.0,542.5 L591.6,542.4 L592.3,542.2 L592.9,542.1 L593.6,542.0 L594.3,541.9 L594.9,541.8 L595.6,541.6 L596.3,541.5 L596.9,541.4 L597.6,541.3 L598.3,541.1 L598.9,541.0 L599.6,540.9 L600.3,540.7 L600.9,540.6 L601.6,540.5 L602.3,540.4 L602.9,540.2 L603.6,540.1 L604.3,540.0 L604.9,539.8 L605.6,539.7 L606.3,539.6 L606.9,539.4 L607.6,539.3 L608.3,539.2 L608.9,539.0 L609.6,538.9 L610.2,538.8 L610.9,538.6 L611.6,538.5 L612.2,538.4 L612.9,538.2 L613.6,538.1 L614.2,538.0 L614.9,537.8 L615.6,537.7 L616.2,537.6 L616.9,537.4 L617.6,537.3 L618.2,537.2 L618.9,537.0 L619.6,536.9 L620.2,536.8 L620.9,536.6 L621.6,536.5 L622.2,536.4 L622.9,536.3 L623.6,536.1 L624.2,536.0 L624.9,535.9 L625.6,535.8 L626.2,535.7 L626.9,535.5 L627.5,535.4 L628.2,535.3 L628.9,535.2 L629.5,535.1 L630.2,535.0 L630.9,534.9 L631.5,534.8 L632.2,534.6 L632.9,534.5 L633.5,534.4 L634.2,534.3 L634.9,534.2 L635.5,534.1 L636.2,534.0 L636.9,533.9 L637.5,533.9 L638.2,533.8 L638.9,533.7 L639.5,533.6 L640.2,533.5 L640.9,533.4 L641.5,533.3 L642.2,533.3 L642.9,533.2 L643.5,533.1 L644.2,533.1 L644.8,533.0 L645.5,532.9 L646.2,532.9 L646.8,532.8 L647.5,532.8 L648.2,532.7 L648.8,532.6 L649.5,532.6 L650.2,532.6 L650.8,532.5 L651.5,532.5 L652.2,532.4 L652.8,532.4 L653.5,532.4 L654.2,532.3 L654.8,532.3 L655.5,532.3 L656.2,532.3 L656.8,532.3 L657.5,532.3 L658.2,532.2 L658.8,532.2 L659.5,532.2 L660.2,532.2 L660.8,532.2 L661.5,532.2 L662.1,532.2 L662.8,532.2 L663.5,532.2 L664.1,532.2 L664.8,532.3 L665.5,532.3 L666.1,532.3 L666.8,532.3 L667.5,532.3 L668.1,532.4 L668.8,532.4 L669.5,532.4 L670.1,532.4 L670.8,532.5 L671.5,532.5 L672.1,532.5 L672.8,532.6 L673.5,532.6 L674.1,532.7 L674.8,532.7 L675.5,532.7 L676.1,532.8 L676.8,532.8 L677.5,532.9 L678.1,532.9 L678.8,533.0 L679.4,533.1 L680.1,533.1 L680.8,533.2 L681.4,533.2 L682.1,533.3 L682.8,533.4 L683.4,533.4 L684.1,533.5 L684.8,533.6 L685.4,533.6 L686.1,533.7 L686.8,533.8 L687.4,533.8 L688.1,533.9 L688.8,534.0 L689.4,534.1 L690.1,534.2 L690.8,534.2 L691.4,534.3 L692.1,534.4 L692.8,534.5 L693.4,534.6 L694.1,534.6 L694.8,534.7 L695.4,534.8 L696.1,534.9 L696.7,535.0 L697.4,535.1 L698.1,535.2 L698.7,535.3 L699.4,535.4 L700.1,535.5 L700.7,535.6 L701.4,535.6 L702.1,535.7 L702.7,535.8 L703.4,535.9 L704.1,536.0 L704.7,536.1 L705.4,536.2 L706.1,536.3 L706.7,536.4 L707.4,536.5 L708.1,536.6 L708.7,536.7 L709.4,536.8 L710.1,536.9 L710.7,537.0 L711.4,537.1 L712.1,537.2 L712.7,537.4 L713.4,537.5 L714.0,537.6 L714.7,537.7 L715.4,537.8 L716.0,537.9 L716.7,538.0 L717.4,538.1 L718.0,538.2 L718.7,538.3 L719.4,538.4 L720.0,538.5 L720.7,538.6 L721.4,538.7 L722.0,538.8 L722.7,538.9 L723.4,539.0 L724.0,539.1 L724.7,539.2 L725.4,539.3 L726.0,539.4 L726.7,539.5 L727.4,539.6 L728.0,539.7 L728.7,539.8 L729.4,539.9 L730.0,540.0 L730.7,540.1 L731.3,540.2 L732.0,540.3 L732.7,540.4 L733.3,540.5 L734.0,540.6 L734.7,540.7 L735.3,540.8 L736.0,540.9 L736.7,541.0 L737.3,541.1 L738.0,541.2 L738.7,541.3 L739.3,541.4 L740.0,541.5 L740.7,541.6 L741.3,541.6 L742.0,541.7 L742.7,541.8 L743.3,541.9 L744.0,542.0 L744.7,542.1 L745.3,542.1 L746.0,542.2" fill="none" stroke="#00cd00" stroke-width="1.9" stroke-linejoin="round" />
<path d="M423.8,599.5 L424.4,599.3 L425.1,599.1 L425.8,598.9 L426.4,598.8 L427.1,598.8 L427.8,598.7 L428.4,598.8 L429.1,598.9 L429.8,599.0 L430.4,599.2 L431.1,599.4 L431.7,599.6 L432.4,599.9 L433.1,600.2 L433.7,600.6 L434.4,601.0 L435.1,601.4 L435.7,601.8 L436.4,602.3 L437.1,602.8 L437.7,603.3 L438.4,603.9 L439.1,604.4 L439.7,605.0 L440.4,605.7 L441.1,606.3 L441.7,606.9 L442.4,607.6 L443.1,608.3 L443.7,609.0 L444.4,609.7 L445.1,610.4 L445.7,611.2 L446.4,611.9 L447.1,612.6 L447.7,613.4 L448.4,614.1 L449.1,614.9 L449.7,615.7 L450.4,616.4 L451.1,617.2 L451.7,617.9 L452.4,618.7 L453.1,619.4 L453.7,620.1 L454.4,620.9 L455.0,621.6 L455.7,622.3 L456.4,623.0 L457.0,623.7 L457.7,624.3 L458.4,625.0 L459.0,625.6 L459.7,626.2 L460.4,626.8 L461.0,627.4 L461.7,627.9 L462.4,628.4 L463.0,629.0 L463.7,629.5 L464.4,629.9 L465.0,630.4 L465.7,630.8 L466.4,631.2 L467.0,631.6 L467.7,632.0 L468.4,632.4 L469.0,632.7 L469.7,633.0 L470.4,633.3 L471.0,633.6 L471.7,633.8 L472.4,634.1 L473.0,634.3 L473.7,634.4 L474.4,634.6 L475.0,634.7 L475.7,634.9 L476.4,634.9 L477.0,635.0 L477.7,635.1 L478.4,635.1 L479.0,635.1 L479.7,635.0 L480.3,635.0 L481.0,634.9 L481.7,634.8 L482.3,634.7 L483.0,634.5 L483.7,634.4 L484.3,634.2 L485.0,633.9 L485.7,633.7 L486.3,633.4 L487.0,633.1 L487.7,632.8 L488.3,632.4 L489.0,632.0 L489.7,631.6 L490.3,631.2 L491.0,630.7 L491.7,630.2 L492.3,629.7 L493.0,629.2 L493.7,628.6 L494.3,628.0 L495.0,627.4 L495.7,626.7 L496.3,626.0 L497.0,625.3 L497.7,624.6 L498.3,623.8 L499.0,623.0 L499.7,622.2 L500.3,621.3 L501.0,620.4 L501.7,619.5 L502.3,618.6 L503.0,617.6 L503.6,616.6 L504.3,615.5 L505.0,614.5 L505.6,613.4 L506.3,612.2 L507.0,611.1 L507.6,609.9 L508.3,608.7 L509.0,607.4 L509.6,606.2 L510.3,604.9 L511.0,603.6 L511.6,602.3 L512.3,601.0 L513.0,599.7 L513.6,598.3 L514.3,597.0 L515.0,595.7 L515.6,594.3 L516.3,593.0 L517.0,591.7 L517.6,590.4 L518.3,589.1 L519.0,587.8 L519.6,586.5 L520.3,585.3 L521.0,584.1 L521.6,582.9 L522.3,581.7 L523.0,580.5 L523.6,579.4 L524.3,578.3 L525.0,577.2 L525.6,576.1 L526.3,575.1 L527.0,574.0 L527.6,573.0 L528.3,572.0 L528.9,571.1 L529.6,570.1 L530.3,569.2 L530.9,568.3 L531.6,567.4 L532.3,566.6 L532.9,565.7 L533.6,564.9 L534.3,564.1 L534.9,563.3 L535.6,562.6 L536.3,561.9 L536.9,561.2 L537.6,560.5 L538.3,559.8 L538.9,559.2 L539.6,558.6 L540.3,558.0 L540.9,557.4 L541.6,556.8 L542.3,556.3 L542.9,555.8 L543.6,555.3 L544.3,554.8 L544.9,554.4 L545.6,554.0 L546.3,553.6 L546.9,553.2 L547.6,552.8 L548.3,552.5 L548.9,552.2 L549.6,551.9 L550.3,551.6 L550.9,551.4 L551.6,551.1 L552.3,550.9 L552.9,550.7 L553.6,550.5 L554.2,550.3 L554.9,550.2 L555.6,550.0 L556.2,549.9 L556.9,549.8 L557.6,549.7 L558.2,549.6 L558.9,549.5 L559.6,549.4 L560.2,549.3 L560.9,549.2 L561.6,549.2 L562.2,549.1 L562.9,549.0 L563.6,549.0 L564.2,548.9 L564.9,548.9 L565.6,548.8 L566.2,548.8 L566.9,548.7 L567.6,548.7 L568.2,548.6 L568.9,548.5 L569.6,548.5 L570.2,548.4 L570.9,548.3 L571.6,548.2 L572.2,548.1 L572.9,548.0 L573.6,547.9 L574.2,547.8 L574.9,547.6 L575.6,547.5 L576.2,547.4 L576.9,547.2 L577.5,547.0 L578.2,546.9 L578.9,546.7 L579.5,546.5 L580.2,546.3 L580.9,546.1 L581.5,545.9 L582.2,545.7 L582.9,545.5 L583.5,545.3 L584.2,545.1 L584.9,544.8 L585.5,544.6 L586.2,544.4 L586.9,544.1 L587.5,543.9 L588.2,543.7 L588.9,543.4 L589.5,543.2 L590.2,542.9 L590.9,542.7 L591.5,542.4 L592.2,542.2 L592.9,541.9 L593.5,541.7 L594.2,541.4 L594.9,541.1 L595.5,540.9 L596.2,540.6 L596.9,540.4 L597.5,540.1 L598.2,539.9 L598.9,539.7 L599.5,539.4 L600.2,539.2 L600.9,538.9 L601.5,538.7 L602.2,538.5 L602.8,538.2 L603.5,538.0 L604.2,537.8 L604.8,537.5 L605.5,537.3 L606.2,537.1 L606.8,536.9 L607.5,536.7 L608.2,536.5 L608.8,536.3 L609.5,536.1 L610.2,535.9 L610.8,535.7 L611.5,535.5 L612.2,535.3 L612.8,535.1 L613.5,534.9 L614.2,534.7 L614.8,534.5 L615.5,534.4 L616.2,534.2 L616.8,534.0 L617.5,533.8 L618.2,533.7 L618.8,533.5 L619.5,533.4 L620.2,533.2 L620.8,533.1 L621.5,532.9 L622.2,532.8 L622.8,532.6 L623.5,532.5 L624.2,532.4 L624.8,532.2 L625.5,532.1 L626.2,532.0 L626.8,531.9 L627.5,531.8 L628.1,531.7 L628.8,531.6 L629.5,531.5 L630.1,531.4 L630.8,531.3 L631.5,531.2 L632.1,531.1 L632.8,531.0 L633.5,531.0 L634.1,530.9 L634.8,530.8 L635.5,530.8 L636.1,530.7 L636.8,530.7 L637.5,530.6 L638.1,530.6 L638.8,530.5 L639.5,530.5 L640.1,530.5 L640.8,530.5 L641.5,530.4 L642.1,530.4 L642.8,530.4 L643.5,530.4 L644.1,530.4 L644.8,530.4 L645.5,530.4 L646.1,530.5 L646.8,530.5 L647.5,530.5 L648.1,530.6 L648.8,530.6 L649.5,530.6 L650.1,530.7 L650.8,530.7 L651.4,530.8 L652.1,530.8 L652.8,530.9 L653.4,531.0 L654.1,531.0 L654.8,531.1 L655.4,531.2 L656.1,531.3 L656.8,531.4 L657.4,531.5 L658.1,531.5 L658.8,531.6 L659.4,531.7 L660.1,531.8 L660.8,531.9 L661.4,532.1 L662.1,532.2 L662.8,532.3 L663.4,532.4 L664.1,532.5 L664.8,532.6 L665.4,532.7 L666.1,532.9 L666.8,533.0 L667.4,533.1 L668.1,533.2 L668.8,533.4 L669.4,533.5 L670.1,533.6 L670.8,533.8 L671.4,533.9 L672.1,534.0 L672.8,534.2 L673.4,534.3 L674.1,534.5 L674.8,534.6 L675.4,534.7 L676.1,534.9 L676.7,535.0 L677.4,535.2 L678.1,535.3 L678.7,535.5 L679.4,535.6 L680.1,535.7 L680.7,535.9 L681.4,536.0 L682.1,536.2 L682.7,536.3 L683.4,536.5 L684.1,536.6 L684.7,536.7 L685.4,536.9 L686.1,537.0 L686.7,537.2 L687.4,537.3 L688.1,537.4 L688.7,537.6 L689.4,537.7 L690.1,537.8 L690.7,538.0 L691.4,538.1 L692.1,538.2 L692.7,538.3 L693.4,538.5 L694.1,538.6 L694.7,538.7 L695.4,538.8 L696.1,538.9 L696.7,539.0 L697.4,539.1 L698.1,539.2 L698.7,539.3 L699.4,539.4 L700.0,539.5 L700.7,539.6 L701.4,539.7 L702.0,539.8 L702.7,539.9 L703.4,540.0 L704.0,540.1 L704.7,540.1 L705.4,540.2 L706.0,540.3 L706.7,540.3 L707.4,540.4 L708.0,540.4 L708.7,540.5 L709.4,540.5 L710.0,540.6 L710.7,540.6 L711.4,540.6 L712.0,540.7 L712.7,540.7 L713.4,540.7 L714.0,540.7 L714.7,540.7 L715.4,540.7 L716.0,540.7 L716.7,540.7 L717.4,540.7 L718.0,540.7 L718.7,540.7 L719.4,540.6 L720.0,540.6 L720.7,540.6 L721.4,540.5 L722.0,540.4 L722.7,540.4 L723.4,540.3 L724.0,540.2 L724.7,540.2 L725.3,540.1 L726.0,540.0 L726.7,539.9 L727.3,539.8 L728.0,539.7 L728.7,539.5 L729.3,539.4 L730.0,539.3 L730.7,539.1 L731.3,539.0 L732.0,538.8 L732.7,538.6 L733.3,538.5 L734.0,538.3 L734.7,538.1 L735.3,537.9 L736.0,537.7 L736.7,537.5 L737.3,537.2 L738.0,537.0 L738.7,536.8 L739.3,536.5 L740.0,536.3 L740.7,536.0 L741.3,535.7 L742.0,535.4 L742.7,535.1 L743.3,534.8 L744.0,534.5 L744.7,534.2 L745.3,533.9 L746.0,533.5" fill="none" stroke="#00f" stroke-width="1.9" stroke-linejoin="round" />
<text x="443.6" y="402.8" textLength="115" lengthAdjust="spacingAndGlyphs">10 degrees of freedom</text>
</g>
<rect x="410.5" y="395.5" width="348.1" height="333.20000000000005" fill="none" stroke="#303030" stroke-width="1.3"/>
<text x="421.3" y="756" text-anchor="middle">0</text><text x="484.0" y="756" text-anchor="middle" textLength="12.6" lengthAdjust="spacingAndGlyphs">10</text><text x="545.8" y="756" text-anchor="middle" textLength="12.6" lengthAdjust="spacingAndGlyphs">20</text><text x="609.4" y="756" text-anchor="middle" textLength="12.6" lengthAdjust="spacingAndGlyphs">30</text><text x="672.1" y="756" text-anchor="middle" textLength="12.6" lengthAdjust="spacingAndGlyphs">40</text><text x="734.8" y="756" text-anchor="middle" textLength="12.6" lengthAdjust="spacingAndGlyphs">50</text><text transform="translate(784.8,673.6) rotate(-90)" text-anchor="middle">1.5</text><text transform="translate(784.8,610.3) rotate(-90)" text-anchor="middle">2.0</text><text transform="translate(784.8,546.9) rotate(-90)" text-anchor="middle">2.5</text><text transform="translate(784.8,483.6) rotate(-90)" text-anchor="middle">3.0</text><text transform="translate(784.8,420.3) rotate(-90)" text-anchor="middle">3.5</text>
<path d="M421.3,728.7v7.9M484.0,728.7v7.9M546.7,728.7v7.9M609.4,728.7v7.9M672.1,728.7v7.9M734.8,728.7v7.9M758.6,673.6h7.9M758.6,610.3h7.9M758.6,546.9h7.9M758.6,483.6h7.9M758.6,420.3h7.9" stroke="#303030" stroke-width="1.3" fill="none"/>
<text x="229.1" y="784.2" text-anchor="middle" textLength="66" lengthAdjust="spacingAndGlyphs">Age in years</text>
<text x="584.1" y="784.2" text-anchor="middle" textLength="66" lengthAdjust="spacingAndGlyphs">Age in years</text>
<text transform="translate(9.6,561.85) rotate(-90)" text-anchor="middle" textLength="200.3" lengthAdjust="spacingAndGlyphs">Triceps skinfold thickness in mm (log)</text>
</svg>
</body></html>
